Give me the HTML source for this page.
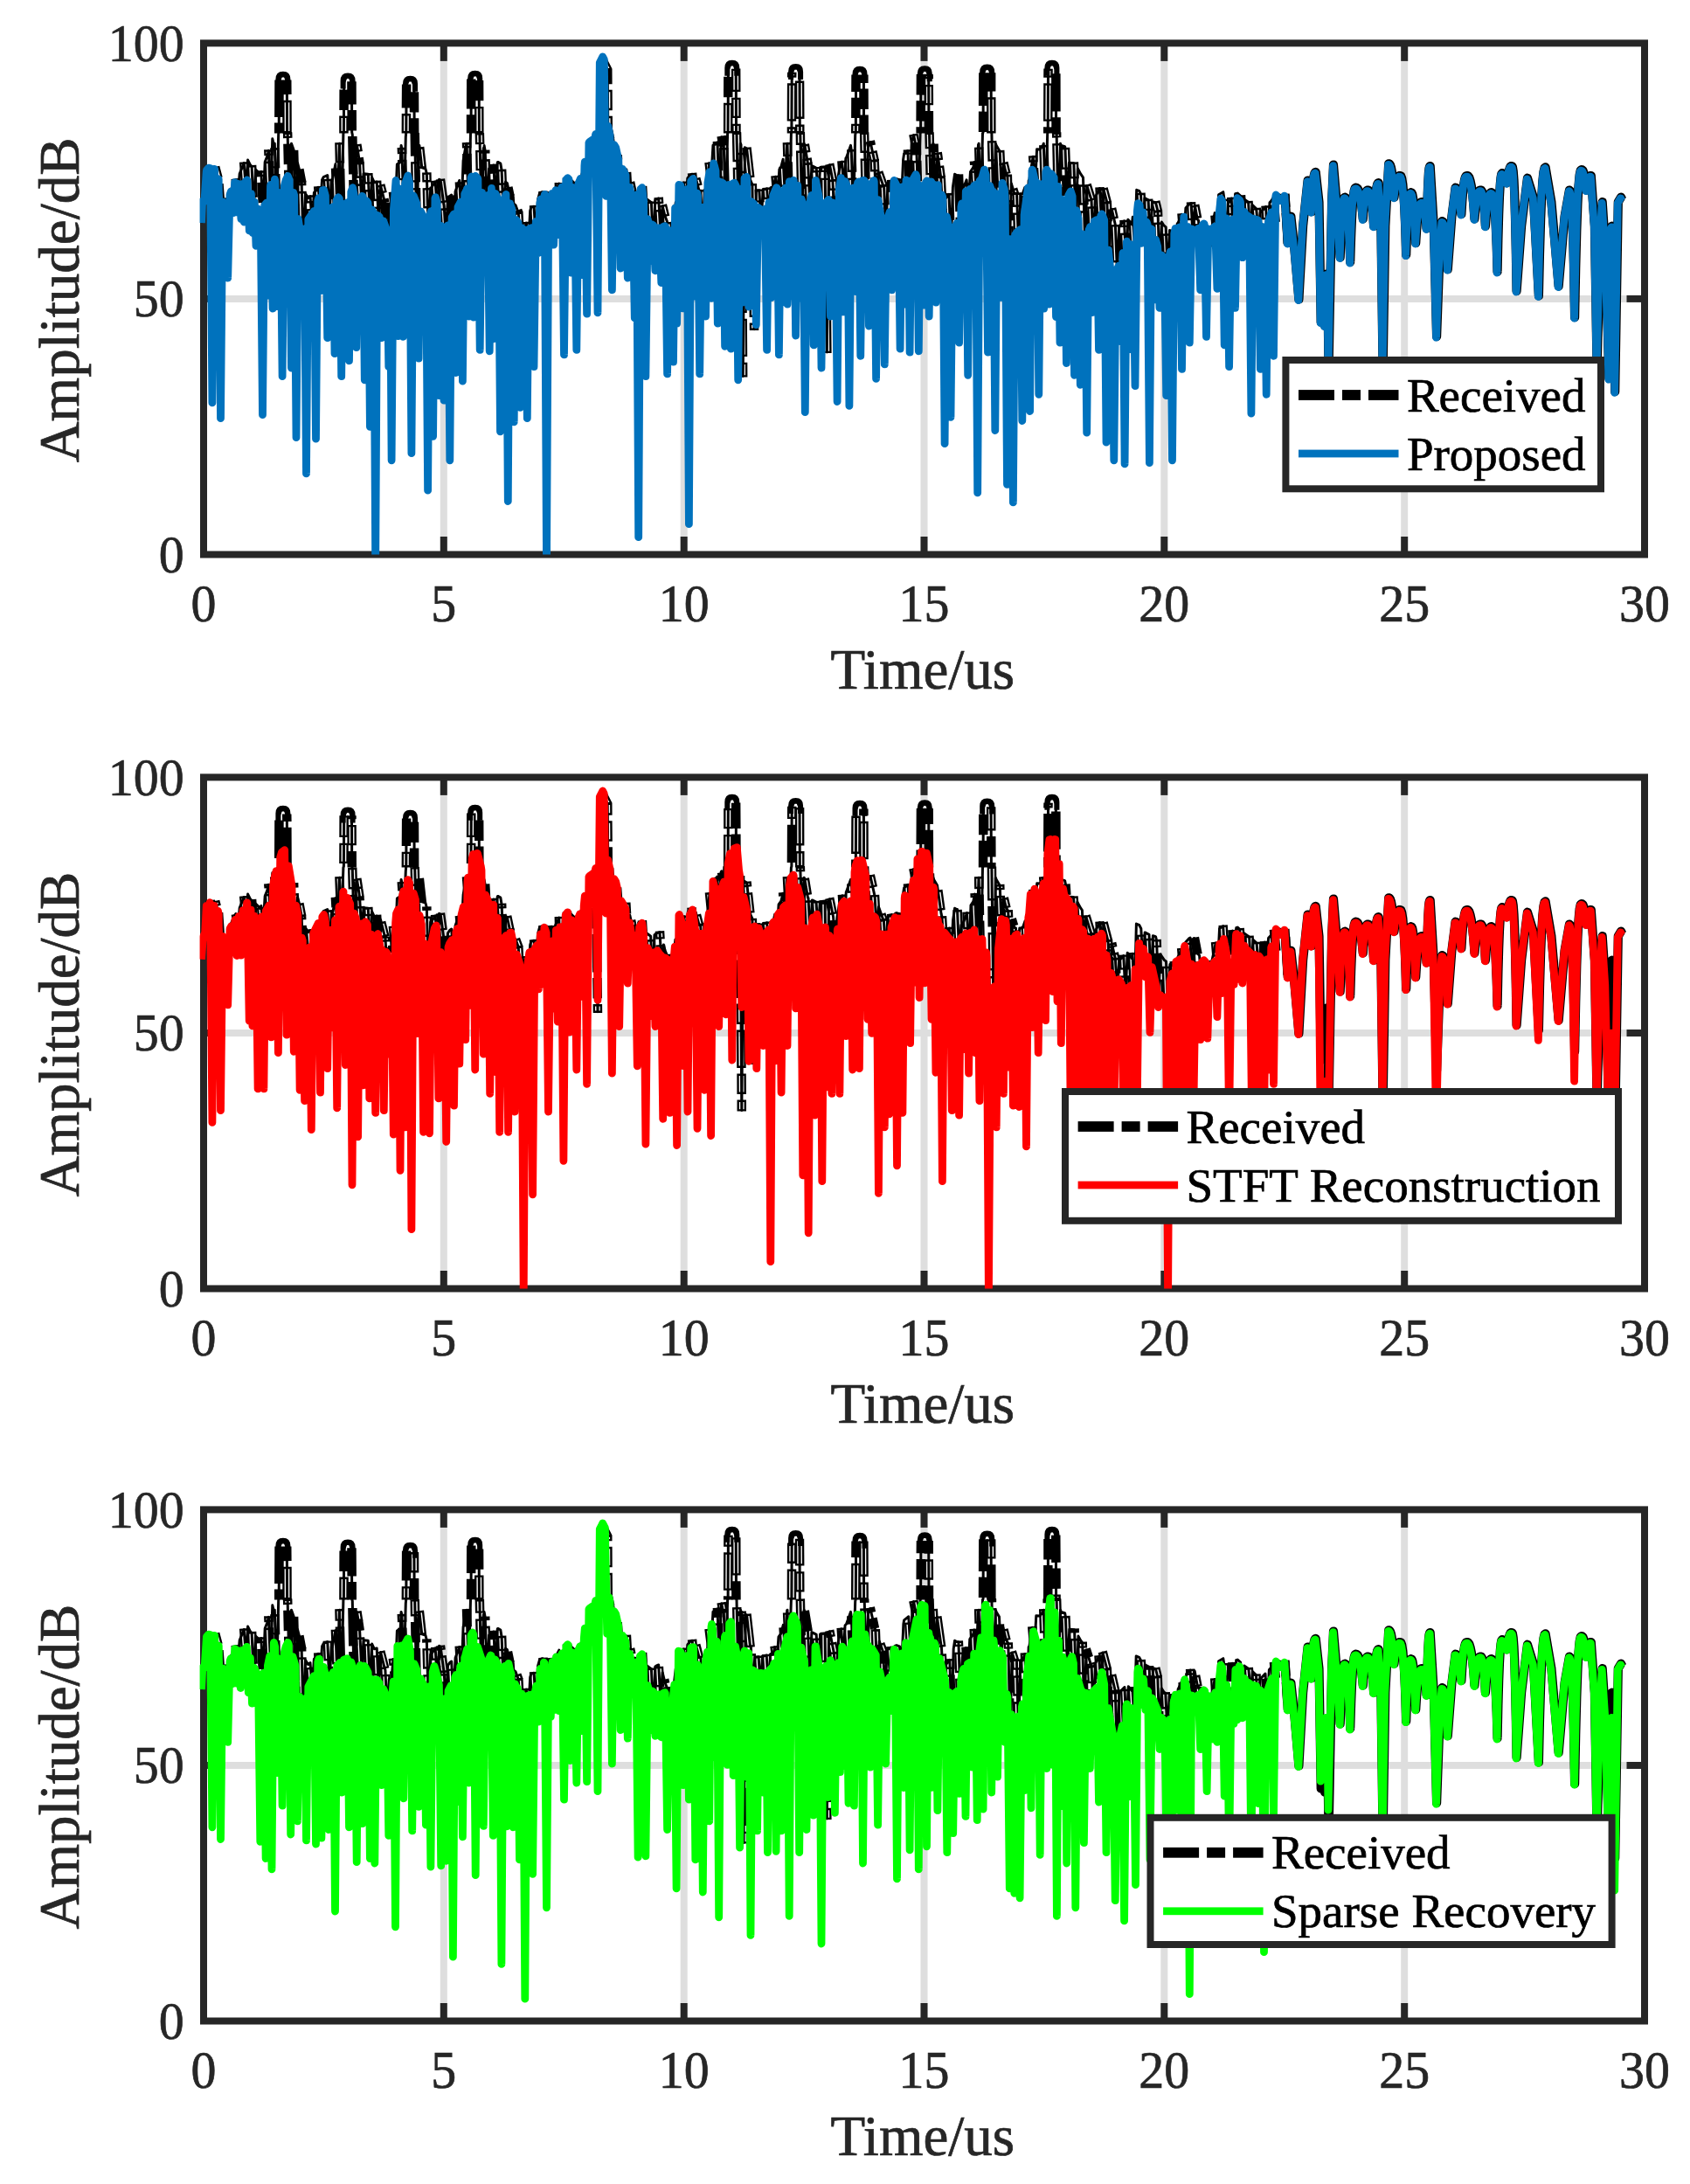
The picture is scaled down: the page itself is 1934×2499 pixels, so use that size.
<!DOCTYPE html>
<html lang="en"><head><meta charset="utf-8"><title>Amplitude vs Time</title>
<style>
html,body{margin:0;padding:0;background:#fff}
svg{display:block}
text{font-family:"Liberation Serif","Times New Roman",serif;stroke-width:0.7px;paint-order:stroke fill}
.tk,.lb{stroke:#262626}
.lg{stroke:#000}
.tk{font-size:60px;fill:#262626}
.lb{font-size:65px;fill:#262626}
.lg{font-size:55px;fill:#000}
.c{fill:none;stroke-linejoin:round;stroke-linecap:butt}
</style></head><body>
<svg width="1934" height="2499" viewBox="0 0 1934 2499">
<rect width="1934" height="2499" fill="#fff"/>
<defs><clipPath id="cp0"><rect x="228.6" y="49.4" width="1657.8" height="585.1"/></clipPath><clipPath id="cp1"><rect x="228.6" y="889.4" width="1657.8" height="585.1"/></clipPath><clipPath id="cp2"><rect x="228.6" y="1727.4" width="1657.8" height="585.1"/></clipPath></defs>
<g id="plot1">
<line x1="507.8" y1="49.4" x2="507.8" y2="634.5" stroke="#dedede" stroke-width="8"/>
<line x1="782.7" y1="49.4" x2="782.7" y2="634.5" stroke="#dedede" stroke-width="8"/>
<line x1="1057.5" y1="49.4" x2="1057.5" y2="634.5" stroke="#dedede" stroke-width="8"/>
<line x1="1332.3" y1="49.4" x2="1332.3" y2="634.5" stroke="#dedede" stroke-width="8"/>
<line x1="1607.2" y1="49.4" x2="1607.2" y2="634.5" stroke="#dedede" stroke-width="8"/>
<line x1="233.0" y1="341.9" x2="1882.0" y2="341.9" stroke="#dedede" stroke-width="8"/>
<line x1="507.8" y1="634.5" x2="507.8" y2="614.0" stroke="#262626" stroke-width="8"/>
<line x1="507.8" y1="49.4" x2="507.8" y2="69.9" stroke="#262626" stroke-width="8"/>
<line x1="782.7" y1="634.5" x2="782.7" y2="614.0" stroke="#262626" stroke-width="8"/>
<line x1="782.7" y1="49.4" x2="782.7" y2="69.9" stroke="#262626" stroke-width="8"/>
<line x1="1057.5" y1="634.5" x2="1057.5" y2="614.0" stroke="#262626" stroke-width="8"/>
<line x1="1057.5" y1="49.4" x2="1057.5" y2="69.9" stroke="#262626" stroke-width="8"/>
<line x1="1332.3" y1="634.5" x2="1332.3" y2="614.0" stroke="#262626" stroke-width="8"/>
<line x1="1332.3" y1="49.4" x2="1332.3" y2="69.9" stroke="#262626" stroke-width="8"/>
<line x1="1607.2" y1="634.5" x2="1607.2" y2="614.0" stroke="#262626" stroke-width="8"/>
<line x1="1607.2" y1="49.4" x2="1607.2" y2="69.9" stroke="#262626" stroke-width="8"/>
<line x1="233.0" y1="341.9" x2="253.5" y2="341.9" stroke="#262626" stroke-width="8"/>
<line x1="1882.0" y1="341.9" x2="1861.5" y2="341.9" stroke="#262626" stroke-width="8"/>
<rect x="233.0" y="49.4" width="1649.0" height="585.1" fill="none" stroke="#262626" stroke-width="8"/>
<g clip-path="url(#cp0)"><g transform="translate(0 0)">
<path class="c" stroke="#000" stroke-width="3" d="M230.5 255.1 L232.3 230.1 L233.7 217.9 L236.5 193.4 L238.7 190.9 L240.7 191.2 L242.9 216.9 L245.1 191.9 L246.5 192.2 L250.1 205.6 L252.3 236.3 L254.5 228.0 L257.4 251.3 L260.1 236.7 L262.3 243.6 L264.5 216.7 L268.7 207.2 L269.8 205.5 L272.0 224.3 L274.2 198.9 L279.2 186.5 L281.4 215.7 L283.6 183.1 L286.5 188.9 L288.1 190.3 L290.3 242.1 L292.5 194.1 L297.8 199.1 L298.8 196.5 L301.0 239.1 L303.2 185.3 L305.8 178.8 L307.4 172.4 L309.6 229.1 L311.8 158.8 L313.5 166.4 L314.3 164.2 L316.5 246.5 L318.7 152.7 L319.2 151.3 L319.5 92.7 L321.7 87.0 L326.1 87.0 L328.3 92.7 L328.6 151.3 L329.1 152.7 L331.3 240.4 L333.5 164.2 L334.3 166.4 L336.1 171.5 L338.3 257.6 L340.5 186.4 L342.7 194.9 L345.1 208.1 L347.3 288.4 L349.5 221.5 L352.7 226.6 L355.0 224.5 L357.2 255.5 L359.4 220.4 L362.7 217.2 L364.2 214.3 L366.4 238.7 L368.6 205.7 L370.2 202.6 L374.7 200.5 L374.8 200.6 L377.0 247.2 L379.2 206.1 L380.2 207.3 L383.9 187.8 L386.1 243.9 L388.3 164.6 L388.5 164.2 L390.7 264.5 L392.9 152.7 L393.4 151.3 L393.7 94.4 L395.9 88.6 L400.3 88.6 L402.5 94.4 L402.7 151.3 L403.3 154.0 L405.5 259.0 L407.7 169.9 L408.5 166.4 L410.0 176.1 L411.6 186.9 L413.8 232.9 L416.0 198.7 L421.3 199.3 L423.5 256.2 L425.7 203.1 L428.4 208.8 L431.2 208.0 L433.4 256.8 L435.6 212.6 L440.2 230.8 L440.9 232.7 L443.1 281.2 L445.3 243.3 L447.5 248.5 L450.0 220.6 L452.2 241.3 L454.4 188.0 L458.2 185.4 L459.1 166.4 L459.9 170.1 L462.1 248.1 L464.3 156.4 L464.8 151.3 L465.1 97.7 L467.3 91.9 L471.7 91.9 L473.9 97.7 L474.2 151.3 L474.7 153.3 L476.9 266.9 L479.1 169.6 L479.9 172.4 L479.9 166.4 L482.8 191.8 L486.9 193.0 L488.3 198.5 L490.5 274.7 L492.7 215.1 L492.9 215.6 L498.1 208.0 L498.2 207.9 L500.4 244.7 L502.6 205.3 L504.1 206.0 L508.0 234.8 L508.1 234.7 L510.3 269.5 L512.5 227.8 L514.6 224.5 L516.7 223.0 L518.9 268.7 L521.1 219.0 L525.7 206.5 L527.9 245.1 L530.1 184.1 L532.4 170.5 L533.2 166.4 L534.1 164.2 L536.3 245.2 L538.5 152.7 L539.0 151.3 L539.3 91.6 L541.5 85.9 L545.9 85.9 L548.1 91.6 L548.4 151.3 L548.9 153.3 L551.1 253.2 L553.3 169.6 L554.1 172.4 L554.1 166.4 L555.2 172.8 L557.4 241.2 L559.6 193.0 L564.9 189.0 L567.1 232.7 L569.3 185.7 L569.8 185.4 L572.8 187.0 L574.1 195.0 L576.3 249.7 L578.5 208.3 L580.4 209.5 L583.4 223.8 L585.6 259.2 L587.8 233.2 L590.0 234.7 L593.3 243.8 L595.5 285.4 L597.7 256.0 L600.0 262.3 L602.3 255.1 L604.5 284.7 L606.7 241.1 L607.8 237.4 L611.1 236.2 L613.3 276.0 L615.5 228.3 L617.6 220.8 L620.6 219.7 L621.5 220.0 L623.7 250.6 L625.9 221.0 L631.3 220.3 L633.5 239.8 L635.7 218.3 L639.8 210.1 L640.0 221.1 L640.1 220.8 L642.3 240.0 L644.5 211.9 L648.0 204.8 L649.0 204.3 L651.2 226.9 L653.4 205.7 L657.9 210.1 L658.8 209.2 L661.0 228.7 L663.2 204.8 L664.5 203.5 L668.1 192.6 L670.3 199.9 L672.5 170.0 L674.6 166.3 L677.7 164.1 L679.9 179.4 L682.1 155.3 L683.7 147.8 L684.2 79.7 L689.7 69.0 L689.8 69.2 L695.2 79.7 L695.8 147.8 L697.9 157.9 L700.1 179.9 L702.3 168.9 L704.8 173.1 L706.7 178.5 L708.9 209.9 L711.1 191.0 L711.7 192.7 L716.9 194.0 L719.1 231.9 L721.3 209.7 L723.8 221.1 L726.4 219.1 L728.6 241.0 L730.8 215.7 L731.8 214.9 L735.2 214.4 L737.4 251.9 L739.6 227.4 L745.4 231.8 L747.6 284.9 L749.8 229.0 L751.3 227.9 L753.7 227.0 L755.9 268.1 L758.1 235.7 L761.0 247.3 L763.4 253.3 L765.6 281.4 L767.8 264.4 L769.1 267.8 L773.3 231.4 L775.5 236.4 L777.7 210.6 L782.4 209.0 L784.6 231.3 L786.8 204.0 L789.5 200.5 L792.2 199.2 L794.4 225.8 L796.6 205.1 L800.1 218.5 L801.9 218.2 L804.1 270.8 L806.3 217.3 L808.8 216.8 L811.6 186.8 L813.8 203.8 L816.0 166.2 L819.7 164.6 L821.0 162.9 L823.2 225.9 L825.4 157.3 L825.8 156.8 L827.4 166.4 L828.2 164.2 L830.4 245.1 L832.6 152.7 L833.1 151.3 L833.4 79.8 L835.6 74.1 L840.0 74.1 L842.2 79.8 L842.5 151.3 L843.0 152.7 L845.2 252.6 L847.4 164.2 L848.0 165.6 L850.2 430.4 L852.4 168.7 L854.6 170.0 L858.5 205.6 L860.9 211.2 L863.1 376.8 L865.3 218.1 L868.8 217.7 L871.0 255.9 L873.2 217.0 L874.2 216.9 L877.6 215.9 L879.8 243.8 L882.0 214.6 L885.1 213.7 L887.5 202.2 L889.7 225.9 L891.9 193.7 L893.8 191.2 L896.1 182.3 L898.3 221.6 L900.5 165.5 L901.0 164.2 L903.2 242.0 L905.4 152.7 L905.9 151.3 L906.2 84.0 L908.4 78.2 L912.8 78.2 L915.0 84.0 L915.3 151.3 L915.8 152.7 L918.0 264.6 L920.2 164.2 L921.0 166.4 L924.5 187.3 L924.6 187.4 L926.8 231.4 L929.0 189.7 L934.0 192.2 L934.2 192.2 L936.4 228.7 L938.6 191.6 L944.1 191.0 L946.3 402.9 L948.5 189.2 L949.5 188.8 L953.0 206.6 L955.2 265.4 L957.4 212.2 L961.8 186.8 L963.5 185.2 L965.7 215.4 L967.9 181.0 L968.6 180.2 L973.5 166.4 L974.3 172.2 L976.5 249.2 L978.7 154.6 L979.3 151.3 L979.6 86.7 L981.8 80.9 L986.2 80.9 L988.4 86.7 L988.6 151.3 L989.2 152.7 L991.4 244.2 L993.6 164.2 L994.4 166.4 L996.0 162.6 L1000.7 183.8 L1002.9 241.3 L1005.1 196.6 L1005.7 198.3 L1010.9 212.8 L1011.6 212.4 L1013.8 268.0 L1016.0 209.5 L1020.3 206.7 L1022.5 228.2 L1024.7 205.1 L1026.0 204.6 L1029.2 205.6 L1031.4 232.4 L1033.6 182.7 L1034.6 175.9 L1038.9 172.5 L1041.1 231.8 L1043.3 161.6 L1045.6 154.6 L1047.9 166.4 L1048.7 164.2 L1050.9 241.2 L1053.1 152.7 L1053.6 151.3 L1053.9 86.2 L1056.1 80.4 L1060.5 80.4 L1062.7 86.2 L1063.0 151.3 L1063.5 152.7 L1065.7 242.1 L1067.9 164.2 L1068.5 165.8 L1070.7 226.1 L1072.9 175.8 L1076.7 202.9 L1078.9 246.8 L1081.1 221.3 L1082.5 226.6 L1086.0 222.3 L1088.2 282.5 L1090.4 214.2 L1092.6 199.3 L1094.8 200.5 L1097.1 200.7 L1099.3 264.9 L1101.5 218.1 L1106.1 205.8 L1108.3 232.0 L1110.5 196.6 L1113.8 191.5 L1115.1 185.5 L1117.3 217.5 L1119.5 165.8 L1120.1 164.2 L1122.3 239.7 L1124.5 152.7 L1125.1 151.3 L1125.3 84.5 L1127.5 78.7 L1131.9 78.7 L1134.1 84.5 L1134.4 151.3 L1134.9 152.7 L1137.1 253.6 L1139.3 164.2 L1140.2 166.4 L1144.2 173.3 L1146.4 222.8 L1148.6 187.1 L1151.3 198.2 L1152.9 200.9 L1155.1 296.2 L1157.3 210.0 L1160.9 221.6 L1163.6 221.7 L1165.8 287.9 L1168.0 221.9 L1170.2 222.0 L1172.8 214.5 L1175.0 249.7 L1177.2 206.6 L1177.9 205.8 L1182.2 179.3 L1184.4 214.9 L1186.6 170.8 L1190.2 170.9 L1193.5 166.4 L1194.3 164.2 L1196.5 232.2 L1198.7 152.7 L1199.2 151.3 L1199.5 79.8 L1201.7 74.1 L1206.1 74.1 L1208.3 79.8 L1208.6 151.3 L1209.1 152.7 L1211.3 249.4 L1213.5 164.2 L1214.3 166.4 L1218.6 167.6 L1219.0 170.0 L1221.2 233.4 L1223.4 186.3 L1228.9 186.7 L1231.1 256.8 L1233.3 192.8 L1236.6 198.9 L1239.5 203.1 L1241.7 279.6 L1243.9 212.5 L1249.0 228.7 L1251.2 281.2 L1253.4 225.5 L1258.5 215.5 L1260.7 258.2 L1262.9 216.7 L1266.9 231.9 L1269.1 294.8 L1271.3 238.9 L1272.3 239.6 L1276.3 257.0 L1278.5 311.9 L1280.7 258.9 L1286.5 252.9 L1288.7 303.8 L1290.9 251.2 L1295.4 256.8 L1296.3 248.2 L1298.5 282.5 L1300.7 217.3 L1303.6 218.3 L1305.5 221.9 L1307.7 266.3 L1309.9 226.7 L1314.1 228.9 L1316.3 280.3 L1318.5 230.6 L1322.5 231.6 L1325.0 241.7 L1327.2 311.7 L1329.4 254.1 L1332.1 258.2 L1334.2 259.9 L1336.4 313.9 L1338.6 263.4 L1340.7 265.0 L1342.8 262.1 L1345.0 287.4 L1347.2 256.0 L1348.7 253.9 L1352.5 245.4 L1354.7 273.3 L1356.9 238.0 L1361.0 233.5 L1363.1 232.5 L1365.3 276.7 L1367.5 235.8 L1370.3 250.9 L1371.6 252.3 L1373.8 286.6 L1376.0 256.7 L1381.7 260.6 L1383.9 281.6 L1386.1 263.6 L1390.2 243.6 L1392.4 267.4 L1394.6 222.8 L1399.8 219.7 L1400.9 227.3 L1403.1 273.4 L1405.3 233.1 L1409.2 227.0 L1411.4 273.5 L1413.6 221.7 L1416.3 221.1 L1420.1 224.6 L1422.3 260.5 L1424.5 228.5 L1428.6 231.2 L1430.8 268.6 L1433.0 234.4 L1437.7 238.8 L1439.9 264.9 L1442.1 242.8 L1442.4 243.1 L1448.6 236.6 L1450.8 276.8 L1453.0 231.9 L1454.7 230.1 L1457.3 225.8 L1459.5 253.0 L1461.7 221.8 L1465.1 223.4 L1470.5 223.0 L1473.8 277.9"/>
<path fill="#000" stroke="#000" stroke-width="2.4" stroke-linejoin="miter" d="M267.2 217.6 L268.0 224.7 L276.0 223.8 L275.2 216.7ZM295.5 210.2 L296.6 231.1 L304.6 230.7 L303.6 209.7ZM323.3 151.3 L323.3 141.8 L315.2 141.8 L315.2 151.2ZM323.4 132.8 L323.6 92.8 L315.5 92.7 L315.3 132.8ZM324.2 92.8 L324.3 107.0 L332.4 106.9 L332.3 92.7ZM325.4 165.9 L325.9 186.9 L334.0 186.7 L333.5 165.7ZM332.1 173.1 L332.7 194.1 L340.8 193.9 L340.2 172.9ZM334.2 253.1 L334.3 257.7 L342.4 257.5 L342.3 252.9ZM338.7 195.7 L341.1 208.8 L349.1 207.4 L346.6 194.2ZM397.6 124.9 L397.7 103.9 L389.6 103.8 L389.5 124.8ZM398.4 94.4 L398.5 118.2 L406.6 118.2 L406.5 94.4ZM398.6 127.2 L398.7 148.2 L406.8 148.2 L406.7 127.2ZM399.3 157.2 L400.2 198.2 L408.3 198.1 L407.4 157.1ZM400.4 207.2 L400.8 228.2 L408.9 228.0 L408.5 207.0ZM406.8 182.2 L407.6 187.5 L415.6 186.3 L414.8 181.0ZM436.9 232.8 L437.7 249.8 L445.8 249.4 L445.0 232.5ZM446.0 221.0 L448.2 241.8 L456.2 240.9 L454.0 220.2ZM457.1 214.1 L458.0 248.2 L466.1 248.0 L465.2 213.9ZM469.0 122.3 L469.2 97.7 L461.1 97.7 L460.9 122.2ZM469.9 106.4 L470.0 127.4 L478.1 127.4 L478.0 106.4ZM470.0 136.4 L470.1 151.3 L478.2 151.2 L478.1 136.4ZM470.7 153.4 L471.1 177.4 L479.2 177.2 L478.8 153.2ZM512.7 224.9 L513.7 245.9 L521.8 245.5 L520.8 224.5ZM530.4 177.2 L530.9 198.2 L539.0 198.0 L538.5 177.0ZM543.1 151.3 L543.1 132.5 L535.0 132.4 L535.0 151.2ZM543.2 123.5 L543.3 91.7 L535.2 91.6 L535.1 123.4ZM544.0 93.1 L544.1 114.1 L552.2 114.1 L552.1 93.1ZM553.1 233.6 L553.4 241.3 L561.5 241.0 L561.2 233.3ZM560.9 189.2 L561.3 197.7 L569.4 197.2 L568.9 188.8ZM561.7 206.6 L562.8 227.6 L570.9 227.2 L569.8 206.2ZM577.7 216.2 L579.5 224.7 L587.4 223.0 L585.6 214.6ZM579.4 224.1 L581.4 256.4 L589.5 255.9 L587.5 223.6ZM636.6 225.9 L638.3 240.4 L646.3 239.5 L644.7 225.0ZM654.7 209.6 L656.7 227.0 L664.8 226.1 L662.8 208.7ZM691.2 79.7 L691.3 95.0 L699.4 95.0 L699.3 79.7ZM702.7 178.8 L702.9 181.6 L711.0 181.1 L710.8 178.2ZM713.1 198.6 L714.3 219.5 L722.4 219.1 L721.2 198.1ZM789.2 212.7 L790.3 226.1 L798.4 225.5 L797.3 212.0ZM821.8 157.5 L823.3 166.4 L831.3 165.1 L829.8 156.2ZM837.3 110.1 L837.4 89.1 L829.3 89.0 L829.2 110.0ZM857.2 240.7 L857.8 281.7 L865.9 281.6 L865.3 240.6ZM913.2 223.7 L913.6 244.7 L921.7 244.5 L921.3 223.5ZM931.0 205.5 L932.4 228.9 L940.5 228.4 L939.1 205.0ZM949.7 225.8 L950.5 246.8 L958.6 246.5 L957.8 225.5ZM950.8 255.8 L951.2 265.6 L959.3 265.3 L958.9 255.5ZM983.4 133.9 L983.5 112.9 L975.4 112.9 L975.3 133.9ZM983.5 103.9 L983.6 86.7 L975.5 86.7 L975.4 103.9ZM984.3 86.7 L984.3 93.8 L992.4 93.7 L992.4 86.7ZM984.4 102.8 L984.5 123.8 L992.6 123.7 L992.5 102.7ZM984.5 132.8 L984.6 151.3 L992.7 151.2 L992.6 132.7ZM992.1 163.5 L992.7 166.4 L1000.6 164.7 L1000.0 161.7ZM1016.2 207.1 L1017.4 218.6 L1025.5 217.8 L1024.3 206.3ZM1035.3 184.7 L1036.1 205.7 L1044.2 205.4 L1043.4 184.4ZM1044.6 164.3 L1045.0 176.2 L1053.1 176.0 L1052.7 164.1ZM1046.1 215.2 L1046.8 241.3 L1054.9 241.1 L1054.2 215.0ZM1057.7 151.3 L1057.7 146.5 L1049.6 146.4 L1049.6 151.2ZM1057.7 137.5 L1057.8 116.5 L1049.7 116.4 L1049.6 137.4ZM1057.9 107.5 L1058.0 86.2 L1049.9 86.1 L1049.8 107.4ZM1058.8 128.1 L1058.9 151.3 L1067.0 151.2 L1066.9 128.1ZM1064.5 166.0 L1064.7 173.3 L1072.8 173.0 L1072.6 165.7ZM1083.4 259.9 L1084.1 280.9 L1092.2 280.6 L1091.5 259.6ZM1093.0 200.8 L1094.4 240.9 L1102.5 240.6 L1101.1 200.6ZM1111.0 185.8 L1111.2 187.8 L1119.3 187.3 L1119.1 185.3ZM1129.1 149.9 L1129.2 128.9 L1121.1 128.8 L1121.0 149.8ZM1129.2 119.9 L1129.4 84.5 L1121.3 84.5 L1121.1 119.8ZM1130.1 84.5 L1130.1 103.5 L1138.2 103.4 L1138.2 84.5ZM1179.0 193.7 L1180.3 215.1 L1188.4 214.6 L1187.1 193.2ZM1203.3 151.3 L1203.3 146.6 L1195.2 146.5 L1195.2 151.2ZM1204.3 85.4 L1204.4 126.4 L1212.5 126.4 L1212.4 85.4ZM1204.5 135.4 L1204.5 151.3 L1212.6 151.2 L1212.6 135.4ZM1216.1 201.7 L1216.8 222.7 L1224.9 222.4 L1224.2 201.4ZM1246.6 267.6 L1247.2 281.3 L1255.2 281.0 L1254.7 267.2ZM1284.4 297.9 L1284.7 303.9 L1292.7 303.6 L1292.5 297.6ZM1312.2 278.9 L1312.3 280.5 L1320.4 280.2 L1320.3 278.5ZM1377.6 261.0 L1378.1 265.6 L1386.2 264.8 L1385.7 260.2ZM1416.0 224.8 L1418.0 257.4 L1426.1 256.9 L1424.1 224.3ZM1454.1 235.9 L1455.5 253.3 L1463.6 252.7 L1462.2 235.2Z"/>
<path fill="none" stroke="#000" stroke-width="2.4" stroke-linejoin="miter" d="M236.7 191.5 L238.9 217.2 L247.0 216.5 L244.8 190.9ZM242.5 193.2 L245.4 203.7 L253.2 201.6 L250.4 191.1ZM246.5 211.8 L248.3 236.5 L256.4 236.0 L254.6 211.2ZM250.5 228.5 L251.5 236.2 L259.5 235.2 L258.5 227.5ZM252.6 245.1 L253.4 251.8 L261.4 250.8 L260.6 244.1ZM265.8 206.0 L266.1 208.7 L274.2 207.8 L273.8 205.0ZM275.2 186.8 L277.0 211.8 L285.1 211.2 L283.2 186.2ZM284.1 190.5 L285.6 224.8 L293.7 224.5 L292.2 190.1ZM285.9 233.8 L286.3 242.3 L294.4 241.9 L294.0 233.5ZM294.8 196.7 L295.0 201.2 L303.1 200.7 L302.9 196.3ZM303.3 172.5 L303.5 177.0 L311.6 176.6 L311.4 172.2ZM303.8 186.0 L305.4 226.9 L313.5 226.6 L311.9 185.6ZM310.4 170.5 L311.0 191.5 L319.1 191.2 L318.5 170.3ZM311.2 200.5 L312.3 241.4 L320.4 241.2 L319.3 200.2ZM324.4 116.0 L324.5 151.3 L332.6 151.2 L332.5 115.9ZM325.1 152.8 L325.2 156.9 L333.3 156.7 L333.2 152.6ZM326.2 195.9 L327.2 236.9 L335.3 236.7 L334.2 195.7ZM332.9 203.1 L333.9 244.1 L342.0 243.9 L341.0 202.9ZM341.0 208.2 L341.1 211.2 L349.2 211.0 L349.1 208.0ZM341.4 220.2 L342.5 261.2 L350.6 261.0 L349.5 220.0ZM342.7 270.2 L343.2 288.5 L351.3 288.3 L350.8 270.0ZM350.9 224.8 L351.4 231.4 L359.5 230.9 L359.0 224.2ZM352.0 240.4 L353.1 255.8 L361.2 255.2 L360.1 239.8ZM360.2 214.7 L361.3 227.2 L369.3 226.4 L368.2 214.0ZM362.1 236.1 L362.4 239.1 L370.4 238.3 L370.2 235.4ZM371.0 206.1 L372.0 227.1 L380.1 226.7 L379.1 205.7ZM372.4 236.0 L373.0 247.3 L381.1 247.0 L380.5 235.7ZM380.1 193.9 L381.7 234.9 L389.8 234.6 L388.2 193.6ZM384.4 164.4 L384.9 185.3 L393.0 185.2 L392.5 164.2ZM385.1 194.3 L386.0 235.3 L394.1 235.2 L393.2 194.2ZM386.2 244.3 L386.6 264.6 L394.7 264.4 L394.3 244.2ZM397.5 151.3 L397.5 133.9 L389.4 133.8 L389.4 151.2ZM401.0 237.2 L401.4 259.1 L409.5 258.9 L409.1 237.0ZM404.5 167.0 L405.4 173.3 L413.5 172.1 L412.5 165.8ZM407.6 187.1 L408.3 202.7 L416.4 202.3 L415.6 186.7ZM408.7 211.7 L409.8 233.1 L417.8 232.7 L416.8 211.3ZM417.3 199.5 L417.7 209.4 L425.8 209.1 L425.4 199.2ZM418.0 218.4 L419.5 256.3 L427.6 256.0 L426.1 218.0ZM427.1 208.2 L428.1 228.9 L436.2 228.5 L435.2 207.8ZM428.5 237.9 L429.3 257.0 L437.4 256.6 L436.6 237.5ZM431.7 213.6 L433.5 221.1 L441.4 219.1 L439.5 211.7ZM435.7 229.8 L436.3 231.8 L444.1 229.8 L443.6 227.9ZM438.1 258.8 L439.1 281.4 L447.2 281.0 L446.2 258.4ZM455.8 170.2 L456.0 175.1 L464.1 174.9 L463.9 170.0ZM456.2 184.1 L456.8 205.1 L464.9 204.9 L464.3 183.9ZM468.9 151.3 L469.0 131.3 L460.9 131.2 L460.8 151.2ZM471.3 186.4 L471.7 207.4 L479.8 207.2 L479.4 186.2ZM471.9 216.4 L472.7 257.4 L480.8 257.2 L480.0 216.2ZM476.3 170.1 L478.7 192.2 L486.8 191.3 L484.3 169.2ZM484.3 198.7 L484.5 207.3 L492.6 207.1 L492.4 198.4ZM484.8 216.3 L485.4 237.3 L493.5 237.1 L492.9 216.1ZM485.7 246.3 L486.5 274.8 L494.6 274.6 L493.8 246.1ZM494.1 208.1 L495.5 231.2 L503.6 230.7 L502.2 207.6ZM496.0 240.2 L496.3 244.9 L504.4 244.4 L504.1 239.7ZM500.1 206.5 L503.4 231.4 L511.5 230.3 L508.1 205.5ZM504.3 239.7 L505.7 260.7 L513.7 260.2 L512.4 239.2ZM514.1 254.9 L514.8 268.9 L522.9 268.5 L522.2 254.5ZM521.9 209.7 L523.9 245.4 L532.0 244.9 L530.0 209.2ZM530.0 164.3 L530.1 168.2 L538.2 168.0 L538.1 164.1ZM531.2 207.2 L532.2 245.3 L540.3 245.1 L539.3 207.0ZM544.2 123.1 L544.3 151.3 L552.4 151.2 L552.3 123.1ZM544.8 153.4 L545.1 164.1 L553.2 163.9 L552.9 153.2ZM545.3 173.1 L545.7 194.1 L553.8 193.9 L553.4 172.9ZM545.9 203.1 L546.8 244.1 L554.9 243.9 L554.0 202.9ZM551.2 172.9 L551.2 174.6 L559.3 174.3 L559.3 172.7ZM551.5 183.6 L552.8 224.6 L560.9 224.3 L559.6 183.3ZM570.1 195.2 L570.7 210.7 L578.8 210.3 L578.2 194.8ZM571.1 219.6 L572.3 249.8 L580.4 249.5 L579.1 219.3ZM588.7 243.0 L589.5 245.2 L597.2 242.4 L596.4 240.2ZM589.3 244.0 L591.3 282.6 L599.4 282.2 L597.4 243.6ZM598.2 255.4 L600.4 285.0 L608.5 284.4 L606.3 254.8ZM607.1 236.4 L608.9 269.2 L617.0 268.7 L615.1 235.9ZM617.5 220.2 L618.4 233.4 L626.5 232.9 L625.6 219.7ZM619.1 242.4 L619.7 250.9 L627.8 250.4 L627.2 241.8ZM627.3 220.8 L629.5 240.2 L637.5 239.3 L635.3 219.9ZM635.8 210.1 L635.9 217.1 L644.0 217.0 L643.9 210.0ZM645.0 204.7 L646.9 223.7 L654.9 222.9 L653.1 203.9ZM674.2 168.5 L675.9 180.0 L683.9 178.8 L682.3 167.3ZM686.2 71.0 L691.6 81.6 L698.8 77.9 L693.4 67.3ZM691.4 104.0 L691.5 125.0 L699.6 125.0 L699.5 104.0ZM691.6 134.0 L691.7 147.9 L699.8 147.8 L699.7 134.0ZM691.8 148.7 L693.9 158.7 L701.9 157.1 L699.7 147.0ZM693.9 158.3 L695.5 175.1 L703.6 174.3 L701.9 157.5ZM703.5 190.6 L704.9 210.2 L713.0 209.6 L711.6 190.1ZM714.9 228.5 L715.1 232.2 L723.2 231.7 L722.9 228.1ZM717.4 210.6 L719.8 221.9 L727.7 220.2 L725.3 208.8ZM723.3 228.5 L724.6 241.4 L732.6 240.6 L731.3 227.7ZM731.1 214.6 L732.8 242.5 L740.8 242.0 L739.2 214.1ZM741.4 232.0 L743.0 270.4 L751.1 270.0 L749.5 231.6ZM743.3 279.4 L743.6 285.0 L751.7 284.7 L751.4 279.0ZM749.7 227.3 L750.0 232.3 L758.1 231.8 L757.8 226.8ZM750.4 241.2 L751.6 262.2 L759.7 261.8 L758.5 240.8ZM754.2 236.7 L757.0 247.9 L764.8 245.9 L762.1 234.8ZM759.5 255.7 L761.1 276.7 L769.2 276.0 L767.6 255.1ZM778.4 209.4 L780.6 231.7 L788.7 230.9 L786.5 208.6ZM788.1 199.6 L788.5 203.7 L796.6 203.1 L796.2 198.9ZM792.7 206.2 L794.4 212.7 L802.2 210.6 L800.5 204.1ZM797.9 218.4 L798.7 239.4 L806.8 239.0 L806.0 218.1ZM799.1 248.4 L800.1 271.0 L808.2 270.7 L807.2 248.0ZM807.6 187.3 L809.1 199.4 L817.2 198.3 L815.6 186.3ZM816.9 163.1 L818.0 194.3 L826.1 194.0 L825.0 162.8ZM818.3 203.3 L819.1 224.3 L827.2 224.0 L826.4 203.0ZM824.3 170.4 L825.4 211.4 L833.5 211.1 L832.4 170.2ZM825.7 220.4 L826.2 241.3 L834.3 241.1 L833.8 220.1ZM837.2 151.3 L837.3 119.1 L829.2 119.0 L829.1 151.2ZM838.1 79.9 L838.2 103.9 L846.3 103.9 L846.2 79.8ZM838.3 112.9 L838.4 133.9 L846.5 133.9 L846.4 112.9ZM838.4 142.9 L838.4 151.3 L846.5 151.2 L846.5 142.9ZM839.0 152.8 L839.7 183.9 L847.8 183.7 L847.1 152.6ZM839.9 192.9 L840.3 213.9 L848.4 213.7 L848.0 192.7ZM840.5 222.9 L841.2 252.7 L849.3 252.5 L848.6 222.7ZM844.0 176.0 L844.2 197.0 L852.3 196.9 L852.1 175.9ZM844.2 206.0 L844.6 247.0 L852.7 246.9 L852.3 205.9ZM844.7 256.0 L844.8 277.0 L852.9 276.9 L852.8 255.9ZM844.9 286.0 L845.3 327.0 L853.4 326.9 L853.0 285.9ZM845.3 336.0 L845.5 356.9 L853.6 356.9 L853.4 335.9ZM845.6 365.9 L845.9 406.9 L854.0 406.9 L853.7 365.9ZM846.0 415.9 L846.1 430.4 L854.2 430.3 L854.1 415.9ZM850.5 170.4 L854.1 202.6 L862.2 201.7 L858.6 169.5ZM856.8 211.2 L857.1 231.7 L865.2 231.6 L864.9 211.1ZM857.9 290.7 L858.2 311.7 L866.3 311.6 L866.0 290.6ZM858.3 320.7 L858.8 361.7 L866.9 361.6 L866.4 320.6ZM858.9 370.7 L859.0 376.8 L867.1 376.7 L867.0 370.6ZM864.7 217.9 L865.5 230.6 L873.5 230.1 L872.8 217.4ZM866.0 239.5 L866.9 256.1 L875.0 255.6 L874.1 239.1ZM873.6 216.2 L874.5 227.1 L882.5 226.5 L881.7 215.6ZM875.2 236.1 L875.8 244.1 L883.9 243.5 L883.2 235.5ZM883.5 202.6 L885.2 221.4 L893.3 220.6 L891.5 201.9ZM892.6 191.9 L893.8 212.8 L901.8 212.4 L900.7 191.4ZM896.9 164.3 L897.3 177.9 L905.4 177.6 L905.0 164.1ZM897.6 186.9 L898.7 227.9 L906.8 227.6 L905.7 186.6ZM899.0 236.8 L899.1 242.1 L907.2 241.9 L907.1 236.6ZM910.0 151.3 L910.0 146.5 L901.9 146.4 L901.9 151.2ZM910.0 137.5 L910.2 96.5 L902.1 96.4 L901.9 137.4ZM910.2 87.5 L910.3 84.0 L902.2 83.9 L902.1 87.4ZM911.0 93.7 L911.2 134.7 L919.3 134.7 L919.1 93.7ZM911.2 143.7 L911.2 151.3 L919.3 151.2 L919.3 143.7ZM911.8 152.8 L912.0 164.7 L920.1 164.5 L919.9 152.6ZM912.2 173.7 L913.0 214.7 L921.1 214.5 L920.3 173.5ZM913.8 253.7 L914.0 264.7 L922.1 264.6 L921.9 253.5ZM917.0 167.0 L918.2 174.2 L926.2 172.9 L925.0 165.7ZM919.7 183.0 L920.5 188.0 L928.5 186.7 L927.7 181.7ZM920.5 187.6 L921.3 203.4 L929.4 203.0 L928.6 187.2ZM921.8 212.4 L922.7 231.6 L930.8 231.2 L929.9 212.0ZM930.2 192.4 L930.4 196.5 L938.5 196.0 L938.3 191.9ZM940.1 191.0 L940.1 195.9 L948.2 195.8 L948.2 190.9ZM940.2 204.9 L940.6 245.9 L948.7 245.8 L948.3 204.8ZM940.7 254.9 L941.0 275.9 L949.0 275.8 L948.8 254.8ZM941.0 284.9 L941.5 325.9 L949.6 325.8 L949.1 284.8ZM941.6 334.9 L941.8 355.9 L949.9 355.8 L949.7 334.8ZM941.9 364.9 L942.3 402.9 L950.4 402.8 L950.0 364.8ZM945.5 189.6 L949.1 207.4 L957.0 205.8 L953.4 188.0ZM949.0 206.7 L949.4 216.8 L957.5 216.5 L957.1 206.4ZM959.4 185.5 L961.6 215.3 L969.7 214.7 L967.5 184.9ZM970.3 172.3 L971.0 195.8 L979.1 195.5 L978.4 172.1ZM971.2 204.8 L971.8 225.8 L979.9 225.5 L979.3 204.5ZM972.1 234.8 L972.5 249.4 L980.6 249.1 L980.2 234.5ZM983.3 151.3 L983.4 142.9 L975.3 142.9 L975.2 151.2ZM985.1 152.8 L985.6 173.7 L993.7 173.5 L993.2 152.6ZM985.8 182.7 L986.3 203.7 L994.4 203.5 L993.9 182.5ZM986.6 212.7 L987.3 244.3 L995.4 244.1 L994.7 212.5ZM994.7 175.2 L996.7 184.7 L1004.7 183.0 L1002.6 173.5ZM996.6 184.0 L997.1 195.3 L1005.2 195.0 L1004.7 183.7ZM997.4 204.3 L998.8 241.5 L1006.9 241.2 L1005.5 204.0ZM1001.8 199.6 L1007.1 214.2 L1014.7 211.5 L1009.5 196.9ZM1007.5 212.5 L1008.4 233.5 L1016.5 233.2 L1015.6 212.2ZM1008.7 242.5 L1009.6 263.5 L1017.6 263.1 L1016.8 242.2ZM1025.1 206.0 L1026.1 217.9 L1034.2 217.3 L1033.2 205.3ZM1026.9 226.9 L1027.3 232.7 L1035.4 232.0 L1034.9 226.2ZM1034.9 172.6 L1035.0 175.7 L1043.1 175.4 L1043.0 172.3ZM1036.4 214.7 L1037.1 231.9 L1045.2 231.6 L1044.5 214.4ZM1041.6 155.4 L1043.9 167.1 L1051.8 165.6 L1049.5 153.8ZM1045.2 185.2 L1045.8 206.2 L1053.9 206.0 L1053.3 185.0ZM1058.6 86.2 L1058.7 89.1 L1066.8 89.1 L1066.7 86.1ZM1058.7 98.1 L1058.8 119.1 L1066.9 119.1 L1066.8 98.1ZM1059.5 152.8 L1059.9 169.1 L1068.0 168.9 L1067.6 152.6ZM1060.1 178.1 L1060.6 199.1 L1068.7 198.9 L1068.2 177.9ZM1060.8 208.1 L1061.7 242.2 L1069.8 242.0 L1068.9 207.9ZM1065.1 182.3 L1065.8 203.3 L1073.9 203.0 L1073.2 182.0ZM1066.2 212.3 L1066.7 226.3 L1074.8 226.0 L1074.3 212.0ZM1068.9 176.3 L1069.8 182.8 L1077.8 181.7 L1076.9 175.2ZM1071.1 191.7 L1072.7 203.4 L1080.7 202.3 L1079.1 190.6ZM1072.7 203.1 L1074.1 232.2 L1082.2 231.8 L1080.8 202.7ZM1074.6 241.2 L1074.9 247.0 L1083.0 246.6 L1082.7 240.8ZM1082.0 222.4 L1083.0 250.9 L1091.1 250.6 L1090.1 222.1ZM1094.7 249.9 L1095.2 265.0 L1103.3 264.7 L1102.8 249.6ZM1102.5 211.0 L1104.2 231.9 L1112.3 231.2 L1110.6 210.3ZM1111.8 196.8 L1113.2 217.7 L1121.3 217.2 L1119.9 196.2ZM1116.2 169.8 L1116.8 190.8 L1124.9 190.5 L1124.3 169.5ZM1117.1 199.8 L1118.3 239.8 L1126.4 239.5 L1125.2 199.5ZM1130.2 112.5 L1130.3 151.3 L1138.4 151.2 L1138.3 112.4ZM1131.1 162.4 L1131.6 183.4 L1139.7 183.2 L1139.2 162.2ZM1131.8 192.4 L1132.7 233.4 L1140.8 233.2 L1139.9 192.2ZM1132.8 242.4 L1133.1 253.7 L1141.2 253.5 L1140.9 242.2ZM1140.2 173.4 L1142.0 213.5 L1150.1 213.1 L1148.3 173.1ZM1144.7 188.1 L1147.4 199.1 L1155.2 197.2 L1152.6 186.2ZM1148.8 201.0 L1149.3 221.3 L1157.4 221.1 L1156.9 200.8ZM1149.5 230.3 L1150.0 251.3 L1158.1 251.1 L1157.6 230.1ZM1150.2 260.3 L1151.0 296.3 L1159.1 296.1 L1158.3 260.1ZM1155.7 218.5 L1157.0 222.8 L1164.8 220.4 L1163.4 216.1ZM1159.5 221.8 L1160.0 235.7 L1168.1 235.4 L1167.6 221.6ZM1160.3 244.7 L1161.6 285.6 L1169.7 285.4 L1168.4 244.4ZM1169.4 225.2 L1170.7 246.1 L1178.8 245.6 L1177.5 224.7ZM1178.1 179.5 L1178.5 184.7 L1186.5 184.2 L1186.2 179.0ZM1190.3 167.3 L1191.7 208.2 L1199.8 208.0 L1198.4 167.0ZM1191.9 217.2 L1192.4 232.4 L1200.5 232.1 L1200.0 217.0ZM1203.3 137.6 L1203.5 96.6 L1195.4 96.5 L1195.2 137.5ZM1203.5 87.6 L1203.6 79.9 L1195.5 79.8 L1195.4 87.5ZM1205.1 152.8 L1205.2 156.4 L1213.2 156.2 L1213.2 152.6ZM1205.4 165.4 L1206.3 206.4 L1214.4 206.2 L1213.5 165.2ZM1206.5 215.4 L1207.0 236.4 L1215.1 236.2 L1214.6 215.2ZM1207.2 245.4 L1207.3 249.4 L1215.4 249.3 L1215.3 245.2ZM1215.0 170.2 L1215.8 192.7 L1223.9 192.4 L1223.1 169.9ZM1217.1 231.7 L1217.2 233.5 L1225.3 233.3 L1225.2 231.4ZM1224.9 186.8 L1225.4 203.3 L1233.5 203.1 L1233.0 186.5ZM1225.7 212.3 L1227.0 253.3 L1235.0 253.1 L1233.8 212.1ZM1235.8 212.5 L1236.4 233.5 L1244.5 233.2 L1243.8 212.3ZM1236.6 242.5 L1237.7 279.7 L1245.8 279.4 L1244.7 242.2ZM1240.1 213.7 L1245.1 229.7 L1252.8 227.3 L1247.8 211.3ZM1245.3 237.6 L1246.2 258.6 L1254.3 258.3 L1253.4 237.3ZM1254.5 215.7 L1256.6 255.9 L1264.6 255.5 L1262.6 215.3ZM1259.0 217.7 L1262.9 232.9 L1270.8 230.9 L1266.8 215.7ZM1262.8 232.1 L1263.5 252.3 L1271.6 252.0 L1270.9 231.8ZM1263.8 261.3 L1264.6 282.3 L1272.7 282.0 L1271.9 261.0ZM1264.9 291.3 L1265.0 295.0 L1273.1 294.7 L1273.0 291.0ZM1268.4 240.6 L1270.6 250.3 L1278.5 248.5 L1276.3 238.7ZM1272.3 258.4 L1274.0 299.3 L1282.1 299.0 L1280.4 258.0ZM1274.3 308.3 L1274.5 312.1 L1282.6 311.7 L1282.4 308.0ZM1282.5 253.1 L1282.7 259.0 L1290.8 258.6 L1290.5 252.7ZM1283.1 268.0 L1284.0 288.9 L1292.1 288.6 L1291.2 267.6ZM1292.7 254.0 L1294.5 282.8 L1302.6 282.3 L1300.7 253.5ZM1301.5 222.1 L1302.5 241.8 L1310.6 241.4 L1309.6 221.7ZM1302.9 250.8 L1303.7 266.5 L1311.8 266.1 L1311.0 250.4ZM1310.1 229.1 L1310.6 239.9 L1318.6 239.6 L1318.2 228.8ZM1310.9 248.9 L1311.8 269.9 L1319.9 269.6 L1319.0 248.6ZM1318.6 232.5 L1321.0 242.7 L1328.9 240.8 L1326.5 230.6ZM1320.9 241.8 L1321.1 246.9 L1329.2 246.6 L1329.0 241.6ZM1321.3 255.9 L1322.6 296.9 L1330.7 296.6 L1329.4 255.6ZM1322.9 305.9 L1323.1 311.8 L1331.2 311.6 L1331.0 305.6ZM1330.5 268.7 L1331.4 289.7 L1339.5 289.4 L1338.6 268.4ZM1331.7 298.7 L1332.4 314.1 L1340.4 313.7 L1339.8 298.3ZM1339.4 270.2 L1341.0 287.7 L1349.0 287.0 L1347.5 269.5ZM1348.5 245.7 L1349.3 255.7 L1357.4 255.0 L1356.6 245.1ZM1350.0 264.6 L1350.7 273.6 L1358.8 273.0 L1358.1 264.0ZM1359.0 232.7 L1359.9 251.0 L1368.0 250.6 L1367.1 232.3ZM1360.4 260.0 L1361.2 276.9 L1369.3 276.5 L1368.5 259.6ZM1363.5 236.6 L1365.9 249.5 L1373.9 248.0 L1371.4 235.0ZM1367.9 257.4 L1369.8 286.9 L1377.9 286.4 L1376.0 256.9ZM1379.1 274.6 L1379.8 282.0 L1387.9 281.1 L1387.1 273.7ZM1386.5 247.9 L1388.4 267.8 L1396.4 267.1 L1394.6 247.2ZM1397.0 229.2 L1398.0 250.1 L1406.1 249.8 L1405.1 228.8ZM1398.4 259.1 L1399.1 273.6 L1407.2 273.2 L1406.5 258.7ZM1405.2 227.2 L1405.6 236.1 L1413.7 235.7 L1413.3 226.8ZM1406.0 245.1 L1407.4 273.7 L1415.5 273.3 L1414.1 244.7ZM1424.5 231.4 L1426.7 268.9 L1434.8 268.4 L1432.6 231.0ZM1433.7 239.5 L1435.9 265.3 L1443.9 264.6 L1441.8 238.8ZM1444.5 236.8 L1445.3 250.3 L1453.3 249.9 L1452.6 236.3ZM1445.7 259.3 L1446.7 277.0 L1454.8 276.6 L1453.8 258.9ZM1466.5 223.2 L1467.2 236.2 L1475.3 235.7 L1474.5 222.7ZM1467.8 245.2 L1469.8 278.2 L1477.8 277.7 L1475.9 244.7Z"/>
<path fill="none" stroke="#000" stroke-width="6" stroke-linejoin="round" d="M318.4 99.8 L318.4 90.8 C318.4 86.3 320.9 84.8 323.9 84.8 C326.9 84.8 329.4 86.3 329.4 90.8 L329.4 99.8M392.6 101.4 L392.6 92.4 C392.6 87.9 395.1 86.4 398.1 86.4 C401.1 86.4 403.6 87.9 403.6 92.4 L403.6 101.4M464.0 104.7 L464.0 95.7 C464.0 91.2 466.5 89.7 469.5 89.7 C472.5 89.7 475.0 91.2 475.0 95.7 L475.0 104.7M538.2 98.7 L538.2 89.7 C538.2 85.2 540.7 83.7 543.7 83.7 C546.7 83.7 549.2 85.2 549.2 89.7 L549.2 98.7M832.3 86.8 L832.3 77.8 C832.3 73.3 834.8 71.8 837.8 71.8 C840.8 71.8 843.3 73.3 843.3 77.8 L843.3 86.8M905.1 91.0 L905.1 82.0 C905.1 77.5 907.6 76.0 910.6 76.0 C913.6 76.0 916.1 77.5 916.1 82.0 L916.1 91.0M978.5 93.7 L978.5 84.7 C978.5 80.2 981.0 78.7 984.0 78.7 C987.0 78.7 989.5 80.2 989.5 84.7 L989.5 93.7M1052.8 93.2 L1052.8 84.2 C1052.8 79.7 1055.3 78.2 1058.3 78.2 C1061.3 78.2 1063.8 79.7 1063.8 84.2 L1063.8 93.2M1124.2 91.5 L1124.2 82.5 C1124.2 78.0 1126.7 76.5 1129.7 76.5 C1132.7 76.5 1135.2 78.0 1135.2 82.5 L1135.2 91.5M1198.4 86.8 L1198.4 77.8 C1198.4 73.3 1200.9 71.8 1203.9 71.8 C1206.9 71.8 1209.4 73.3 1209.4 77.8 L1209.4 86.8"/>
<path class="c" stroke="#000" stroke-width="10.2" d="M1470.5 223.0 L1473.8 277.9 L1474.3 267.9 L1474.8 260.3 L1475.3 254.7 L1475.8 251.0 L1476.3 248.9 L1476.9 247.9 L1477.4 247.7 L1481.5 286.2 L1486.4 342.5 L1491.1 258.7 L1496.6 206.5 L1497.2 206.7 L1497.8 207.9 L1498.4 210.4 L1499.0 214.8 L1499.5 221.4 L1500.1 230.4 L1500.7 242.2 L1501.4 227.2 L1502.1 215.8 L1502.8 207.4 L1503.5 201.9 L1504.3 198.6 L1505.0 197.2 L1505.7 196.9 L1509.5 231.2 L1511.7 368.6 L1512.0 364.0 L1512.3 360.6 L1512.7 358.0 L1513.0 356.4 L1513.3 355.4 L1513.6 354.9 L1513.9 354.8 L1514.2 354.9 L1514.5 355.5 L1514.8 356.8 L1515.2 359.0 L1515.5 362.3 L1515.8 366.8 L1516.1 372.7 L1516.3 353.2 L1516.6 338.3 L1516.8 327.4 L1517.0 320.2 L1517.3 315.9 L1517.5 314.0 L1517.8 313.6 L1518.1 314.3 L1518.5 317.9 L1518.9 325.8 L1519.3 339.3 L1519.7 359.4 L1520.1 387.2 L1520.5 423.5 L1524.1 231.2 L1526.0 188.6 L1529.6 231.2 L1533.7 294.4 L1534.5 271.7 L1535.3 254.3 L1536.0 241.7 L1536.8 233.3 L1537.6 228.4 L1538.4 226.1 L1539.2 225.7 L1540.0 226.2 L1540.9 228.6 L1541.8 233.9 L1542.6 243.0 L1543.5 256.6 L1544.4 275.4 L1545.2 299.9 L1546.1 271.8 L1547.0 250.2 L1547.9 234.6 L1548.8 224.1 L1549.7 218.0 L1550.6 215.3 L1551.5 214.7 L1552.7 215.0 L1553.9 216.1 L1555.1 218.7 L1556.3 223.1 L1557.4 229.6 L1558.6 238.6 L1559.8 250.4 L1560.6 239.6 L1561.4 231.2 L1562.1 225.2 L1562.9 221.1 L1563.7 218.7 L1564.5 217.7 L1565.3 217.5 L1566.3 217.7 L1567.2 219.1 L1568.2 222.0 L1569.2 227.1 L1570.2 234.7 L1571.2 245.1 L1572.1 258.7 L1572.9 242.4 L1573.7 229.8 L1574.5 220.8 L1575.3 214.7 L1576.1 211.1 L1576.9 209.5 L1577.6 209.2 L1580.4 258.7 L1582.6 423.5 L1585.3 258.7 L1589.2 187.3 L1590.1 187.5 L1591.0 188.7 L1591.9 191.5 L1592.8 196.2 L1593.7 203.3 L1594.6 213.0 L1595.5 225.7 L1596.5 217.5 L1597.5 211.3 L1598.4 206.8 L1599.4 203.7 L1600.4 201.9 L1601.4 201.1 L1602.4 201.0 L1603.3 201.6 L1604.3 204.5 L1605.3 211.0 L1606.3 222.1 L1607.3 238.8 L1608.3 261.7 L1609.2 291.6 L1610.0 268.1 L1610.8 250.0 L1611.6 236.9 L1612.4 228.1 L1613.2 223.0 L1613.9 220.7 L1614.7 220.2 L1615.5 220.6 L1616.3 222.4 L1617.1 226.6 L1617.9 233.7 L1618.7 244.3 L1619.4 258.9 L1620.2 277.9 L1621.2 262.5 L1622.2 250.7 L1623.2 242.1 L1624.1 236.4 L1625.1 233.0 L1626.1 231.5 L1627.1 231.2 L1627.9 231.4 L1628.7 232.4 L1629.4 234.5 L1630.2 238.3 L1631.0 243.8 L1631.8 251.4 L1632.6 261.4 L1633.2 237.8 L1633.8 219.8 L1634.4 206.7 L1634.9 197.9 L1635.5 192.7 L1636.1 190.5 L1636.7 190.0 L1640.8 258.7 L1644.1 385.1 L1647.7 286.2 L1650.4 253.2 L1651.3 253.5 L1652.3 255.3 L1653.2 259.3 L1654.1 266.0 L1655.0 276.1 L1655.9 290.0 L1656.8 308.1 L1661.4 247.7 L1665.6 214.7 L1666.5 214.9 L1667.5 215.9 L1668.5 218.1 L1669.5 221.8 L1670.5 227.3 L1671.4 235.0 L1672.4 244.9 L1673.3 230.4 L1674.2 219.3 L1675.1 211.2 L1676.0 205.8 L1676.9 202.7 L1677.8 201.3 L1678.7 201.0 L1680.0 201.3 L1681.3 202.9 L1682.5 206.5 L1683.8 212.5 L1685.0 221.6 L1686.3 234.1 L1687.5 250.4 L1688.5 239.6 L1689.5 231.2 L1690.5 225.2 L1691.5 221.1 L1692.4 218.7 L1693.4 217.7 L1694.4 217.5 L1695.2 217.7 L1696.0 219.1 L1696.8 222.0 L1697.5 227.1 L1698.3 234.7 L1699.1 245.1 L1699.9 258.7 L1700.9 246.0 L1701.9 236.3 L1702.8 229.2 L1703.8 224.5 L1704.8 221.7 L1705.8 220.5 L1706.8 220.2 L1707.7 220.8 L1708.7 223.7 L1709.7 230.2 L1710.7 241.4 L1711.7 258.0 L1712.7 280.9 L1713.6 310.9 L1714.4 273.7 L1715.2 245.2 L1716.0 224.5 L1716.8 210.7 L1717.6 202.6 L1718.3 199.0 L1719.1 198.2 L1724.6 209.2 L1725.4 202.9 L1726.2 198.0 L1727.0 194.5 L1727.8 192.1 L1728.5 190.7 L1729.3 190.1 L1730.1 190.0 L1730.9 190.9 L1731.7 195.5 L1732.5 205.8 L1733.3 223.3 L1734.0 249.6 L1734.8 285.7 L1735.6 332.9 L1741.1 258.7 L1748.0 203.7 L1754.8 225.7 L1760.9 338.4 L1762.0 289.8 L1763.1 252.7 L1764.2 225.7 L1765.3 207.6 L1766.4 197.0 L1767.5 192.3 L1768.6 191.4 L1775.4 231.2 L1783.7 327.4 L1790.6 247.7 L1796.0 217.5 L1796.9 218.4 L1797.8 223.1 L1798.6 233.6 L1799.5 251.5 L1800.4 278.2 L1801.2 315.0 L1802.1 363.1 L1803.2 307.3 L1804.3 264.6 L1805.4 233.6 L1806.5 212.8 L1807.6 200.6 L1808.7 195.2 L1809.8 194.1 L1810.6 194.3 L1811.4 195.0 L1812.1 196.7 L1812.9 199.6 L1813.7 203.9 L1814.5 209.8 L1815.3 217.5 L1816.1 212.0 L1816.9 207.9 L1817.6 204.8 L1818.4 202.8 L1819.2 201.6 L1820.0 201.1 L1820.8 201.0 L1824.9 258.7 L1827.6 423.5 L1830.9 286.2 L1833.7 231.2 L1837.3 286.2 L1841.4 433.1 L1841.9 375.5 L1842.3 331.4 L1842.8 299.4 L1843.3 278.0 L1843.7 265.4 L1844.2 259.8 L1844.7 258.7 L1845.2 259.9 L1845.7 266.0 L1846.2 279.6 L1846.7 302.9 L1847.2 337.7 L1847.7 385.6 L1848.2 448.2 L1851.8 231.2 L1855.1 225.7 L1856.5 228.5"/>
<path class="c" stroke="#0072bd" stroke-width="8.8" d="M230.5 255.1 L231.6 230.1 L233.9 230.4 L236.2 196.8 L236.5 194.7 L238.7 192.2 L240.6 192.5 L242.9 460.9 L245.2 193.4 L245.5 193.5 L247.8 342.6 L250.1 204.8 L250.2 205.1 L252.5 478.7 L254.8 230.8 L257.4 253.2 L258.4 247.8 L260.7 318.0 L263.0 223.1 L263.2 222.2 L264.4 218.9 L266.7 243.7 L268.6 208.6 L268.6 208.6 L270.5 242.8 L272.8 210.5 L273.6 210.9 L275.9 250.6 L277.6 210.4 L277.6 210.4 L279.3 254.1 L281.6 206.9 L282.7 205.9 L283.0 207.3 L285.3 264.0 L287.4 221.6 L287.4 221.6 L289.4 266.8 L291.2 231.2 L291.2 231.2 L293.0 281.3 L295.3 239.0 L297.0 242.2 L298.2 240.6 L300.5 474.6 L302.8 234.8 L304.9 232.2 L307.2 338.2 L309.5 213.0 L309.8 211.3 L312.1 353.0 L314.4 205.2 L315.0 207.5 L317.3 350.7 L319.6 220.5 L320.8 223.4 L323.1 430.7 L325.4 212.5 L327.1 206.2 L329.4 201.5 L331.2 206.1 L333.5 421.0 L335.8 220.5 L336.7 223.5 L339.0 500.7 L341.3 250.7 L342.9 261.5 L345.2 355.5 L347.5 264.0 L348.2 261.9 L350.5 541.9 L352.8 251.0 L359.2 241.7 L361.5 502.1 L363.8 229.6 L364.8 226.7 L367.1 332.6 L369.4 217.7 L370.6 217.5 L372.4 224.0 L374.7 386.7 L377.0 240.6 L377.5 242.2 L380.7 236.7 L383.0 404.6 L385.3 228.8 L387.1 225.7 L388.4 227.4 L390.7 430.7 L393.0 233.5 L395.3 236.7 L397.2 231.9 L399.5 412.8 L401.8 219.6 L403.6 214.7 L405.4 224.4 L407.7 397.7 L410.0 232.6 L414.6 224.3 L415.0 224.8 L417.3 434.8 L419.6 230.0 L421.1 232.4 L423.4 488.3 L425.7 240.0 L427.4 242.8 L429.7 644.4 L432.0 246.4 L434.2 248.0 L436.5 386.7 L438.8 252.9 L442.5 263.4 L444.8 419.7 L446.4 274.8 L446.4 274.8 L448.1 526.8 L450.4 240.9 L453.0 206.5 L453.2 206.9 L455.5 384.6 L457.8 216.1 L459.0 218.4 L461.3 385.3 L463.6 209.9 L466.8 201.0 L468.6 208.9 L470.9 518.6 L473.2 223.8 L476.8 232.6 L479.1 410.1 L481.4 241.8 L487.3 253.1 L489.6 561.2 L491.9 246.1 L493.3 241.6 L495.6 499.3 L497.9 227.1 L498.4 225.7 L500.2 231.7 L502.5 452.6 L504.8 258.5 L505.7 264.0 L508.0 458.1 L510.3 262.3 L512.5 257.8 L514.8 526.8 L517.1 248.8 L519.4 244.9 L521.7 426.5 L524.0 236.9 L525.4 234.4 L527.1 231.1 L529.4 436.2 L531.7 222.1 L533.9 217.8 L534.5 216.0 L536.8 362.0 L539.1 203.3 L539.6 202.0 L541.9 363.1 L544.2 201.5 L546.5 203.8 L546.9 205.1 L549.2 400.4 L551.5 220.5 L554.7 231.2 L557.9 223.5 L560.2 401.8 L562.4 215.4 L562.4 215.4 L564.6 387.8 L566.9 221.4 L570.2 228.7 L572.5 493.8 L574.8 234.1 L579.0 222.4 L581.3 573.5 L583.6 232.8 L583.8 233.7 L585.9 239.5 L588.2 482.9 L590.5 251.4 L593.0 254.8 L595.3 466.4 L597.6 261.0 L600.0 264.2 L601.0 263.8 L603.3 478.7 L605.6 261.9 L608.7 260.6 L611.0 419.7 L613.3 253.5 L613.3 253.5 L615.6 289.7 L617.9 232.1 L618.8 228.0 L621.1 287.0 L623.3 222.4 L623.3 222.4 L625.5 644.4 L627.8 225.3 L627.9 225.3 L630.2 274.8 L631.9 221.3 L631.9 221.3 L633.6 280.2 L635.9 217.6 L637.0 218.3 L639.3 268.7 L641.6 217.0 L643.2 213.8 L645.5 405.9 L647.8 205.7 L649.6 203.7 L651.0 205.1 L653.3 312.1 L655.6 214.4 L657.5 219.3 L659.8 400.4 L662.1 209.7 L664.3 204.3 L666.6 314.6 L668.9 189.7 L669.3 185.1 L671.6 359.2 L673.9 163.5 L674.6 162.3 L680.7 158.1 L681.7 153.4 L684.0 357.9 L686.3 71.8 L689.7 65.0 L689.7 65.0 L691.3 68.1 L693.6 224.4 L695.9 144.5 L698.1 155.1 L700.4 331.8 L702.7 165.6 L704.8 169.1 L707.8 182.7 L710.1 307.0 L712.4 193.3 L713.6 195.5 L716.0 200.2 L718.3 318.0 L720.6 214.3 L723.8 231.2 L724.0 230.8 L726.3 363.8 L728.5 222.8 L728.5 222.8 L730.7 614.7 L733.0 216.4 L734.8 214.7 L736.6 229.7 L738.9 430.7 L741.2 250.7 L741.8 253.3 L744.1 298.7 L746.4 256.9 L747.6 257.8 L749.9 309.8 L752.2 261.1 L752.6 261.4 L754.5 260.8 L756.8 323.5 L759.1 259.3 L760.9 258.7 L761.3 259.1 L763.6 427.9 L765.9 263.7 L768.2 266.0 L770.5 414.2 L772.6 237.8 L772.6 237.8 L774.6 370.2 L776.9 211.4 L778.7 212.0 L778.9 212.4 L781.2 352.8 L783.5 221.7 L786.1 216.6 L788.4 599.6 L790.7 207.4 L790.8 207.0 L793.2 204.4 L795.5 339.1 L797.8 221.2 L798.4 224.0 L800.7 427.9 L803.0 245.6 L803.5 247.7 L805.3 236.8 L807.6 362.0 L809.9 209.3 L811.4 200.0 L812.0 196.6 L814.3 341.3 L816.6 186.9 L817.5 189.7 L819.0 195.4 L821.3 370.2 L823.6 207.9 L827.3 209.6 L829.6 396.3 L831.9 211.8 L832.3 212.0 L834.1 211.4 L836.4 399.1 L838.7 209.8 L840.5 209.2 L842.4 212.9 L844.7 434.8 L847.0 217.7 L847.4 216.5 L849.7 346.2 L852.0 203.9 L854.3 202.4 L854.7 206.2 L857.0 351.0 L859.3 230.3 L863.0 233.6 L865.3 371.6 L867.6 237.5 L873.5 242.2 L875.3 239.2 L877.6 400.4 L879.9 231.6 L880.1 231.4 L882.4 340.6 L884.7 223.7 L884.8 223.4 L888.6 214.7 L889.1 215.1 L891.4 405.9 L893.7 218.8 L894.0 219.0 L896.3 345.5 L898.6 215.3 L898.7 215.2 L901.0 348.2 L903.3 207.9 L903.4 207.7 L905.7 339.2 L908.0 206.5 L908.3 206.5 L910.6 384.0 L912.8 212.5 L912.8 212.5 L914.9 341.1 L917.2 227.9 L919.0 234.1 L921.3 471.6 L923.6 245.0 L928.9 223.3 L931.2 394.9 L933.5 206.3 L937.7 227.7 L940.0 421.0 L942.3 234.2 L947.4 229.7 L948.1 228.4 L950.4 362.0 L952.7 231.8 L955.8 241.9 L958.1 459.5 L960.4 215.6 L962.4 203.7 L964.7 356.9 L967.0 207.3 L969.6 213.4 L971.9 464.4 L974.2 218.1 L976.9 214.8 L979.2 333.5 L981.5 209.3 L982.5 208.0 L984.8 407.3 L987.1 206.6 L988.9 206.5 L992.1 211.3 L994.4 373.0 L996.7 211.3 L999.9 206.5 L1000.3 208.0 L1002.6 433.4 L1004.9 228.7 L1010.0 258.7 L1012.3 416.9 L1014.6 253.3 L1018.2 242.5 L1020.5 331.8 L1022.8 210.3 L1023.2 206.5 L1027.8 215.6 L1030.1 399.1 L1032.4 214.0 L1032.4 214.0 L1034.7 348.3 L1037.0 205.9 L1038.8 207.0 L1041.1 403.2 L1043.4 207.6 L1048.0 199.6 L1049.0 202.2 L1051.3 401.8 L1053.6 212.4 L1055.0 214.7 L1057.3 349.2 L1059.6 208.6 L1060.9 206.8 L1063.2 362.0 L1065.5 207.8 L1067.4 211.1 L1068.7 211.1 L1071.0 346.1 L1073.3 211.7 L1073.3 211.7 L1075.5 330.2 L1077.8 223.0 L1078.6 225.0 L1078.8 225.8 L1081.1 507.6 L1083.4 247.8 L1085.7 258.7 L1088.0 477.4 L1090.3 265.1 L1095.3 255.2 L1097.6 392.2 L1099.9 236.9 L1100.7 232.8 L1103.0 343.2 L1105.3 219.0 L1105.4 219.0 L1107.7 429.3 L1110.0 216.5 L1110.0 216.5 L1112.2 346.3 L1114.5 212.8 L1116.4 211.3 L1118.7 563.9 L1121.0 206.9 L1123.4 204.6 L1126.4 194.1 L1128.2 200.0 L1130.5 403.2 L1132.8 212.7 L1134.9 218.3 L1136.5 219.2 L1138.8 492.5 L1141.1 221.9 L1142.4 222.7 L1144.7 340.3 L1147.0 209.3 L1149.3 216.3 L1150.2 225.9 L1152.5 554.3 L1154.8 273.3 L1155.3 277.9 L1157.1 275.3 L1159.4 574.9 L1161.7 268.6 L1163.9 265.5 L1167.5 262.7 L1169.8 481.5 L1172.1 245.9 L1176.3 215.0 L1178.6 470.5 L1180.9 195.8 L1181.4 194.1 L1184.4 206.7 L1186.5 209.2 L1188.8 451.3 L1191.1 214.4 L1192.3 210.7 L1194.6 353.2 L1196.9 196.9 L1197.9 194.1 L1198.3 194.4 L1200.6 348.2 L1202.9 198.6 L1206.2 203.1 L1208.5 362.5 L1210.7 213.4 L1210.7 213.4 L1213.0 392.2 L1215.3 228.1 L1217.1 234.0 L1218.1 232.1 L1220.4 415.5 L1222.7 223.7 L1225.3 218.9 L1227.2 224.7 L1229.5 429.3 L1231.8 240.9 L1234.0 249.8 L1236.3 440.3 L1238.6 268.0 L1240.4 275.2 L1241.4 273.0 L1243.7 495.2 L1246.0 263.1 L1247.8 259.4 L1250.1 357.5 L1252.4 252.9 L1255.2 251.6 L1257.5 400.4 L1259.8 246.8 L1261.0 244.9 L1263.7 251.9 L1266.0 506.2 L1268.3 285.8 L1272.0 319.1 L1272.5 318.3 L1274.8 526.8 L1277.1 310.1 L1280.5 303.9 L1282.8 390.8 L1285.0 289.5 L1285.0 289.5 L1287.1 530.9 L1289.4 276.3 L1289.5 276.2 L1291.8 400.0 L1294.1 279.6 L1296.7 285.9 L1299.0 441.6 L1301.3 242.3 L1302.3 232.6 L1304.2 234.9 L1306.5 278.4 L1308.2 243.0 L1308.2 243.0 L1309.8 276.5 L1312.1 254.0 L1312.9 256.3 L1313.1 256.5 L1315.4 529.6 L1317.7 261.9 L1318.0 262.1 L1320.3 343.2 L1322.6 274.3 L1324.7 281.9 L1327.0 352.4 L1329.3 291.9 L1332.4 295.3 L1334.7 452.6 L1337.0 298.2 L1339.2 288.0 L1341.5 526.8 L1343.8 267.2 L1345.1 261.3 L1347.4 326.2 L1349.7 260.0 L1350.2 259.9 L1352.5 422.4 L1354.7 248.2 L1354.7 248.2 L1356.9 308.2 L1359.1 259.4 L1359.1 259.4 L1361.3 392.2 L1363.6 261.8 L1368.2 264.2 L1371.4 261.4 L1373.7 331.8 L1376.0 257.5 L1377.8 255.9 L1378.2 256.5 L1380.5 385.3 L1382.8 262.0 L1384.7 264.2 L1390.6 258.8 L1392.9 330.4 L1395.2 244.3 L1397.0 227.1 L1398.9 230.9 L1401.2 394.9 L1403.5 250.0 L1404.3 254.4 L1406.6 419.7 L1408.9 266.1 L1411.2 250.7 L1413.5 352.4 L1415.8 226.6 L1418.7 229.1 L1419.5 231.1 L1421.8 294.7 L1424.1 242.3 L1425.5 245.9 L1429.6 248.0 L1431.9 473.2 L1434.2 250.2 L1439.3 251.7 L1440.1 252.9 L1442.4 422.4 L1444.7 259.5 L1446.9 262.8 L1449.2 451.3 L1451.5 253.4 L1455.2 242.8 L1457.5 407.3 L1459.8 224.9 L1460.2 223.0 L1462.7 227.3 L1464.0 229.6 L1466.2 229.6 L1470.0 224.1 L1473.3 279.0 L1473.8 269.0 L1474.3 261.4 L1474.8 255.8 L1475.3 252.1 L1475.8 250.0 L1476.4 249.0 L1476.9 248.8 L1481.0 287.3 L1485.9 343.6 L1490.6 259.8 L1496.1 207.6 L1496.7 207.8 L1497.3 209.0 L1497.9 211.5 L1498.5 215.9 L1499.0 222.5 L1499.6 231.5 L1500.2 243.3 L1500.9 228.3 L1501.6 216.9 L1502.3 208.5 L1503.0 203.0 L1503.8 199.7 L1504.5 198.3 L1505.2 198.0 L1509.0 232.3 L1511.2 369.7 L1511.5 365.1 L1511.8 361.7 L1512.2 359.1 L1512.5 357.5 L1512.8 356.5 L1513.1 356.0 L1513.4 355.9 L1513.7 356.0 L1514.0 356.6 L1514.3 357.9 L1514.7 360.1 L1515.0 363.4 L1515.3 367.9 L1515.6 373.8 L1515.8 354.3 L1516.1 339.4 L1516.3 328.5 L1516.5 321.3 L1516.8 317.0 L1517.0 315.1 L1517.3 314.7 L1517.6 315.4 L1518.0 319.0 L1518.4 326.9 L1518.8 340.4 L1519.2 360.5 L1519.6 388.3 L1520.0 424.6 L1523.6 232.3 L1525.5 189.7 L1529.1 232.3 L1533.2 295.5 L1534.0 272.8 L1534.8 255.4 L1535.5 242.8 L1536.3 234.4 L1537.1 229.5 L1537.9 227.2 L1538.7 226.8 L1539.5 227.3 L1540.4 229.7 L1541.3 235.0 L1542.1 244.1 L1543.0 257.7 L1543.9 276.5 L1544.7 301.0 L1545.6 272.9 L1546.5 251.3 L1547.4 235.7 L1548.3 225.2 L1549.2 219.1 L1550.1 216.4 L1551.0 215.8 L1552.2 216.1 L1553.4 217.2 L1554.6 219.8 L1555.8 224.2 L1556.9 230.7 L1558.1 239.7 L1559.3 251.5 L1560.1 240.7 L1560.9 232.3 L1561.6 226.3 L1562.4 222.2 L1563.2 219.8 L1564.0 218.8 L1564.8 218.6 L1565.8 218.8 L1566.7 220.2 L1567.7 223.1 L1568.7 228.2 L1569.7 235.8 L1570.7 246.2 L1571.6 259.8 L1572.4 243.5 L1573.2 230.9 L1574.0 221.9 L1574.8 215.8 L1575.6 212.2 L1576.4 210.6 L1577.1 210.3 L1579.9 259.8 L1582.1 424.6 L1584.8 259.8 L1588.7 188.4 L1589.6 188.6 L1590.5 189.8 L1591.4 192.6 L1592.3 197.3 L1593.2 204.4 L1594.1 214.1 L1595.0 226.8 L1596.0 218.6 L1597.0 212.4 L1597.9 207.9 L1598.9 204.8 L1599.9 203.0 L1600.9 202.2 L1601.9 202.1 L1602.8 202.7 L1603.8 205.6 L1604.8 212.1 L1605.8 223.2 L1606.8 239.9 L1607.8 262.8 L1608.7 292.7 L1609.5 269.2 L1610.3 251.1 L1611.1 238.0 L1611.9 229.2 L1612.7 224.1 L1613.4 221.8 L1614.2 221.3 L1615.0 221.7 L1615.8 223.5 L1616.6 227.7 L1617.4 234.8 L1618.2 245.4 L1618.9 260.0 L1619.7 279.0 L1620.7 263.6 L1621.7 251.8 L1622.7 243.2 L1623.6 237.5 L1624.6 234.1 L1625.6 232.6 L1626.6 232.3 L1627.4 232.5 L1628.2 233.5 L1628.9 235.6 L1629.7 239.4 L1630.5 244.9 L1631.3 252.5 L1632.1 262.5 L1632.7 238.9 L1633.3 220.9 L1633.9 207.8 L1634.4 199.0 L1635.0 193.8 L1635.6 191.6 L1636.2 191.1 L1640.3 259.8 L1643.6 386.2 L1647.2 287.3 L1649.9 254.3 L1650.8 254.6 L1651.8 256.4 L1652.7 260.4 L1653.6 267.1 L1654.5 277.2 L1655.4 291.1 L1656.3 309.2 L1660.9 248.8 L1665.1 215.8 L1666.0 216.0 L1667.0 217.0 L1668.0 219.2 L1669.0 222.9 L1670.0 228.4 L1670.9 236.1 L1671.9 246.0 L1672.8 231.5 L1673.7 220.4 L1674.6 212.3 L1675.5 206.9 L1676.4 203.8 L1677.3 202.4 L1678.2 202.1 L1679.5 202.4 L1680.8 204.0 L1682.0 207.6 L1683.3 213.6 L1684.5 222.7 L1685.8 235.2 L1687.0 251.5 L1688.0 240.7 L1689.0 232.3 L1690.0 226.3 L1691.0 222.2 L1691.9 219.8 L1692.9 218.8 L1693.9 218.6 L1694.7 218.8 L1695.5 220.2 L1696.3 223.1 L1697.0 228.2 L1697.8 235.8 L1698.6 246.2 L1699.4 259.8 L1700.4 247.1 L1701.4 237.4 L1702.3 230.3 L1703.3 225.6 L1704.3 222.8 L1705.3 221.6 L1706.3 221.3 L1707.2 221.9 L1708.2 224.8 L1709.2 231.3 L1710.2 242.5 L1711.2 259.1 L1712.2 282.0 L1713.1 312.0 L1713.9 274.8 L1714.7 246.3 L1715.5 225.6 L1716.3 211.8 L1717.1 203.7 L1717.8 200.1 L1718.6 199.3 L1724.1 210.3 L1724.9 204.0 L1725.7 199.1 L1726.5 195.6 L1727.3 193.2 L1728.0 191.8 L1728.8 191.2 L1729.6 191.1 L1730.4 192.0 L1731.2 196.6 L1732.0 206.9 L1732.8 224.4 L1733.5 250.7 L1734.3 286.8 L1735.1 334.0 L1740.6 259.8 L1747.5 204.8 L1754.3 226.8 L1760.4 339.5 L1761.5 290.9 L1762.6 253.8 L1763.7 226.8 L1764.8 208.7 L1765.9 198.1 L1767.0 193.4 L1768.1 192.5 L1774.9 232.3 L1783.2 328.5 L1790.1 248.8 L1795.5 218.6 L1796.4 219.5 L1797.3 224.2 L1798.1 234.7 L1799.0 252.6 L1799.9 279.3 L1800.7 316.1 L1801.6 364.2 L1802.7 308.4 L1803.8 265.7 L1804.9 234.7 L1806.0 213.9 L1807.1 201.7 L1808.2 196.3 L1809.3 195.2 L1810.1 195.4 L1810.9 196.1 L1811.6 197.8 L1812.4 200.7 L1813.2 205.0 L1814.0 210.9 L1814.8 218.6 L1815.6 213.1 L1816.4 209.0 L1817.1 205.9 L1817.9 203.9 L1818.7 202.7 L1819.5 202.2 L1820.3 202.1 L1824.4 259.8 L1827.1 424.6 L1830.4 287.3 L1833.2 232.3 L1836.8 287.3 L1840.9 434.2 L1841.4 376.6 L1841.8 332.5 L1842.3 300.5 L1842.8 279.1 L1843.2 266.5 L1843.7 260.9 L1844.2 259.8 L1844.7 261.0 L1845.2 267.1 L1845.7 280.7 L1846.2 304.0 L1846.7 338.8 L1847.2 386.7 L1847.7 449.3 L1851.3 232.3 L1854.6 226.8 L1856.0 229.6"/>
</g></g>
<text transform="translate(233.0 710.6) scale(0.965 1.025)" text-anchor="middle" class="tk">0</text>
<text transform="translate(507.8 710.6) scale(0.965 1.025)" text-anchor="middle" class="tk">5</text>
<text transform="translate(782.7 710.6) scale(0.965 1.025)" text-anchor="middle" class="tk">10</text>
<text transform="translate(1057.5 710.6) scale(0.965 1.025)" text-anchor="middle" class="tk">15</text>
<text transform="translate(1332.3 710.6) scale(0.965 1.025)" text-anchor="middle" class="tk">20</text>
<text transform="translate(1607.2 710.6) scale(0.965 1.025)" text-anchor="middle" class="tk">25</text>
<text transform="translate(1882.0 710.6) scale(0.965 1.025)" text-anchor="middle" class="tk">30</text>
<text transform="translate(210.6 654.8) scale(0.965 1.025)" text-anchor="end" class="tk">0</text>
<text transform="translate(210.6 362.2) scale(0.965 1.025)" text-anchor="end" class="tk">50</text>
<text transform="translate(210.6 69.7) scale(0.965 1.025)" text-anchor="end" class="tk">100</text>
<text x="1055.8" y="788.0" text-anchor="middle" class="lb">Time/us</text>
<text transform="translate(89.5 343.4) rotate(-90)" text-anchor="middle" class="lb">Amplitude/dB</text>
<rect x="1471.4" y="412.0" width="360.6" height="147.3" fill="#fff" stroke="#262626" stroke-width="8"/>
<rect x="1486.0" y="446.1" width="41.0" height="11.8" fill="#000"/>
<rect x="1536.0" y="446.1" width="21.0" height="11.8" fill="#000"/>
<rect x="1566.0" y="446.1" width="34.5" height="11.8" fill="#000"/>
<rect x="1486.0" y="514.6" width="114.5" height="8.8" fill="#0072bd"/>
<text x="1609.9" y="470.5" class="lg">Received</text>
<text x="1609.9" y="537.5" class="lg">Proposed</text>
</g>
<g id="plot2">
<line x1="507.8" y1="889.4" x2="507.8" y2="1474.5" stroke="#dedede" stroke-width="8"/>
<line x1="782.7" y1="889.4" x2="782.7" y2="1474.5" stroke="#dedede" stroke-width="8"/>
<line x1="1057.5" y1="889.4" x2="1057.5" y2="1474.5" stroke="#dedede" stroke-width="8"/>
<line x1="1332.3" y1="889.4" x2="1332.3" y2="1474.5" stroke="#dedede" stroke-width="8"/>
<line x1="1607.2" y1="889.4" x2="1607.2" y2="1474.5" stroke="#dedede" stroke-width="8"/>
<line x1="233.0" y1="1182.0" x2="1882.0" y2="1182.0" stroke="#dedede" stroke-width="8"/>
<line x1="507.8" y1="1474.5" x2="507.8" y2="1454.0" stroke="#262626" stroke-width="8"/>
<line x1="507.8" y1="889.4" x2="507.8" y2="909.9" stroke="#262626" stroke-width="8"/>
<line x1="782.7" y1="1474.5" x2="782.7" y2="1454.0" stroke="#262626" stroke-width="8"/>
<line x1="782.7" y1="889.4" x2="782.7" y2="909.9" stroke="#262626" stroke-width="8"/>
<line x1="1057.5" y1="1474.5" x2="1057.5" y2="1454.0" stroke="#262626" stroke-width="8"/>
<line x1="1057.5" y1="889.4" x2="1057.5" y2="909.9" stroke="#262626" stroke-width="8"/>
<line x1="1332.3" y1="1474.5" x2="1332.3" y2="1454.0" stroke="#262626" stroke-width="8"/>
<line x1="1332.3" y1="889.4" x2="1332.3" y2="909.9" stroke="#262626" stroke-width="8"/>
<line x1="1607.2" y1="1474.5" x2="1607.2" y2="1454.0" stroke="#262626" stroke-width="8"/>
<line x1="1607.2" y1="889.4" x2="1607.2" y2="909.9" stroke="#262626" stroke-width="8"/>
<line x1="233.0" y1="1182.0" x2="253.5" y2="1182.0" stroke="#262626" stroke-width="8"/>
<line x1="1882.0" y1="1182.0" x2="1861.5" y2="1182.0" stroke="#262626" stroke-width="8"/>
<rect x="233.0" y="889.4" width="1649.0" height="585.1" fill="none" stroke="#262626" stroke-width="8"/>
<g clip-path="url(#cp1)"><g transform="translate(0 840)">
<path class="c" stroke="#000" stroke-width="3" d="M230.5 255.1 L232.3 230.1 L233.7 217.9 L236.5 193.4 L238.7 190.9 L240.7 191.2 L242.9 220.3 L245.1 191.9 L246.5 192.2 L250.1 205.6 L252.3 238.1 L254.5 228.0 L257.4 251.3 L260.1 236.7 L262.3 243.4 L264.5 216.7 L268.7 207.2 L269.8 205.5 L272.0 224.0 L274.2 198.9 L279.2 186.5 L281.4 208.4 L283.6 183.1 L286.5 188.9 L288.1 190.3 L290.3 224.9 L292.5 194.1 L297.8 199.1 L298.8 196.5 L301.0 219.6 L303.2 185.3 L305.8 178.8 L307.4 172.4 L309.6 209.3 L311.8 158.8 L313.5 166.4 L314.3 164.2 L316.5 189.4 L318.7 152.7 L319.2 151.3 L319.5 92.7 L321.7 87.0 L326.1 87.0 L328.3 92.7 L328.6 151.3 L329.1 152.7 L331.3 191.1 L333.5 164.2 L334.3 166.4 L336.1 171.5 L338.3 222.8 L340.5 186.4 L342.7 194.9 L345.1 208.1 L347.3 264.6 L349.5 221.5 L352.7 226.6 L355.0 224.5 L357.2 247.8 L359.4 220.4 L362.7 217.2 L364.2 214.3 L366.4 231.9 L368.6 205.7 L370.2 202.6 L374.7 200.5 L374.8 200.6 L377.0 239.4 L379.2 206.1 L380.2 207.3 L383.9 187.8 L386.1 225.4 L388.3 164.6 L388.5 164.2 L390.7 220.1 L392.9 152.7 L393.4 151.3 L393.7 94.4 L395.9 88.6 L400.3 88.6 L402.5 94.4 L402.7 151.3 L403.3 154.0 L405.5 239.6 L407.7 169.9 L408.5 166.4 L410.0 176.1 L411.6 186.9 L413.8 227.4 L416.0 198.7 L421.3 199.3 L423.5 246.5 L425.7 203.1 L428.4 208.8 L431.2 208.0 L433.4 247.0 L435.6 212.6 L440.2 230.8 L440.9 232.7 L443.1 270.1 L445.3 243.3 L447.5 248.5 L450.0 220.6 L452.2 244.3 L454.4 188.0 L458.2 185.4 L459.1 166.4 L459.9 170.1 L462.1 211.9 L464.3 156.4 L464.8 151.3 L465.1 97.7 L467.3 91.9 L471.7 91.9 L473.9 97.7 L474.2 151.3 L474.7 153.3 L476.9 227.8 L479.1 169.6 L479.9 172.4 L479.9 166.4 L482.8 191.8 L486.9 193.0 L488.3 198.5 L490.5 278.2 L492.7 215.1 L492.9 215.6 L498.1 208.0 L498.2 207.9 L500.4 241.7 L502.6 205.3 L504.1 206.0 L508.0 234.8 L508.1 234.7 L510.3 262.3 L512.5 227.8 L514.6 224.5 L516.7 223.0 L518.9 257.4 L521.1 219.0 L525.7 206.5 L527.9 227.6 L530.1 184.1 L532.4 170.5 L533.2 166.4 L534.1 164.2 L536.3 194.1 L538.5 152.7 L539.0 151.3 L539.3 91.6 L541.5 85.9 L545.9 85.9 L548.1 91.6 L548.4 151.3 L548.9 153.3 L551.1 190.3 L553.3 169.6 L554.1 172.4 L554.1 166.4 L555.2 172.8 L557.4 211.1 L559.6 193.0 L564.9 189.0 L567.1 215.0 L569.3 185.7 L569.8 185.4 L572.8 187.0 L574.1 195.0 L576.3 253.0 L578.5 208.3 L580.4 209.5 L583.4 223.8 L585.6 252.9 L587.8 233.2 L590.0 234.7 L593.3 243.8 L595.5 294.4 L597.7 256.0 L600.0 262.3 L602.3 255.1 L604.5 281.8 L606.7 241.1 L607.8 237.4 L611.1 236.2 L613.3 267.0 L615.5 228.3 L617.6 220.8 L620.6 219.7 L621.5 220.0 L623.7 251.1 L625.9 221.0 L631.3 220.3 L633.5 249.0 L635.7 218.3 L639.8 210.1 L640.0 221.1 L640.1 220.8 L642.3 244.8 L644.5 211.9 L648.0 204.8 L649.0 204.3 L651.2 228.1 L653.4 205.7 L657.9 210.1 L658.8 209.2 L661.0 228.7 L663.2 204.8 L664.5 203.5 L668.1 192.6 L670.3 199.9 L672.5 170.0 L674.6 166.3 L680.7 162.1 L681.8 156.9 L684.0 317.7 L686.2 76.0 L689.6 69.3 L689.7 69.0 L695.2 79.7 L695.8 147.8 L697.1 154.3 L699.3 186.0 L701.5 167.6 L704.8 173.1 L706.1 176.8 L708.3 206.7 L710.5 189.4 L711.7 192.7 L716.4 193.9 L718.6 231.7 L720.8 207.3 L723.8 221.1 L726.3 219.1 L728.5 253.1 L730.7 215.8 L731.8 214.9 L734.9 214.4 L737.1 251.8 L739.3 227.2 L744.6 231.2 L746.8 276.6 L749.0 229.7 L751.3 227.9 L755.0 226.6 L757.2 264.7 L759.4 240.9 L761.0 247.3 L763.3 253.0 L765.5 278.6 L767.7 264.1 L769.1 267.8 L772.9 235.0 L775.1 234.3 L777.3 210.7 L782.9 208.8 L785.1 233.8 L787.3 203.3 L789.5 200.5 L791.5 199.6 L793.7 229.3 L795.9 203.5 L796.2 203.9 L800.1 218.5 L801.6 218.2 L803.8 249.7 L806.0 217.4 L808.8 216.8 L812.0 182.3 L814.2 204.7 L816.4 166.0 L819.7 164.6 L820.8 163.1 L823.0 203.2 L825.2 157.6 L825.8 156.8 L827.4 166.4 L828.2 164.2 L830.4 195.9 L832.6 152.7 L833.1 151.3 L833.4 79.8 L835.6 74.1 L840.0 74.1 L842.2 79.8 L842.5 151.3 L843.0 152.7 L845.2 186.1 L847.0 163.1 L847.0 163.1 L848.8 430.4 L851.0 167.9 L854.6 170.0 L858.5 205.6 L860.9 211.2 L863.1 376.8 L865.3 218.1 L868.9 217.6 L871.1 255.5 L873.3 217.0 L874.2 216.9 L877.6 215.9 L879.8 242.6 L882.0 214.6 L885.1 213.7 L886.7 206.3 L888.9 231.5 L891.1 194.8 L893.8 191.2 L896.1 182.3 L898.3 205.5 L900.5 165.5 L901.0 164.2 L903.2 208.0 L905.4 152.7 L905.9 151.3 L906.2 84.0 L908.4 78.2 L912.8 78.2 L915.0 84.0 L915.3 151.3 L915.8 152.7 L918.0 230.6 L920.2 164.2 L921.0 166.4 L924.5 187.3 L925.0 187.6 L927.2 231.3 L929.4 189.9 L934.0 192.2 L936.2 224.6 L938.4 191.7 L944.1 191.0 L946.3 402.9 L948.5 189.2 L949.5 188.8 L953.6 209.3 L955.8 243.8 L958.0 209.1 L961.8 186.8 L963.9 184.8 L966.1 213.5 L968.3 180.6 L968.6 180.2 L973.5 166.4 L974.3 172.2 L976.5 202.5 L978.7 154.6 L979.3 151.3 L979.6 86.7 L981.8 80.9 L986.2 80.9 L988.4 86.7 L988.6 151.3 L989.2 152.7 L991.4 198.8 L993.6 164.2 L994.4 166.4 L996.0 162.6 L1000.8 184.2 L1001.1 185.1 L1003.3 225.4 L1005.5 197.7 L1005.7 198.3 L1010.9 212.8 L1011.4 212.5 L1013.6 257.0 L1015.8 209.6 L1020.2 206.7 L1022.4 234.3 L1024.6 205.1 L1026.0 204.6 L1029.1 205.6 L1031.3 226.4 L1033.5 182.9 L1034.6 175.9 L1039.0 172.4 L1041.2 204.7 L1043.4 161.3 L1045.6 154.6 L1047.9 166.4 L1048.7 164.2 L1050.9 174.1 L1053.1 152.7 L1053.6 151.3 L1053.9 86.2 L1056.1 80.4 L1060.5 80.4 L1062.7 86.2 L1063.0 151.3 L1063.5 152.7 L1065.7 194.1 L1067.9 164.2 L1068.7 166.4 L1072.5 172.9 L1077.1 205.6 L1078.0 209.1 L1080.2 247.5 L1082.4 226.4 L1082.5 226.6 L1086.2 222.0 L1088.4 255.3 L1090.6 212.8 L1092.6 199.3 L1094.8 200.5 L1095.5 200.5 L1097.7 252.1 L1099.9 218.6 L1100.3 221.1 L1106.6 204.6 L1108.8 255.6 L1111.0 195.8 L1113.8 191.5 L1115.6 183.1 L1117.8 234.2 L1120.0 164.5 L1120.1 164.2 L1122.3 269.3 L1124.5 152.7 L1125.1 151.3 L1125.3 84.5 L1127.5 78.7 L1131.9 78.7 L1134.1 84.5 L1134.4 151.3 L1134.9 152.7 L1137.1 329.6 L1139.3 164.2 L1140.2 166.4 L1144.2 173.2 L1146.4 225.7 L1148.6 187.1 L1151.3 198.2 L1153.7 202.5 L1155.9 247.9 L1158.1 212.8 L1160.9 221.6 L1162.4 221.7 L1164.6 254.0 L1166.8 221.9 L1170.2 222.0 L1173.1 213.7 L1175.3 243.6 L1177.5 206.2 L1177.9 205.8 L1182.3 178.6 L1184.5 204.8 L1186.7 170.8 L1190.2 170.9 L1193.5 166.4 L1194.3 164.2 L1196.5 188.6 L1198.7 152.7 L1199.2 151.3 L1199.5 79.8 L1201.7 74.1 L1206.1 74.1 L1208.3 79.8 L1208.6 151.3 L1209.1 152.7 L1211.3 176.1 L1213.5 164.2 L1214.3 166.4 L1218.6 167.6 L1219.6 172.8 L1221.8 204.3 L1224.0 186.3 L1228.5 186.6 L1230.7 217.8 L1232.9 192.1 L1236.6 198.9 L1238.4 201.5 L1240.6 249.0 L1242.8 208.9 L1249.0 228.8 L1251.2 255.4 L1253.4 225.5 L1258.5 215.5 L1260.7 256.1 L1262.9 216.6 L1268.0 236.5 L1270.2 282.3 L1272.4 240.2 L1276.4 257.2 L1278.6 294.6 L1280.8 258.9 L1285.8 253.6 L1288.0 297.6 L1290.2 250.3 L1295.4 256.8 L1296.0 251.3 L1298.2 305.3 L1300.4 217.1 L1303.6 218.3 L1305.8 222.5 L1308.0 263.2 L1310.2 226.9 L1315.0 229.4 L1317.2 286.0 L1319.4 230.8 L1322.5 231.6 L1323.6 236.2 L1325.8 298.4 L1328.0 252.1 L1332.1 258.2 L1334.5 260.1 L1336.7 314.7 L1338.9 263.6 L1340.7 265.0 L1343.7 260.9 L1345.9 281.9 L1348.1 254.7 L1348.7 253.9 L1352.3 245.9 L1354.5 272.5 L1356.7 238.3 L1361.0 233.5 L1362.0 233.0 L1364.2 286.8 L1366.4 233.5 L1367.1 233.9 L1370.3 250.9 L1372.6 253.3 L1374.8 281.2 L1377.0 257.3 L1381.1 260.2 L1383.3 292.7 L1385.5 263.3 L1386.0 263.7 L1391.2 239.0 L1393.4 265.8 L1395.6 222.2 L1399.7 219.7 L1401.9 257.9 L1404.1 235.1 L1410.4 225.1 L1412.6 266.2 L1414.8 221.4 L1416.3 221.1 L1418.7 223.3 L1420.9 260.1 L1423.1 227.4 L1424.2 228.3 L1429.6 231.9 L1431.8 272.8 L1434.0 235.3 L1438.1 239.1 L1440.3 274.0 L1442.5 242.9 L1447.2 238.0 L1449.4 267.1 L1451.6 233.3 L1454.7 230.1 L1458.1 224.6 L1460.3 246.8 L1462.5 222.2 L1465.1 223.4 L1470.5 223.0 L1473.8 277.9"/>
<path fill="#000" stroke="#000" stroke-width="2.4" stroke-linejoin="miter" d="M284.1 190.6 L286.3 225.2 L294.4 224.7 L292.2 190.1ZM323.3 140.9 L323.5 99.9 L315.4 99.8 L315.2 140.8ZM324.2 92.8 L324.3 98.9 L332.4 98.9 L332.3 92.7ZM324.3 107.9 L324.5 148.9 L332.6 148.9 L332.4 107.9ZM332.1 171.7 L332.2 174.7 L340.3 174.3 L340.2 171.3ZM341.5 220.3 L343.1 261.3 L351.2 261.0 L349.6 220.0ZM360.7 219.3 L362.4 232.4 L370.4 231.3 L368.8 218.3ZM372.6 232.7 L373.0 239.6 L381.0 239.1 L380.7 232.3ZM379.9 188.0 L380.4 197.2 L388.5 196.7 L388.0 187.5ZM398.4 94.4 L398.4 96.1 L406.5 96.1 L406.5 94.4ZM398.6 135.1 L398.7 151.3 L406.8 151.2 L406.7 135.1ZM418.1 216.2 L419.0 237.1 L427.1 236.8 L426.2 215.8ZM427.1 208.3 L428.1 226.1 L436.2 225.6 L435.2 207.8ZM428.7 235.1 L429.3 247.2 L437.4 246.7 L436.7 234.6ZM437.6 245.7 L439.1 270.3 L447.2 269.8 L445.7 245.2ZM469.0 126.9 L469.2 97.7 L461.1 97.7 L460.9 126.9ZM469.9 101.8 L470.0 122.8 L478.1 122.7 L478.0 101.7ZM470.0 131.8 L470.1 151.3 L478.2 151.2 L478.1 131.7ZM471.5 181.8 L472.1 202.8 L480.2 202.5 L479.6 181.5ZM475.9 166.8 L478.7 192.2 L486.8 191.3 L484.0 165.9ZM485.4 239.8 L486.5 278.3 L494.6 278.0 L493.5 239.6ZM503.6 232.8 L504.0 235.3 L512.0 234.3 L511.6 231.8ZM504.0 235.0 L505.5 253.2 L513.6 252.5 L512.1 234.3ZM544.1 99.7 L544.2 120.7 L552.3 120.7 L552.2 99.7ZM544.2 129.7 L544.3 151.3 L552.4 151.2 L552.3 129.7ZM551.2 173.0 L552.6 197.0 L560.6 196.5 L559.3 172.6ZM570.5 207.3 L572.1 248.3 L580.2 248.0 L578.6 207.0ZM579.4 224.1 L580.4 237.6 L588.5 237.0 L587.5 223.5ZM617.5 220.2 L618.4 232.8 L626.5 232.2 L625.6 219.7ZM619.0 241.8 L619.7 251.4 L627.8 250.8 L627.1 241.2ZM627.3 220.7 L629.2 246.3 L637.3 245.7 L635.4 220.0ZM645.0 204.6 L647.2 228.5 L655.3 227.7 L653.1 203.9ZM654.7 209.6 L656.5 225.3 L664.6 224.4 L662.8 208.7ZM691.6 130.5 L691.7 147.9 L699.8 147.8 L699.7 130.5ZM694.9 180.6 L695.3 186.2 L703.4 185.7 L703.0 180.0ZM713.5 213.8 L714.5 231.9 L722.6 231.5 L721.6 213.3ZM732.3 238.5 L733.1 252.1 L741.2 251.6 L740.4 238.0ZM742.2 266.5 L742.7 276.8 L750.8 276.4 L750.3 266.1ZM822.2 160.1 L823.4 167.0 L831.4 165.7 L830.2 158.8ZM838.1 79.9 L838.3 106.8 L846.4 106.8 L846.2 79.8ZM838.3 115.8 L838.4 136.8 L846.5 136.8 L846.4 115.8ZM838.4 145.8 L838.4 151.3 L846.5 151.2 L846.5 145.8ZM892.1 182.7 L892.2 184.4 L900.3 183.7 L900.1 181.9ZM910.0 145.9 L910.2 104.9 L902.1 104.9 L901.9 145.9ZM949.8 214.4 L951.2 235.4 L959.3 234.8 L957.9 213.9ZM984.3 86.7 L984.3 92.0 L992.4 92.0 L992.4 86.7ZM1018.3 232.8 L1018.4 234.7 L1026.5 234.0 L1026.3 232.2ZM1025.1 206.1 L1027.3 226.8 L1035.4 226.0 L1033.2 205.2ZM1057.8 124.7 L1058.0 86.2 L1049.9 86.1 L1049.7 124.7ZM1058.6 86.2 L1058.7 101.9 L1066.8 101.9 L1066.7 86.1ZM1058.7 110.9 L1058.9 151.3 L1067.0 151.2 L1066.8 110.9ZM1059.9 161.0 L1061.0 182.0 L1069.1 181.5 L1068.0 160.6ZM1061.5 191.0 L1061.7 194.3 L1069.8 193.8 L1069.6 190.5ZM1083.2 236.9 L1084.4 255.6 L1092.5 255.1 L1091.2 236.3ZM1116.5 184.9 L1116.9 205.8 L1125.0 205.7 L1124.6 184.7ZM1129.1 151.3 L1129.2 123.1 L1121.1 123.0 L1121.0 151.2ZM1129.3 114.1 L1129.3 93.1 L1121.2 93.0 L1121.2 114.0ZM1130.2 118.2 L1130.3 139.2 L1138.4 139.2 L1138.3 118.2ZM1130.3 148.2 L1130.3 151.3 L1138.4 151.2 L1138.4 148.2ZM1131.5 198.2 L1131.7 219.2 L1139.8 219.1 L1139.6 198.1ZM1154.3 214.0 L1156.0 219.5 L1163.7 217.1 L1162.0 211.6ZM1203.3 151.3 L1203.3 142.3 L1195.2 142.3 L1195.2 151.2ZM1203.3 133.3 L1203.5 92.3 L1195.4 92.3 L1195.2 133.3ZM1204.3 89.7 L1204.4 130.6 L1212.5 130.6 L1212.4 89.6ZM1204.5 139.6 L1204.5 151.3 L1212.6 151.2 L1212.6 139.6ZM1215.5 173.1 L1216.2 183.3 L1224.3 182.7 L1223.6 172.5ZM1320.1 252.1 L1320.9 273.0 L1329.0 272.8 L1328.2 251.8ZM1363.1 234.6 L1366.3 251.6 L1374.3 250.1 L1371.1 233.1ZM1406.4 225.3 L1407.8 251.4 L1415.9 251.0 L1414.5 224.9ZM1443.2 238.3 L1444.7 259.0 L1452.8 258.4 L1451.2 237.7Z"/>
<path fill="none" stroke="#000" stroke-width="2.4" stroke-linejoin="miter" d="M236.7 191.5 L238.9 220.6 L247.0 220.0 L244.8 190.9ZM242.5 193.2 L243.6 197.1 L251.4 195.0 L250.4 191.1ZM246.1 205.9 L248.3 238.3 L256.4 237.8 L254.2 205.3ZM251.3 234.8 L253.4 251.8 L261.4 250.8 L259.3 233.8ZM266.0 207.7 L268.0 224.5 L276.0 223.5 L274.0 206.7ZM275.2 186.9 L276.7 202.4 L284.8 201.6 L283.2 186.1ZM295.1 199.7 L297.0 220.0 L305.1 219.2 L303.1 198.9ZM303.3 172.6 L303.5 175.3 L311.6 174.8 L311.4 172.1ZM304.0 184.3 L305.5 209.5 L313.6 209.1 L312.1 183.8ZM310.2 164.6 L312.4 189.8 L320.5 189.1 L318.3 163.9ZM325.4 158.0 L326.6 179.0 L334.7 178.5 L333.5 157.6ZM327.1 188.0 L327.3 191.3 L335.4 190.8 L335.2 187.5ZM332.6 183.7 L333.5 204.6 L341.6 204.3 L340.7 183.3ZM333.9 213.6 L334.3 222.9 L342.4 222.6 L342.0 213.3ZM338.7 195.7 L341.1 208.8 L349.1 207.4 L346.6 194.2ZM341.0 208.3 L341.1 211.3 L349.2 211.0 L349.1 208.0ZM350.9 224.9 L353.1 248.2 L361.2 247.4 L359.0 224.1ZM370.9 202.8 L372.1 223.8 L380.2 223.3 L379.0 202.3ZM381.0 206.2 L382.1 225.7 L390.2 225.2 L389.0 205.7ZM384.4 164.4 L386.0 204.6 L394.1 204.2 L392.5 164.1ZM386.3 213.6 L386.6 220.2 L394.7 219.9 L394.4 213.2ZM397.5 146.9 L397.6 125.9 L389.5 125.9 L389.4 146.9ZM397.6 116.9 L397.7 94.4 L389.6 94.4 L389.5 116.9ZM398.5 105.1 L398.6 126.1 L406.7 126.1 L406.6 105.1ZM399.2 154.1 L399.8 176.2 L407.9 176.0 L407.3 153.8ZM400.0 185.2 L400.6 206.2 L408.7 205.9 L408.1 185.0ZM400.8 215.2 L401.4 239.7 L409.5 239.5 L408.9 214.9ZM404.5 167.0 L406.0 176.7 L414.0 175.5 L412.5 165.8ZM406.0 176.7 L407.6 187.5 L415.6 186.3 L414.0 175.5ZM407.6 187.2 L407.7 189.5 L415.8 189.1 L415.6 186.7ZM408.2 198.5 L409.3 219.5 L417.4 219.0 L416.3 198.1ZM417.3 199.5 L417.6 207.2 L425.7 206.8 L425.4 199.1ZM432.5 217.0 L436.3 231.8 L444.1 229.8 L440.4 215.1ZM436.9 232.9 L437.1 236.7 L445.2 236.2 L445.0 232.4ZM445.9 221.0 L448.1 244.7 L456.2 243.9 L454.0 220.2ZM455.8 170.3 L456.3 178.2 L464.3 177.8 L463.9 169.9ZM456.7 187.2 L457.8 208.2 L465.9 207.8 L464.8 186.8ZM468.9 151.3 L469.0 135.9 L460.9 135.9 L460.8 151.2ZM470.7 153.4 L471.2 172.8 L479.3 172.5 L478.8 153.2ZM472.4 211.8 L472.9 227.9 L481.0 227.7 L480.5 211.5ZM484.3 198.7 L484.4 200.8 L492.4 200.6 L492.4 198.4ZM484.6 209.8 L485.2 230.8 L493.3 230.6 L492.7 209.6ZM494.1 208.1 L494.8 217.8 L502.8 217.3 L502.2 207.6ZM495.3 226.8 L496.3 242.0 L504.4 241.5 L503.4 226.3ZM500.1 206.5 L502.4 223.9 L510.5 222.8 L508.1 205.5ZM513.2 231.6 L514.5 252.6 L522.6 252.1 L521.2 231.1ZM521.9 209.2 L523.9 228.0 L532.0 227.2 L530.0 208.3ZM530.0 164.5 L531.4 182.7 L539.4 182.1 L538.1 163.9ZM532.0 191.7 L532.2 194.3 L540.3 193.8 L540.1 191.1ZM543.1 146.9 L543.2 125.9 L535.1 125.9 L535.0 146.9ZM543.2 116.9 L543.3 91.7 L535.2 91.6 L535.1 116.9ZM544.9 153.5 L545.9 170.8 L554.0 170.3 L552.9 153.0ZM546.4 179.8 L547.1 190.6 L555.1 190.1 L554.5 179.3ZM553.1 205.9 L553.4 211.4 L561.5 210.9 L561.2 205.5ZM560.9 189.4 L563.1 215.3 L571.1 214.6 L568.9 188.7ZM570.1 195.1 L570.2 198.4 L578.3 198.0 L578.2 194.8ZM576.5 210.3 L579.5 224.7 L587.4 223.0 L584.4 208.7ZM581.1 246.6 L581.6 253.2 L589.7 252.6 L589.2 246.0ZM586.6 237.0 L589.5 245.2 L597.2 242.4 L594.2 234.3ZM589.3 244.0 L590.7 276.3 L598.8 275.9 L597.4 243.6ZM591.1 285.3 L591.5 294.6 L599.6 294.2 L599.2 284.9ZM598.2 255.4 L599.0 264.5 L607.0 263.8 L606.3 254.8ZM599.7 273.5 L600.4 282.1 L608.5 281.5 L607.8 272.8ZM607.1 236.5 L608.1 250.6 L616.1 250.0 L615.1 235.9ZM608.7 259.6 L609.3 267.3 L617.3 266.7 L616.8 259.0ZM635.8 210.1 L636.0 221.1 L644.0 221.0 L643.9 210.0ZM636.1 221.2 L638.3 245.1 L646.4 244.4 L644.2 220.5ZM677.7 157.0 L678.2 191.2 L686.3 191.1 L685.8 156.9ZM678.3 200.2 L678.6 221.2 L686.7 221.1 L686.4 200.1ZM678.7 230.2 L679.3 271.2 L687.4 271.1 L686.8 230.1ZM679.4 280.2 L679.7 301.2 L687.8 301.1 L687.5 280.1ZM679.8 310.2 L679.9 317.8 L688.0 317.7 L687.9 310.1ZM686.1 70.8 L691.6 81.6 L698.8 77.9 L693.3 67.2ZM691.2 79.7 L691.3 91.5 L699.4 91.5 L699.3 79.7ZM691.3 100.5 L691.5 121.5 L699.6 121.5 L699.4 100.5ZM693.1 154.5 L694.3 171.6 L702.3 171.0 L701.2 154.0ZM702.1 177.1 L704.3 207.0 L712.4 206.4 L710.2 176.5ZM712.3 194.1 L713.0 204.8 L721.0 204.3 L720.4 193.7ZM718.4 215.2 L719.8 221.9 L727.7 220.2 L726.3 213.5ZM722.3 219.4 L723.0 230.3 L731.1 229.8 L730.4 218.9ZM723.6 239.3 L724.5 253.4 L732.6 252.9 L731.6 238.8ZM730.9 214.6 L731.8 229.5 L739.9 229.0 L739.0 214.2ZM740.8 236.5 L741.8 257.5 L749.9 257.1 L748.9 236.1ZM751.0 226.8 L751.4 233.6 L759.5 233.1 L759.1 226.3ZM751.9 242.6 L753.2 264.9 L761.3 264.4 L760.0 242.1ZM759.2 253.4 L760.3 265.4 L768.4 264.7 L767.3 252.7ZM761.1 274.4 L761.4 279.0 L769.5 278.3 L769.1 273.7ZM778.9 209.2 L781.1 234.1 L789.2 233.4 L787.0 208.5ZM787.5 199.8 L787.6 201.4 L795.7 200.8 L795.5 199.3ZM788.2 210.3 L789.7 229.6 L797.7 229.0 L796.3 209.7ZM793.4 209.0 L796.2 219.6 L804.0 217.5 L801.2 206.9ZM797.6 218.5 L798.1 227.0 L806.2 226.5 L805.6 218.0ZM798.8 236.0 L799.8 250.0 L807.8 249.4 L806.9 235.4ZM808.0 182.7 L810.2 205.1 L818.3 204.3 L816.1 181.9ZM817.3 172.7 L819.0 203.5 L827.1 203.0 L825.4 172.3ZM824.1 164.5 L826.3 196.1 L834.4 195.5 L832.2 163.9ZM836.4 157.2 L836.6 152.9 L828.5 152.5 L828.3 156.8ZM837.2 151.3 L837.3 116.1 L829.2 116.1 L829.1 151.2ZM837.4 107.1 L837.4 86.1 L829.3 86.1 L829.3 107.1ZM839.0 153.0 L841.2 186.4 L849.3 185.8 L847.1 152.4ZM843.0 163.2 L843.0 170.7 L851.1 170.7 L851.1 163.1ZM843.1 179.7 L843.3 220.7 L851.4 220.7 L851.2 179.7ZM843.4 229.7 L843.5 250.7 L851.6 250.7 L851.5 229.7ZM843.6 259.7 L843.9 300.7 L852.0 300.7 L851.7 259.7ZM843.9 309.7 L844.1 330.7 L852.2 330.7 L852.0 309.7ZM844.1 339.7 L844.4 380.7 L852.5 380.7 L852.2 339.7ZM844.5 389.7 L844.6 410.7 L852.7 410.7 L852.6 389.7ZM844.7 419.7 L844.7 430.4 L852.8 430.3 L852.8 419.7ZM850.5 170.4 L851.0 174.2 L859.0 173.3 L858.6 169.5ZM852.0 183.2 L854.3 204.0 L862.3 203.1 L860.0 182.3ZM856.8 212.1 L857.4 253.1 L865.5 253.0 L864.9 212.0ZM857.5 262.1 L857.8 283.1 L865.9 283.0 L865.6 262.0ZM857.9 292.1 L858.4 333.1 L866.5 333.0 L866.0 292.0ZM858.6 342.1 L858.8 363.1 L866.9 363.0 L866.7 342.0ZM859.0 372.1 L859.0 376.8 L867.1 376.7 L867.1 372.0ZM864.9 217.9 L866.8 251.8 L874.9 251.3 L872.9 217.4ZM873.6 216.2 L875.8 242.9 L883.9 242.3 L881.7 215.6ZM883.2 213.1 L884.8 231.8 L892.9 231.1 L891.3 212.3ZM893.1 193.4 L894.3 205.9 L902.3 205.1 L901.1 192.6ZM896.9 164.4 L897.8 181.5 L905.9 181.1 L905.0 164.0ZM898.3 190.5 L899.1 208.2 L907.2 207.8 L906.3 190.1ZM910.2 95.9 L910.3 84.0 L902.2 83.9 L902.1 95.9ZM911.0 85.3 L911.1 126.3 L919.2 126.2 L919.1 85.2ZM911.2 135.3 L911.2 151.3 L919.3 151.2 L919.3 135.2ZM911.8 152.8 L911.9 156.3 L920.0 156.0 L919.9 152.6ZM912.1 165.3 L913.3 206.2 L921.4 206.0 L920.2 165.0ZM913.5 215.2 L914.0 230.7 L922.1 230.5 L921.6 215.0ZM917.0 167.0 L919.8 183.5 L927.7 182.2 L925.0 165.7ZM921.2 191.7 L923.2 231.5 L931.3 231.1 L929.3 191.3ZM930.0 192.5 L932.2 224.8 L940.2 224.3 L938.0 191.9ZM940.1 193.5 L940.5 234.5 L948.6 234.4 L948.2 193.4ZM940.6 243.5 L940.8 264.5 L948.9 264.4 L948.7 243.4ZM940.9 273.5 L941.4 314.5 L949.5 314.4 L949.0 273.4ZM941.4 323.5 L941.7 344.5 L949.8 344.4 L949.5 323.4ZM941.8 353.4 L942.2 394.4 L950.3 394.4 L949.9 353.4ZM945.5 189.6 L948.8 206.0 L956.7 204.4 L953.4 188.0ZM959.9 185.1 L960.7 196.1 L968.8 195.5 L967.9 184.5ZM961.4 205.1 L962.1 213.8 L970.1 213.2 L969.5 204.5ZM970.3 172.5 L970.9 180.7 L979.0 180.1 L978.4 171.9ZM971.5 189.7 L972.5 202.8 L980.6 202.2 L979.6 189.1ZM983.3 151.3 L983.4 144.7 L975.3 144.7 L975.2 151.2ZM983.4 135.7 L983.6 94.7 L975.5 94.7 L975.3 135.7ZM984.4 101.0 L984.5 142.0 L992.6 142.0 L992.5 101.0ZM985.1 152.9 L986.0 172.0 L994.1 171.7 L993.2 152.5ZM986.5 181.0 L987.3 199.0 L995.4 198.6 L994.6 180.6ZM992.1 163.5 L994.6 175.2 L1002.6 173.4 L1000.0 161.7ZM997.0 185.3 L999.2 224.2 L1007.2 223.7 L1005.1 184.9ZM1005.0 208.4 L1007.1 214.2 L1014.7 211.5 L1012.6 205.7ZM1007.3 212.7 L1009.0 246.9 L1017.1 246.5 L1015.4 212.3ZM1016.2 207.0 L1017.5 223.9 L1025.6 223.2 L1024.3 206.4ZM1035.0 172.7 L1037.2 204.9 L1045.3 204.4 L1043.1 172.1ZM1041.6 155.4 L1043.9 167.1 L1051.8 165.6 L1049.5 153.8ZM1044.7 165.1 L1046.9 175.0 L1054.8 173.2 L1052.6 163.3ZM1056.9 155.0 L1057.1 153.1 L1049.1 152.3 L1048.9 154.1ZM1057.7 151.3 L1057.8 133.7 L1049.7 133.7 L1049.6 151.2ZM1069.5 180.3 L1072.4 201.1 L1080.4 200.0 L1077.5 179.2ZM1074.0 209.6 L1076.2 247.7 L1084.3 247.2 L1082.1 209.2ZM1082.2 222.3 L1082.6 227.9 L1090.6 227.4 L1090.3 221.8ZM1091.6 202.4 L1093.3 243.4 L1101.4 243.1 L1099.7 202.1ZM1102.5 204.8 L1103.3 222.2 L1111.4 221.8 L1110.6 204.4ZM1103.7 231.2 L1104.6 252.1 L1112.7 251.8 L1111.7 230.8ZM1111.6 183.3 L1111.7 186.1 L1119.8 185.7 L1119.7 183.0ZM1112.1 195.1 L1113.8 234.4 L1121.9 234.1 L1120.2 194.7ZM1116.1 164.3 L1116.3 175.9 L1124.4 175.7 L1124.2 164.1ZM1117.1 214.8 L1118.0 255.8 L1126.1 255.7 L1125.2 214.7ZM1118.2 264.8 L1118.3 269.4 L1126.4 269.2 L1126.3 264.7ZM1130.1 84.5 L1130.2 109.2 L1138.3 109.2 L1138.2 84.5ZM1130.9 152.7 L1131.3 189.2 L1139.4 189.1 L1139.0 152.6ZM1131.8 228.2 L1132.3 269.2 L1140.4 269.1 L1139.9 228.1ZM1132.5 278.2 L1132.7 299.2 L1140.8 299.1 L1140.6 278.1ZM1132.8 308.2 L1133.1 329.6 L1141.2 329.5 L1140.9 308.1ZM1140.2 173.4 L1140.3 177.3 L1148.4 176.9 L1148.3 173.1ZM1140.7 186.2 L1141.6 207.2 L1149.7 206.9 L1148.8 185.9ZM1142.0 216.2 L1142.4 225.9 L1150.5 225.5 L1150.1 215.9ZM1145.1 189.6 L1147.4 199.1 L1155.2 197.2 L1153.0 187.8ZM1149.7 202.7 L1150.0 209.0 L1158.1 208.6 L1157.8 202.3ZM1150.4 218.0 L1151.9 248.0 L1160.0 247.7 L1158.5 217.6ZM1158.6 226.0 L1160.5 254.3 L1168.6 253.8 L1166.7 225.5ZM1169.6 221.0 L1171.2 243.9 L1179.3 243.3 L1177.6 220.4ZM1178.3 179.0 L1180.5 205.2 L1188.5 204.5 L1186.3 178.3ZM1190.2 164.6 L1192.4 188.9 L1200.5 188.2 L1198.3 163.9ZM1203.5 83.3 L1203.6 79.9 L1195.5 79.8 L1195.4 83.3ZM1205.1 153.1 L1205.8 160.9 L1213.9 160.1 L1213.2 152.3ZM1206.7 169.8 L1207.3 176.5 L1215.4 175.7 L1214.7 169.1ZM1216.9 192.2 L1217.7 204.6 L1225.8 204.1 L1224.9 191.7ZM1224.5 186.9 L1226.7 218.1 L1234.8 217.5 L1232.6 186.4ZM1234.7 208.7 L1236.6 249.2 L1244.7 248.8 L1242.8 208.4ZM1238.9 210.2 L1245.2 230.0 L1252.9 227.6 L1246.7 207.7ZM1245.0 229.1 L1246.6 248.6 L1254.7 247.9 L1253.1 228.5ZM1254.5 215.8 L1256.2 247.4 L1264.3 247.0 L1262.5 215.3ZM1259.0 217.6 L1264.1 237.5 L1271.9 235.5 L1266.8 215.6ZM1264.0 236.7 L1264.5 247.5 L1272.6 247.2 L1272.1 236.3ZM1264.9 256.5 L1265.9 277.5 L1274.0 277.1 L1273.0 256.1ZM1268.5 241.1 L1269.1 243.9 L1277.0 242.0 L1276.4 239.3ZM1271.1 252.6 L1272.4 258.1 L1280.3 256.3 L1279.0 250.8ZM1272.3 257.4 L1273.2 272.8 L1281.3 272.3 L1280.4 257.0ZM1273.7 281.8 L1274.5 294.8 L1282.6 294.3 L1281.8 281.3ZM1281.8 253.8 L1282.5 268.6 L1290.6 268.2 L1289.9 253.4ZM1283.0 277.6 L1284.0 297.8 L1292.1 297.4 L1291.1 277.2ZM1292.0 251.5 L1293.6 291.1 L1301.7 290.7 L1300.0 251.1ZM1293.9 300.0 L1294.2 305.5 L1302.2 305.2 L1302.0 299.7ZM1302.2 230.8 L1304.0 263.4 L1312.1 263.0 L1310.3 230.4ZM1311.2 235.2 L1312.8 276.1 L1320.9 275.8 L1319.3 234.8ZM1319.6 236.4 L1319.8 243.1 L1327.9 242.8 L1327.7 236.1ZM1321.2 282.0 L1321.8 298.5 L1329.9 298.3 L1329.3 281.8ZM1330.7 267.0 L1332.3 307.9 L1340.4 307.6 L1338.8 266.7ZM1339.7 261.3 L1341.2 275.7 L1349.2 274.8 L1347.7 260.4ZM1348.2 246.3 L1350.4 272.8 L1358.5 272.1 L1356.3 245.6ZM1358.3 239.9 L1359.9 280.9 L1368.0 280.5 L1366.4 239.6ZM1369.2 261.7 L1370.7 281.5 L1378.8 280.9 L1377.2 261.0ZM1377.1 260.5 L1378.6 282.5 L1386.7 282.0 L1385.2 260.0ZM1387.1 239.3 L1388.3 253.6 L1396.4 252.9 L1395.2 238.6ZM1389.0 262.5 L1389.3 266.1 L1397.4 265.4 L1397.1 261.9ZM1395.7 220.0 L1396.8 238.9 L1404.8 238.5 L1403.7 219.5ZM1397.3 247.9 L1397.9 258.1 L1405.9 257.6 L1405.4 247.5ZM1408.3 260.4 L1408.6 266.4 L1416.7 266.0 L1416.4 260.0ZM1414.7 223.6 L1415.6 238.9 L1423.7 238.4 L1422.8 223.1ZM1416.1 247.9 L1416.9 260.3 L1425.0 259.8 L1424.2 247.4ZM1425.5 232.1 L1426.5 250.0 L1434.6 249.5 L1433.6 231.7ZM1427.0 258.9 L1427.7 273.0 L1435.8 272.6 L1435.1 258.5ZM1434.0 239.3 L1434.9 253.1 L1443.0 252.6 L1442.1 238.8ZM1435.5 262.1 L1436.2 274.3 L1444.3 273.8 L1443.5 261.6ZM1454.0 225.0 L1456.2 247.2 L1464.3 246.4 L1462.1 224.2ZM1467.1 233.4 L1469.5 274.4 L1477.6 273.9 L1475.2 233.0Z"/>
<path fill="none" stroke="#000" stroke-width="6" stroke-linejoin="round" d="M318.4 99.8 L318.4 90.8 C318.4 86.3 320.9 84.8 323.9 84.8 C326.9 84.8 329.4 86.3 329.4 90.8 L329.4 99.8M392.6 101.4 L392.6 92.4 C392.6 87.9 395.1 86.4 398.1 86.4 C401.1 86.4 403.6 87.9 403.6 92.4 L403.6 101.4M464.0 104.7 L464.0 95.7 C464.0 91.2 466.5 89.7 469.5 89.7 C472.5 89.7 475.0 91.2 475.0 95.7 L475.0 104.7M538.2 98.7 L538.2 89.7 C538.2 85.2 540.7 83.7 543.7 83.7 C546.7 83.7 549.2 85.2 549.2 89.7 L549.2 98.7M832.3 86.8 L832.3 77.8 C832.3 73.3 834.8 71.8 837.8 71.8 C840.8 71.8 843.3 73.3 843.3 77.8 L843.3 86.8M905.1 91.0 L905.1 82.0 C905.1 77.5 907.6 76.0 910.6 76.0 C913.6 76.0 916.1 77.5 916.1 82.0 L916.1 91.0M978.5 93.7 L978.5 84.7 C978.5 80.2 981.0 78.7 984.0 78.7 C987.0 78.7 989.5 80.2 989.5 84.7 L989.5 93.7M1052.8 93.2 L1052.8 84.2 C1052.8 79.7 1055.3 78.2 1058.3 78.2 C1061.3 78.2 1063.8 79.7 1063.8 84.2 L1063.8 93.2M1124.2 91.5 L1124.2 82.5 C1124.2 78.0 1126.7 76.5 1129.7 76.5 C1132.7 76.5 1135.2 78.0 1135.2 82.5 L1135.2 91.5M1198.4 86.8 L1198.4 77.8 C1198.4 73.3 1200.9 71.8 1203.9 71.8 C1206.9 71.8 1209.4 73.3 1209.4 77.8 L1209.4 86.8"/>
<path class="c" stroke="#000" stroke-width="10.2" d="M1470.5 223.0 L1473.8 277.9 L1474.3 267.9 L1474.8 260.3 L1475.3 254.7 L1475.8 251.0 L1476.3 248.9 L1476.9 247.9 L1477.4 247.7 L1481.5 286.2 L1486.4 342.5 L1491.1 258.7 L1496.6 206.5 L1497.2 206.7 L1497.8 207.9 L1498.4 210.4 L1499.0 214.8 L1499.5 221.4 L1500.1 230.4 L1500.7 242.2 L1501.4 227.2 L1502.1 215.8 L1502.8 207.4 L1503.5 201.9 L1504.3 198.6 L1505.0 197.2 L1505.7 196.9 L1509.5 231.2 L1511.7 368.6 L1512.0 364.0 L1512.3 360.6 L1512.7 358.0 L1513.0 356.4 L1513.3 355.4 L1513.6 354.9 L1513.9 354.8 L1514.2 354.9 L1514.5 355.5 L1514.8 356.8 L1515.2 359.0 L1515.5 362.3 L1515.8 366.8 L1516.1 372.7 L1516.3 353.2 L1516.6 338.3 L1516.8 327.4 L1517.0 320.2 L1517.3 315.9 L1517.5 314.0 L1517.8 313.6 L1518.1 314.3 L1518.5 317.9 L1518.9 325.8 L1519.3 339.3 L1519.7 359.4 L1520.1 387.2 L1520.5 423.5 L1524.1 231.2 L1526.0 188.6 L1529.6 231.2 L1533.7 294.4 L1534.5 271.7 L1535.3 254.3 L1536.0 241.7 L1536.8 233.3 L1537.6 228.4 L1538.4 226.1 L1539.2 225.7 L1540.0 226.2 L1540.9 228.6 L1541.8 233.9 L1542.6 243.0 L1543.5 256.6 L1544.4 275.4 L1545.2 299.9 L1546.1 271.8 L1547.0 250.2 L1547.9 234.6 L1548.8 224.1 L1549.7 218.0 L1550.6 215.3 L1551.5 214.7 L1552.7 215.0 L1553.9 216.1 L1555.1 218.7 L1556.3 223.1 L1557.4 229.6 L1558.6 238.6 L1559.8 250.4 L1560.6 239.6 L1561.4 231.2 L1562.1 225.2 L1562.9 221.1 L1563.7 218.7 L1564.5 217.7 L1565.3 217.5 L1566.3 217.7 L1567.2 219.1 L1568.2 222.0 L1569.2 227.1 L1570.2 234.7 L1571.2 245.1 L1572.1 258.7 L1572.9 242.4 L1573.7 229.8 L1574.5 220.8 L1575.3 214.7 L1576.1 211.1 L1576.9 209.5 L1577.6 209.2 L1580.4 258.7 L1582.6 423.5 L1585.3 258.7 L1589.2 187.3 L1590.1 187.5 L1591.0 188.7 L1591.9 191.5 L1592.8 196.2 L1593.7 203.3 L1594.6 213.0 L1595.5 225.7 L1596.5 217.5 L1597.5 211.3 L1598.4 206.8 L1599.4 203.7 L1600.4 201.9 L1601.4 201.1 L1602.4 201.0 L1603.3 201.6 L1604.3 204.5 L1605.3 211.0 L1606.3 222.1 L1607.3 238.8 L1608.3 261.7 L1609.2 291.6 L1610.0 268.1 L1610.8 250.0 L1611.6 236.9 L1612.4 228.1 L1613.2 223.0 L1613.9 220.7 L1614.7 220.2 L1615.5 220.6 L1616.3 222.4 L1617.1 226.6 L1617.9 233.7 L1618.7 244.3 L1619.4 258.9 L1620.2 277.9 L1621.2 262.5 L1622.2 250.7 L1623.2 242.1 L1624.1 236.4 L1625.1 233.0 L1626.1 231.5 L1627.1 231.2 L1627.9 231.4 L1628.7 232.4 L1629.4 234.5 L1630.2 238.3 L1631.0 243.8 L1631.8 251.4 L1632.6 261.4 L1633.2 237.8 L1633.8 219.8 L1634.4 206.7 L1634.9 197.9 L1635.5 192.7 L1636.1 190.5 L1636.7 190.0 L1640.8 258.7 L1644.1 385.1 L1647.7 286.2 L1650.4 253.2 L1651.3 253.5 L1652.3 255.3 L1653.2 259.3 L1654.1 266.0 L1655.0 276.1 L1655.9 290.0 L1656.8 308.1 L1661.4 247.7 L1665.6 214.7 L1666.5 214.9 L1667.5 215.9 L1668.5 218.1 L1669.5 221.8 L1670.5 227.3 L1671.4 235.0 L1672.4 244.9 L1673.3 230.4 L1674.2 219.3 L1675.1 211.2 L1676.0 205.8 L1676.9 202.7 L1677.8 201.3 L1678.7 201.0 L1680.0 201.3 L1681.3 202.9 L1682.5 206.5 L1683.8 212.5 L1685.0 221.6 L1686.3 234.1 L1687.5 250.4 L1688.5 239.6 L1689.5 231.2 L1690.5 225.2 L1691.5 221.1 L1692.4 218.7 L1693.4 217.7 L1694.4 217.5 L1695.2 217.7 L1696.0 219.1 L1696.8 222.0 L1697.5 227.1 L1698.3 234.7 L1699.1 245.1 L1699.9 258.7 L1700.9 246.0 L1701.9 236.3 L1702.8 229.2 L1703.8 224.5 L1704.8 221.7 L1705.8 220.5 L1706.8 220.2 L1707.7 220.8 L1708.7 223.7 L1709.7 230.2 L1710.7 241.4 L1711.7 258.0 L1712.7 280.9 L1713.6 310.9 L1714.4 273.7 L1715.2 245.2 L1716.0 224.5 L1716.8 210.7 L1717.6 202.6 L1718.3 199.0 L1719.1 198.2 L1724.6 209.2 L1725.4 202.9 L1726.2 198.0 L1727.0 194.5 L1727.8 192.1 L1728.5 190.7 L1729.3 190.1 L1730.1 190.0 L1730.9 190.9 L1731.7 195.5 L1732.5 205.8 L1733.3 223.3 L1734.0 249.6 L1734.8 285.7 L1735.6 332.9 L1741.1 258.7 L1748.0 203.7 L1754.8 225.7 L1760.9 338.4 L1762.0 289.8 L1763.1 252.7 L1764.2 225.7 L1765.3 207.6 L1766.4 197.0 L1767.5 192.3 L1768.6 191.4 L1775.4 231.2 L1783.7 327.4 L1790.6 247.7 L1796.0 217.5 L1796.9 218.4 L1797.8 223.1 L1798.6 233.6 L1799.5 251.5 L1800.4 278.2 L1801.2 315.0 L1802.1 363.1 L1803.2 307.3 L1804.3 264.6 L1805.4 233.6 L1806.5 212.8 L1807.6 200.6 L1808.7 195.2 L1809.8 194.1 L1810.6 194.3 L1811.4 195.0 L1812.1 196.7 L1812.9 199.6 L1813.7 203.9 L1814.5 209.8 L1815.3 217.5 L1816.1 212.0 L1816.9 207.9 L1817.6 204.8 L1818.4 202.8 L1819.2 201.6 L1820.0 201.1 L1820.8 201.0 L1824.9 258.7 L1827.6 423.5 L1830.9 286.2 L1833.7 231.2 L1837.3 286.2 L1841.4 433.1 L1841.9 375.5 L1842.3 331.4 L1842.8 299.4 L1843.3 278.0 L1843.7 265.4 L1844.2 259.8 L1844.7 258.7 L1845.2 259.9 L1845.7 266.0 L1846.2 279.6 L1846.7 302.9 L1847.2 337.7 L1847.7 385.6 L1848.2 448.2 L1851.8 231.2 L1855.1 225.7 L1856.5 228.5"/>
<path class="c" stroke="#ff0000" stroke-width="8.8" d="M230.5 257.8 L232.3 232.8 L232.4 232.0 L234.7 227.1 L236.3 196.3 L236.3 196.3 L237.8 232.3 L240.1 192.7 L240.6 193.9 L242.9 444.4 L245.0 196.4 L245.0 196.4 L247.2 352.8 L249.5 202.5 L250.2 205.6 L252.5 430.7 L254.8 231.4 L257.4 250.4 L258.4 245.6 L260.7 309.8 L263.0 223.2 L263.2 222.4 L264.6 219.8 L266.9 247.0 L268.9 212.5 L268.9 212.5 L271.0 253.5 L273.3 208.4 L273.4 208.3 L275.7 253.2 L278.0 201.6 L278.0 201.6 L280.3 239.2 L282.6 192.9 L282.7 192.8 L282.9 193.2 L285.2 328.0 L287.1 201.1 L287.1 201.1 L288.9 333.9 L291.2 208.2 L292.8 210.8 L295.1 405.9 L297.4 211.8 L299.6 208.9 L301.9 405.9 L304.2 202.4 L307.9 196.1 L310.2 346.9 L312.5 173.5 L314.6 161.8 L316.1 156.7 L318.4 364.7 L320.7 141.0 L322.4 135.3 L325.7 132.7 L328.0 344.1 L330.3 150.9 L334.0 173.5 L336.3 363.3 L338.6 196.2 L340.7 205.6 L340.8 206.6 L343.1 407.3 L345.4 233.2 L346.3 236.2 L348.6 419.7 L350.9 251.7 L351.4 253.2 L354.0 244.0 L356.3 452.6 L358.6 228.0 L364.2 216.5 L366.5 410.1 L368.8 209.0 L370.6 206.5 L372.4 214.7 L374.7 382.6 L377.0 228.9 L379.0 224.0 L381.3 335.8 L383.5 212.6 L383.5 212.6 L385.7 427.9 L388.0 197.6 L388.1 197.2 L390.4 352.6 L392.7 180.4 L393.0 180.1 L395.3 378.5 L397.6 187.3 L397.7 187.6 L400.7 194.0 L403.0 515.8 L405.3 205.1 L407.3 211.0 L409.6 460.9 L411.9 218.7 L413.6 217.0 L415.9 401.8 L418.2 214.7 L420.3 217.7 L420.5 218.1 L422.8 416.9 L425.1 229.1 L427.4 234.5 L429.7 433.4 L432.0 229.4 L432.4 228.5 L435.4 245.5 L437.0 246.4 L439.3 430.7 L441.6 249.1 L441.7 249.2 L443.3 251.3 L445.6 366.0 L447.9 257.4 L448.0 257.5 L450.3 458.1 L452.6 216.1 L453.5 205.3 L455.7 200.6 L458.0 499.3 L460.3 186.0 L461.7 179.6 L464.0 449.9 L466.3 167.2 L466.8 166.7 L468.6 170.5 L470.9 566.6 L473.2 182.1 L475.4 189.2 L477.7 342.7 L480.0 207.3 L482.1 216.6 L482.3 217.5 L484.6 455.4 L486.9 240.2 L489.2 251.4 L491.5 456.8 L493.8 238.6 L497.2 222.4 L499.2 218.9 L499.6 222.4 L501.9 416.9 L504.2 249.4 L506.6 261.4 L508.4 256.4 L510.7 466.4 L513.0 243.7 L514.6 239.4 L517.2 235.6 L519.5 425.2 L521.8 226.9 L523.5 222.4 L525.8 377.1 L528.1 206.6 L530.4 197.4 L532.7 349.6 L535.0 167.9 L535.5 164.2 L537.8 310.4 L540.1 142.9 L541.4 137.4 L543.7 384.0 L546.0 136.3 L546.4 136.4 L550.2 150.8 L551.0 155.7 L553.3 366.1 L555.6 183.9 L558.4 190.8 L560.7 411.4 L563.0 195.5 L564.7 195.2 L567.0 386.7 L569.3 210.3 L569.4 210.7 L571.7 455.4 L574.0 236.6 L579.3 230.4 L581.6 455.4 L583.9 227.2 L584.9 227.1 L586.7 236.0 L589.0 432.0 L591.3 252.2 L594.2 260.7 L596.9 273.8 L599.2 644.4 L601.5 279.0 L605.8 249.8 L607.3 248.9 L609.6 526.8 L611.9 246.0 L612.1 245.9 L614.0 241.8 L616.3 291.9 L618.4 228.9 L618.4 228.9 L620.6 286.1 L622.9 221.2 L623.6 222.8 L625.2 227.4 L627.5 432.0 L629.8 240.9 L630.2 242.2 L632.1 236.7 L634.4 314.0 L636.3 224.3 L636.3 224.3 L638.3 329.1 L640.6 220.9 L642.5 221.1 L642.6 220.6 L644.9 488.3 L647.2 207.1 L647.3 206.8 L649.6 203.8 L651.9 341.0 L654.2 212.7 L657.5 219.5 L659.8 384.0 L662.1 209.7 L663.6 205.8 L665.9 300.3 L668.2 196.5 L669.3 185.1 L671.6 400.4 L673.9 163.5 L674.6 162.3 L680.7 158.1 L681.7 153.4 L684.0 304.3 L686.3 71.8 L689.4 65.7 L689.7 65.0 L691.2 67.9 L693.5 205.2 L695.8 144.1 L698.1 155.1 L700.4 388.1 L702.7 165.6 L704.8 169.1 L706.4 176.3 L708.7 334.5 L711.0 190.9 L713.6 195.5 L716.0 200.2 L718.3 285.1 L720.6 216.0 L723.8 236.7 L727.0 230.3 L729.3 379.8 L731.6 221.0 L731.8 220.6 L734.8 216.1 L736.6 230.0 L738.9 469.1 L741.2 244.6 L742.7 248.6 L745.0 322.5 L747.3 250.3 L747.6 250.0 L749.9 334.5 L752.2 247.7 L755.3 252.2 L756.4 252.9 L758.7 440.3 L761.0 255.9 L763.5 257.6 L764.1 258.2 L766.4 433.4 L768.7 262.5 L770.5 264.2 L772.3 243.1 L774.6 470.5 L776.9 207.3 L777.4 206.5 L779.7 213.6 L782.0 379.6 L784.3 219.3 L784.7 218.4 L787.0 432.0 L789.3 207.0 L789.5 206.6 L792.5 201.0 L795.7 224.4 L798.0 451.3 L800.3 228.5 L803.9 228.4 L806.2 407.3 L808.5 225.0 L811.3 205.0 L813.6 459.5 L815.9 168.4 L820.4 184.0 L822.7 334.5 L825.0 178.0 L828.6 168.9 L830.9 320.8 L833.2 147.8 L835.5 136.7 L837.8 373.0 L840.1 130.8 L843.3 129.6 L845.6 156.1 L846.5 161.4 L848.8 312.5 L851.1 186.4 L854.7 201.8 L857.0 374.3 L859.3 221.1 L859.8 223.0 L863.5 220.0 L865.8 382.6 L868.1 221.9 L871.2 231.2 L873.5 356.5 L875.8 228.8 L879.5 223.8 L881.8 603.7 L884.1 217.0 L885.5 214.7 L887.8 373.8 L890.1 207.1 L891.8 204.2 L894.1 410.1 L896.4 198.4 L898.7 196.0 L901.0 356.5 L903.3 173.4 L904.8 164.9 L907.9 161.2 L908.3 162.3 L910.6 313.9 L912.9 175.5 L916.5 189.7 L918.8 504.8 L921.1 221.9 L922.9 235.8 L925.2 570.8 L927.5 227.8 L930.3 209.9 L932.6 436.2 L934.9 206.1 L938.5 226.1 L940.8 511.7 L943.1 223.9 L944.5 221.0 L946.8 403.8 L949.1 230.3 L949.5 231.2 L951.8 411.4 L953.9 233.6 L953.9 233.6 L956.0 363.6 L958.3 224.5 L958.6 222.9 L960.9 411.4 L963.2 194.9 L966.0 191.2 L968.3 345.5 L970.6 195.5 L972.4 198.2 L973.4 191.0 L975.7 384.0 L978.0 157.8 L979.0 150.6 L981.1 144.6 L983.4 382.6 L985.7 144.1 L986.6 144.6 L990.7 162.1 L993.0 326.3 L995.3 194.1 L995.4 194.7 L997.7 342.3 L1000.0 208.4 L1001.5 209.6 L1003.1 215.0 L1005.4 525.4 L1007.7 229.0 L1010.0 229.1 L1012.3 449.9 L1014.6 229.2 L1015.4 229.2 L1017.7 434.8 L1020.0 221.2 L1023.0 212.1 L1024.2 209.7 L1026.5 493.8 L1028.8 210.8 L1030.6 213.3 L1032.9 433.4 L1035.2 187.8 L1035.6 184.5 L1039.3 190.1 L1041.6 353.7 L1043.9 175.8 L1045.4 167.2 L1047.7 284.1 L1049.9 142.9 L1049.9 142.9 L1052.1 301.5 L1054.4 134.3 L1055.0 135.1 L1055.8 134.6 L1058.1 284.9 L1060.4 136.1 L1063.7 150.8 L1066.0 326.3 L1068.3 175.5 L1068.6 177.5 L1070.9 387.3 L1073.2 212.7 L1073.8 216.9 L1076.1 220.4 L1078.4 511.7 L1080.7 226.9 L1084.9 232.5 L1087.0 234.3 L1089.3 430.7 L1091.6 238.0 L1093.5 239.5 L1095.3 237.6 L1097.6 436.2 L1099.9 233.0 L1100.8 232.1 L1103.1 360.6 L1105.4 228.0 L1106.3 228.9 L1108.6 388.1 L1110.9 227.2 L1111.0 227.0 L1113.3 362.9 L1114.9 223.8 L1114.9 223.8 L1116.4 364.8 L1118.7 234.3 L1118.7 234.3 L1120.9 419.7 L1123.2 234.9 L1124.0 234.5 L1126.3 345.1 L1128.6 249.9 L1129.1 255.2 L1131.4 644.4 L1133.7 307.7 L1134.7 319.1 L1137.9 288.7 L1140.2 449.9 L1142.5 245.1 L1146.1 211.7 L1148.4 411.4 L1150.7 213.3 L1151.4 218.3 L1153.7 381.1 L1156.0 235.0 L1157.1 234.2 L1159.4 425.2 L1161.7 230.5 L1161.9 230.3 L1164.0 229.0 L1166.3 426.5 L1168.6 237.6 L1170.4 242.2 L1172.2 233.1 L1174.5 471.9 L1176.8 210.1 L1177.7 205.4 L1179.3 183.1 L1181.6 335.5 L1183.9 177.1 L1185.9 185.6 L1188.2 364.7 L1190.5 194.8 L1194.2 170.7 L1196.5 327.6 L1198.8 137.1 L1200.9 120.7 L1202.4 120.4 L1204.7 294.7 L1207.0 120.4 L1207.7 120.5 L1210.0 305.8 L1212.2 148.6 L1212.2 148.6 L1214.3 353.7 L1216.6 177.0 L1218.0 184.5 L1223.0 190.5 L1225.3 449.9 L1227.6 196.9 L1229.2 199.2 L1231.5 406.3 L1233.8 211.4 L1234.0 212.1 L1236.3 449.9 L1238.6 223.7 L1239.8 225.7 L1242.1 426.1 L1244.4 233.9 L1245.0 235.1 L1247.3 449.9 L1249.6 235.3 L1251.9 234.4 L1254.2 449.9 L1256.2 231.8 L1256.2 231.8 L1258.3 393.6 L1260.6 228.1 L1261.5 230.3 L1263.8 449.9 L1266.1 252.9 L1267.0 258.0 L1269.3 418.9 L1271.6 273.5 L1272.5 276.3 L1274.8 449.9 L1277.1 282.3 L1280.3 280.7 L1283.5 285.8 L1285.8 449.9 L1288.1 291.1 L1289.6 290.3 L1291.9 442.0 L1294.2 287.7 L1294.5 287.5 L1296.8 449.9 L1299.0 268.8 L1299.0 268.8 L1301.2 430.4 L1303.5 239.5 L1303.7 239.5 L1306.0 270.8 L1308.3 245.5 L1308.8 246.2 L1311.1 278.1 L1313.4 254.6 L1313.7 255.3 L1316.0 341.4 L1318.3 266.7 L1323.1 288.5 L1323.3 288.9 L1325.6 312.5 L1327.9 298.5 L1332.5 308.1 L1334.3 301.0 L1336.6 644.4 L1338.9 282.9 L1341.2 274.0 L1343.5 449.9 L1345.8 260.4 L1350.8 257.5 L1353.1 449.9 L1355.4 243.9 L1355.8 242.2 L1358.8 259.0 L1359.0 259.1 L1361.3 449.9 L1363.6 263.1 L1363.8 263.2 L1366.1 413.5 L1368.4 266.7 L1371.4 264.2 L1373.7 349.6 L1376.0 260.2 L1377.8 258.7 L1379.6 260.9 L1381.9 348.2 L1384.2 266.4 L1384.7 266.9 L1390.6 259.7 L1392.9 323.5 L1395.2 244.3 L1395.7 240.0 L1398.0 296.5 L1400.3 234.4 L1404.3 254.4 L1406.6 449.9 L1408.9 266.3 L1409.8 260.8 L1412.1 286.5 L1414.4 230.5 L1414.7 228.6 L1417.0 280.3 L1419.3 230.7 L1419.5 231.1 L1421.8 285.1 L1424.1 242.1 L1425.5 245.6 L1430.4 249.9 L1432.7 449.9 L1435.0 252.7 L1436.2 252.5 L1438.5 430.0 L1440.8 254.0 L1444.2 258.9 L1446.5 449.9 L1448.8 261.5 L1450.1 257.6 L1452.4 384.1 L1454.7 244.2 L1455.2 242.8 L1457.5 400.4 L1459.8 224.9 L1460.2 223.0 L1461.8 225.7 L1464.0 229.6 L1466.2 229.6 L1470.0 224.1 L1473.3 279.0 L1473.8 269.0 L1474.3 261.4 L1474.8 255.8 L1475.3 252.1 L1475.8 250.0 L1476.4 249.0 L1476.9 248.8 L1481.0 287.3 L1485.9 343.6 L1490.6 259.8 L1496.1 207.6 L1496.7 207.8 L1497.3 209.0 L1497.9 211.5 L1498.5 215.9 L1499.0 222.5 L1499.6 231.5 L1500.2 243.3 L1500.9 228.3 L1501.6 216.9 L1502.3 208.5 L1503.0 203.0 L1503.8 199.7 L1504.5 198.3 L1505.2 198.0 L1509.0 232.3 L1511.2 452.1 L1511.5 433.9 L1511.8 420.1 L1512.2 410.0 L1512.5 403.2 L1512.8 399.3 L1513.1 397.5 L1513.4 397.1 L1513.7 397.5 L1514.0 399.3 L1514.3 403.2 L1514.7 410.0 L1515.0 420.1 L1515.3 433.9 L1515.6 452.1 L1515.8 433.9 L1516.1 420.1 L1516.3 410.0 L1516.5 403.2 L1516.8 399.3 L1517.0 397.5 L1517.3 397.1 L1517.6 397.5 L1518.0 399.3 L1518.4 403.2 L1518.8 410.0 L1519.2 420.1 L1519.6 433.9 L1520.0 452.1 L1523.6 232.3 L1525.5 189.7 L1529.1 232.3 L1533.2 295.5 L1534.0 272.8 L1534.8 255.4 L1535.5 242.8 L1536.3 234.4 L1537.1 229.5 L1537.9 227.2 L1538.7 226.8 L1539.5 227.3 L1540.4 229.7 L1541.3 235.0 L1542.1 244.1 L1543.0 257.7 L1543.9 276.5 L1544.7 301.0 L1545.6 272.9 L1546.5 251.3 L1547.4 235.7 L1548.3 225.2 L1549.2 219.1 L1550.1 216.4 L1551.0 215.8 L1552.2 216.1 L1553.4 217.2 L1554.6 219.8 L1555.8 224.2 L1556.9 230.7 L1558.1 239.7 L1559.3 251.5 L1560.1 240.7 L1560.9 232.3 L1561.6 226.3 L1562.4 222.2 L1563.2 219.8 L1564.0 218.8 L1564.8 218.6 L1565.8 218.8 L1566.7 220.2 L1567.7 223.1 L1568.7 228.2 L1569.7 235.8 L1570.7 246.2 L1571.6 259.8 L1572.4 243.5 L1573.2 230.9 L1574.0 221.9 L1574.8 215.8 L1575.6 212.2 L1576.4 210.6 L1577.1 210.3 L1579.9 259.8 L1582.1 424.6 L1584.8 259.8 L1588.7 188.4 L1589.6 188.6 L1590.5 189.8 L1591.4 192.6 L1592.3 197.3 L1593.2 204.4 L1594.1 214.1 L1595.0 226.8 L1596.0 218.6 L1597.0 212.4 L1597.9 207.9 L1598.9 204.8 L1599.9 203.0 L1600.9 202.2 L1601.9 202.1 L1602.8 202.7 L1603.8 205.6 L1604.8 212.1 L1605.8 223.2 L1606.8 239.9 L1607.8 262.8 L1608.7 292.7 L1609.5 269.2 L1610.3 251.1 L1611.1 238.0 L1611.9 229.2 L1612.7 224.1 L1613.4 221.8 L1614.2 221.3 L1615.0 221.7 L1615.8 223.5 L1616.6 227.7 L1617.4 234.8 L1618.2 245.4 L1618.9 260.0 L1619.7 279.0 L1620.7 263.6 L1621.7 251.8 L1622.7 243.2 L1623.6 237.5 L1624.6 234.1 L1625.6 232.6 L1626.6 232.3 L1627.4 232.5 L1628.2 233.5 L1628.9 235.6 L1629.7 239.4 L1630.5 244.9 L1631.3 252.5 L1632.1 262.5 L1632.7 238.9 L1633.3 220.9 L1633.9 207.8 L1634.4 199.0 L1635.0 193.8 L1635.6 191.6 L1636.2 191.1 L1640.3 259.8 L1643.6 452.1 L1647.2 287.3 L1649.9 254.3 L1650.8 254.6 L1651.8 256.4 L1652.7 260.4 L1653.6 267.1 L1654.5 277.2 L1655.4 291.1 L1656.3 309.2 L1660.9 248.8 L1665.1 215.8 L1666.0 216.0 L1667.0 217.0 L1668.0 219.2 L1669.0 222.9 L1670.0 228.4 L1670.9 236.1 L1671.9 246.0 L1672.8 231.5 L1673.7 220.4 L1674.6 212.3 L1675.5 206.9 L1676.4 203.8 L1677.3 202.4 L1678.2 202.1 L1679.5 202.4 L1680.8 204.0 L1682.0 207.6 L1683.3 213.6 L1684.5 222.7 L1685.8 235.2 L1687.0 251.5 L1688.0 240.7 L1689.0 232.3 L1690.0 226.3 L1691.0 222.2 L1691.9 219.8 L1692.9 218.8 L1693.9 218.6 L1694.7 218.8 L1695.5 220.2 L1696.3 223.1 L1697.0 228.2 L1697.8 235.8 L1698.6 246.2 L1699.4 259.8 L1700.4 247.1 L1701.4 237.4 L1702.3 230.3 L1703.3 225.6 L1704.3 222.8 L1705.3 221.6 L1706.3 221.3 L1707.2 221.9 L1708.2 224.8 L1709.2 231.3 L1710.2 242.5 L1711.2 259.1 L1712.2 282.0 L1713.1 312.0 L1713.9 274.8 L1714.7 246.3 L1715.5 225.6 L1716.3 211.8 L1717.1 203.7 L1717.8 200.1 L1718.6 199.3 L1724.1 210.3 L1724.9 204.0 L1725.7 199.1 L1726.5 195.6 L1727.3 193.2 L1728.0 191.8 L1728.8 191.2 L1729.6 191.1 L1730.4 192.0 L1731.2 196.6 L1732.0 206.9 L1732.8 224.4 L1733.5 250.7 L1734.3 286.8 L1735.1 334.0 L1740.6 259.8 L1747.5 204.8 L1754.3 226.8 L1760.4 350.4 L1761.5 298.3 L1762.6 258.3 L1763.7 229.3 L1764.8 209.9 L1765.9 198.6 L1767.0 193.5 L1768.1 192.5 L1774.9 232.3 L1783.2 328.5 L1790.1 248.8 L1795.5 218.6 L1796.4 219.7 L1797.3 225.4 L1798.1 238.3 L1799.0 260.3 L1799.9 293.0 L1800.7 338.2 L1801.6 397.1 L1802.7 330.5 L1803.8 279.4 L1804.9 242.3 L1806.0 217.5 L1807.1 203.0 L1808.2 196.5 L1809.3 195.2 L1810.1 195.4 L1810.9 196.1 L1811.6 197.8 L1812.4 200.7 L1813.2 205.0 L1814.0 210.9 L1814.8 218.6 L1815.6 213.1 L1816.4 209.0 L1817.1 205.9 L1817.9 203.9 L1818.7 202.7 L1819.5 202.2 L1820.3 202.1 L1824.4 259.8 L1827.1 424.6 L1830.4 287.3 L1833.2 232.3 L1836.8 287.3 L1840.9 452.1 L1841.4 415.8 L1841.8 388.0 L1842.3 367.8 L1842.8 354.3 L1843.2 346.4 L1843.7 342.9 L1844.2 342.2 L1844.7 342.9 L1845.2 346.4 L1845.7 354.3 L1846.2 367.8 L1846.7 388.0 L1847.2 415.8 L1847.7 452.1 L1851.3 232.3 L1854.6 226.8 L1856.0 229.6"/>
</g></g>
<text transform="translate(233.0 1550.6) scale(0.965 1.025)" text-anchor="middle" class="tk">0</text>
<text transform="translate(507.8 1550.6) scale(0.965 1.025)" text-anchor="middle" class="tk">5</text>
<text transform="translate(782.7 1550.6) scale(0.965 1.025)" text-anchor="middle" class="tk">10</text>
<text transform="translate(1057.5 1550.6) scale(0.965 1.025)" text-anchor="middle" class="tk">15</text>
<text transform="translate(1332.3 1550.6) scale(0.965 1.025)" text-anchor="middle" class="tk">20</text>
<text transform="translate(1607.2 1550.6) scale(0.965 1.025)" text-anchor="middle" class="tk">25</text>
<text transform="translate(1882.0 1550.6) scale(0.965 1.025)" text-anchor="middle" class="tk">30</text>
<text transform="translate(210.6 1494.8) scale(0.965 1.025)" text-anchor="end" class="tk">0</text>
<text transform="translate(210.6 1202.2) scale(0.965 1.025)" text-anchor="end" class="tk">50</text>
<text transform="translate(210.6 909.7) scale(0.965 1.025)" text-anchor="end" class="tk">100</text>
<text x="1055.8" y="1628.0" text-anchor="middle" class="lb">Time/us</text>
<text transform="translate(89.5 1183.5) rotate(-90)" text-anchor="middle" class="lb">Amplitude/dB</text>
<rect x="1219.0" y="1249.0" width="633.0" height="147.8" fill="#fff" stroke="#262626" stroke-width="8"/>
<rect x="1233.6" y="1283.1" width="41.0" height="11.8" fill="#000"/>
<rect x="1283.6" y="1283.1" width="21.0" height="11.8" fill="#000"/>
<rect x="1313.6" y="1283.1" width="34.5" height="11.8" fill="#000"/>
<rect x="1233.6" y="1351.6" width="114.5" height="8.8" fill="#ff0000"/>
<text x="1357.5" y="1307.5" class="lg">Received</text>
<text x="1357.5" y="1374.5" class="lg">STFT Reconstruction</text>
</g>
<g id="plot3">
<line x1="507.8" y1="1727.4" x2="507.8" y2="2312.5" stroke="#dedede" stroke-width="8"/>
<line x1="782.7" y1="1727.4" x2="782.7" y2="2312.5" stroke="#dedede" stroke-width="8"/>
<line x1="1057.5" y1="1727.4" x2="1057.5" y2="2312.5" stroke="#dedede" stroke-width="8"/>
<line x1="1332.3" y1="1727.4" x2="1332.3" y2="2312.5" stroke="#dedede" stroke-width="8"/>
<line x1="1607.2" y1="1727.4" x2="1607.2" y2="2312.5" stroke="#dedede" stroke-width="8"/>
<line x1="233.0" y1="2020.0" x2="1882.0" y2="2020.0" stroke="#dedede" stroke-width="8"/>
<line x1="507.8" y1="2312.5" x2="507.8" y2="2292.0" stroke="#262626" stroke-width="8"/>
<line x1="507.8" y1="1727.4" x2="507.8" y2="1747.9" stroke="#262626" stroke-width="8"/>
<line x1="782.7" y1="2312.5" x2="782.7" y2="2292.0" stroke="#262626" stroke-width="8"/>
<line x1="782.7" y1="1727.4" x2="782.7" y2="1747.9" stroke="#262626" stroke-width="8"/>
<line x1="1057.5" y1="2312.5" x2="1057.5" y2="2292.0" stroke="#262626" stroke-width="8"/>
<line x1="1057.5" y1="1727.4" x2="1057.5" y2="1747.9" stroke="#262626" stroke-width="8"/>
<line x1="1332.3" y1="2312.5" x2="1332.3" y2="2292.0" stroke="#262626" stroke-width="8"/>
<line x1="1332.3" y1="1727.4" x2="1332.3" y2="1747.9" stroke="#262626" stroke-width="8"/>
<line x1="1607.2" y1="2312.5" x2="1607.2" y2="2292.0" stroke="#262626" stroke-width="8"/>
<line x1="1607.2" y1="1727.4" x2="1607.2" y2="1747.9" stroke="#262626" stroke-width="8"/>
<line x1="233.0" y1="2020.0" x2="253.5" y2="2020.0" stroke="#262626" stroke-width="8"/>
<line x1="1882.0" y1="2020.0" x2="1861.5" y2="2020.0" stroke="#262626" stroke-width="8"/>
<rect x="233.0" y="1727.4" width="1649.0" height="585.1" fill="none" stroke="#262626" stroke-width="8"/>
<g clip-path="url(#cp2)"><g transform="translate(0 1678)">
<path class="c" stroke="#000" stroke-width="3" d="M230.5 255.1 L232.3 230.1 L233.7 217.9 L236.5 193.4 L238.7 190.9 L240.7 191.2 L242.9 216.9 L245.1 191.9 L246.5 192.2 L250.1 205.6 L252.3 236.3 L254.5 228.0 L257.4 251.3 L260.1 236.7 L262.3 243.6 L264.5 216.7 L268.7 207.2 L269.8 205.5 L272.0 224.3 L274.2 198.9 L279.2 186.5 L281.4 215.7 L283.6 183.1 L286.5 188.9 L288.1 190.3 L290.3 242.1 L292.5 194.1 L297.8 199.1 L298.8 196.5 L301.0 239.1 L303.2 185.3 L305.8 178.8 L307.4 172.4 L309.6 229.1 L311.8 158.8 L313.5 166.4 L314.3 164.2 L316.5 246.5 L318.7 152.7 L319.2 151.3 L319.5 92.7 L321.7 87.0 L326.1 87.0 L328.3 92.7 L328.6 151.3 L329.1 152.7 L331.3 240.4 L333.5 164.2 L334.3 166.4 L336.1 171.5 L338.3 257.9 L340.5 186.4 L342.7 194.9 L345.1 208.1 L347.3 292.6 L349.5 221.5 L352.7 226.6 L355.0 224.5 L357.2 254.8 L359.4 220.4 L362.7 217.2 L364.2 214.3 L366.4 237.8 L368.6 205.7 L370.2 202.6 L374.7 200.5 L374.8 200.6 L377.0 249.1 L379.2 206.1 L380.2 207.3 L383.9 187.8 L386.1 244.0 L388.3 164.6 L388.5 164.2 L390.7 256.6 L392.9 152.7 L393.4 151.3 L393.7 94.4 L395.9 88.6 L400.3 88.6 L402.5 94.4 L402.7 151.3 L403.3 154.0 L405.5 269.4 L407.7 169.9 L408.5 166.4 L410.0 176.1 L411.6 186.9 L413.8 232.5 L416.0 198.7 L421.3 199.3 L423.5 259.5 L425.7 203.1 L428.4 208.8 L431.2 208.0 L433.4 256.2 L435.6 212.6 L440.2 230.8 L440.9 232.7 L443.1 281.9 L445.3 243.3 L447.5 248.5 L450.0 220.6 L452.2 245.0 L454.4 188.0 L458.2 185.4 L459.1 166.4 L459.9 170.1 L462.1 237.6 L464.3 156.4 L464.8 151.3 L465.1 97.7 L467.3 91.9 L471.7 91.9 L473.9 97.7 L474.2 151.3 L474.7 153.3 L476.9 266.8 L479.1 169.6 L479.9 172.4 L479.9 166.4 L482.8 191.8 L486.9 193.0 L488.3 198.5 L490.5 276.4 L492.7 215.1 L492.9 215.6 L498.1 208.0 L498.2 207.9 L500.4 250.5 L502.6 205.3 L504.1 206.0 L508.0 234.8 L508.1 234.7 L510.3 269.5 L512.5 227.8 L514.6 224.5 L516.7 223.0 L518.9 267.9 L521.1 219.0 L525.7 206.5 L527.9 242.8 L530.1 184.1 L532.4 170.5 L533.2 166.4 L534.1 164.2 L536.3 236.0 L538.5 152.7 L539.0 151.3 L539.3 91.6 L541.5 85.9 L545.9 85.9 L548.1 91.6 L548.4 151.3 L548.9 153.3 L551.1 254.3 L553.3 169.6 L554.1 172.4 L554.1 166.4 L555.2 172.8 L557.4 241.6 L559.6 193.0 L564.9 189.0 L567.1 232.8 L569.3 185.7 L569.8 185.4 L572.8 187.0 L574.1 195.0 L576.3 250.5 L578.5 208.3 L580.4 209.5 L583.4 223.8 L585.6 259.2 L587.8 233.2 L590.0 234.7 L593.3 243.8 L595.5 285.4 L597.7 256.0 L600.0 262.3 L602.3 255.1 L604.5 284.7 L606.7 241.1 L607.8 237.4 L611.1 236.2 L613.3 276.0 L615.5 228.3 L617.6 220.8 L620.6 219.7 L621.5 220.0 L623.7 253.9 L625.9 221.0 L631.3 220.3 L633.5 240.8 L635.7 218.3 L639.8 210.1 L640.0 221.1 L640.1 220.8 L642.3 240.0 L644.5 211.9 L648.0 204.8 L649.0 204.3 L651.2 226.9 L653.4 205.7 L657.9 210.1 L658.8 209.2 L661.0 228.7 L663.2 204.8 L664.5 203.5 L668.1 192.6 L670.3 199.9 L672.5 170.0 L674.6 166.3 L677.7 164.1 L679.9 179.4 L682.1 155.3 L683.7 147.8 L684.2 79.7 L689.7 69.0 L689.8 69.2 L695.2 79.7 L695.8 147.8 L697.9 157.9 L700.1 179.9 L702.3 168.9 L704.8 173.1 L706.7 178.5 L708.9 209.9 L711.1 191.0 L711.7 192.7 L716.9 194.0 L719.1 231.9 L721.3 209.7 L723.8 221.1 L726.4 219.1 L728.6 241.0 L730.8 215.7 L731.8 214.9 L735.2 214.4 L737.4 251.9 L739.6 227.4 L745.4 231.8 L747.6 284.9 L749.8 229.0 L751.3 227.9 L753.7 227.0 L755.9 268.1 L758.1 235.7 L761.0 247.3 L763.4 253.3 L765.6 284.6 L767.8 264.4 L769.1 267.8 L773.3 231.4 L775.5 236.5 L777.7 210.6 L782.4 209.0 L784.6 231.3 L786.8 204.0 L789.5 200.5 L792.2 199.2 L794.4 228.2 L796.6 205.1 L800.1 218.5 L801.9 218.2 L804.1 270.8 L806.3 217.3 L808.8 216.8 L811.6 186.8 L813.8 203.8 L816.0 166.2 L819.7 164.6 L821.0 162.9 L823.2 223.8 L825.4 157.3 L825.8 156.8 L827.4 166.4 L828.2 164.2 L830.4 226.1 L832.6 152.7 L833.1 151.3 L833.4 79.8 L835.6 74.1 L840.0 74.1 L842.2 79.8 L842.5 151.3 L843.0 152.7 L845.2 260.6 L847.4 164.2 L848.2 166.4 L848.8 166.7 L851.0 430.4 L853.2 169.2 L854.6 170.0 L858.5 205.6 L859.4 207.7 L861.6 257.1 L863.8 218.1 L863.9 218.3 L868.1 217.7 L870.3 253.2 L872.5 217.1 L874.2 216.9 L877.2 216.0 L879.4 255.1 L881.6 214.7 L885.1 213.7 L886.6 206.6 L888.8 225.1 L891.0 194.8 L893.8 191.2 L896.3 181.4 L898.5 212.6 L900.7 164.9 L901.0 164.2 L903.2 219.0 L905.4 152.7 L905.9 151.3 L906.2 84.0 L908.4 78.2 L912.8 78.2 L915.0 84.0 L915.3 151.3 L915.8 152.7 L918.0 246.3 L920.2 164.2 L921.0 166.4 L924.5 187.3 L926.7 242.4 L928.9 189.6 L934.0 192.2 L934.2 192.2 L936.4 236.3 L938.6 191.7 L944.1 191.0 L946.3 402.9 L948.5 189.2 L949.5 188.8 L954.4 213.4 L956.6 258.9 L958.8 204.3 L961.8 186.8 L962.7 185.9 L964.9 219.3 L967.1 181.7 L968.6 180.2 L973.5 166.4 L974.3 172.2 L976.5 225.6 L978.7 154.6 L979.3 151.3 L979.6 86.7 L981.8 80.9 L986.2 80.9 L988.4 86.7 L988.6 151.3 L989.2 152.7 L991.4 234.4 L993.6 164.2 L994.4 166.4 L996.0 162.6 L1000.8 184.2 L1001.9 187.3 L1004.1 250.0 L1006.3 199.9 L1010.7 212.5 L1012.9 264.1 L1015.1 210.0 L1019.6 207.1 L1021.8 233.2 L1024.0 205.3 L1026.0 204.6 L1029.5 205.8 L1031.7 228.5 L1033.9 180.2 L1034.6 175.9 L1039.8 171.8 L1042.0 211.2 L1044.2 158.8 L1045.6 154.6 L1047.9 166.4 L1048.7 164.2 L1050.9 199.6 L1053.1 152.7 L1053.6 151.3 L1053.9 86.2 L1056.1 80.4 L1060.5 80.4 L1062.7 86.2 L1063.0 151.3 L1063.5 152.7 L1065.7 231.5 L1067.9 164.1 L1067.9 164.1 L1070.0 210.5 L1072.2 172.4 L1072.5 172.9 L1077.1 205.6 L1077.4 206.6 L1079.6 245.7 L1081.8 223.8 L1082.5 226.6 L1086.8 221.3 L1089.0 290.5 L1091.2 208.6 L1092.6 199.3 L1094.8 200.5 L1096.9 200.7 L1099.1 266.4 L1101.3 218.6 L1105.4 207.6 L1107.6 240.6 L1109.8 197.6 L1113.8 191.5 L1114.8 187.0 L1117.0 238.8 L1119.2 166.9 L1119.3 166.4 L1120.1 164.2 L1122.3 233.1 L1124.5 152.7 L1125.1 151.3 L1125.3 84.5 L1127.5 78.7 L1131.9 78.7 L1134.1 84.5 L1134.4 151.3 L1134.9 152.7 L1137.1 234.5 L1139.3 164.2 L1140.2 166.4 L1143.5 172.0 L1145.7 221.0 L1147.9 184.1 L1151.3 198.2 L1153.8 202.6 L1156.0 304.6 L1158.2 213.0 L1160.9 221.6 L1163.4 221.7 L1165.6 306.2 L1167.8 221.9 L1170.2 222.0 L1172.8 214.5 L1175.0 262.9 L1177.2 206.6 L1177.9 205.8 L1181.4 184.3 L1183.6 210.3 L1185.8 170.8 L1190.2 170.9 L1193.5 166.4 L1194.3 164.2 L1196.5 231.7 L1198.7 152.7 L1199.2 151.3 L1199.5 79.8 L1201.7 74.1 L1206.1 74.1 L1208.3 79.8 L1208.6 151.3 L1209.1 152.7 L1211.3 231.5 L1213.5 164.2 L1214.3 166.4 L1218.6 167.6 L1219.4 172.1 L1221.6 234.3 L1223.8 186.3 L1229.6 186.7 L1231.8 264.8 L1234.0 194.1 L1236.6 198.9 L1238.7 201.9 L1240.9 284.2 L1243.1 209.9 L1249.1 229.0 L1251.3 284.2 L1253.5 225.4 L1257.6 217.3 L1259.8 251.5 L1262.0 213.0 L1266.9 232.0 L1269.1 286.0 L1271.3 238.9 L1272.3 239.6 L1276.3 257.1 L1278.5 337.3 L1280.7 258.9 L1286.9 252.5 L1286.9 252.4 L1289.1 298.1 L1291.3 251.7 L1295.4 256.8 L1295.8 253.4 L1298.0 288.9 L1300.2 217.0 L1303.6 218.3 L1305.8 222.3 L1308.0 254.1 L1310.2 226.9 L1315.1 229.4 L1317.3 289.0 L1319.5 230.8 L1322.5 231.6 L1324.8 240.9 L1327.0 305.9 L1329.2 253.7 L1332.1 258.2 L1333.8 259.5 L1336.0 303.6 L1338.2 263.0 L1340.7 265.0 L1343.8 260.8 L1346.0 280.7 L1348.2 254.6 L1348.7 253.9 L1353.3 243.7 L1355.5 272.6 L1357.7 237.2 L1361.0 233.5 L1362.1 233.0 L1364.3 276.3 L1366.5 233.5 L1367.1 233.9 L1370.3 250.9 L1372.5 253.3 L1374.7 283.2 L1376.9 257.3 L1380.8 260.0 L1383.0 280.1 L1385.2 263.1 L1386.0 263.7 L1390.2 243.4 L1392.4 283.1 L1394.6 222.8 L1399.8 219.7 L1400.8 226.3 L1403.0 262.5 L1405.2 233.4 L1410.3 225.3 L1412.5 269.4 L1414.7 221.4 L1416.3 221.1 L1419.6 224.1 L1421.8 254.6 L1424.0 228.1 L1424.2 228.3 L1428.9 231.4 L1431.1 261.5 L1433.3 234.7 L1437.5 238.6 L1439.7 279.9 L1441.9 242.6 L1442.4 243.1 L1448.0 237.1 L1450.2 275.7 L1452.4 232.5 L1454.7 230.1 L1458.0 224.7 L1460.2 244.3 L1462.4 222.1 L1465.1 223.4 L1470.5 223.0 L1473.8 277.9"/>
<path fill="#000" stroke="#000" stroke-width="2.4" stroke-linejoin="miter" d="M267.2 217.6 L268.0 224.7 L276.0 223.8 L275.2 216.7ZM295.5 210.2 L296.6 231.1 L304.6 230.7 L303.6 209.7ZM323.3 151.3 L323.3 141.8 L315.2 141.8 L315.2 151.2ZM323.4 132.8 L323.6 92.8 L315.5 92.7 L315.3 132.8ZM324.2 92.8 L324.3 107.0 L332.4 106.9 L332.3 92.7ZM325.4 165.9 L325.9 186.9 L334.0 186.7 L333.5 165.7ZM332.1 173.1 L332.7 194.1 L340.8 193.9 L340.2 172.9ZM334.2 253.1 L334.3 258.0 L342.4 257.8 L342.3 252.9ZM338.7 195.7 L341.1 208.8 L349.1 207.4 L346.6 194.2ZM397.6 118.8 L397.7 97.8 L389.6 97.8 L389.5 118.8ZM398.4 94.4 L398.6 124.2 L406.7 124.2 L406.5 94.4ZM398.6 133.2 L398.7 151.3 L406.8 151.2 L406.7 133.2ZM399.4 163.2 L400.2 204.2 L408.3 204.1 L407.5 163.1ZM400.4 213.2 L400.8 234.2 L408.9 234.1 L408.5 213.1ZM406.0 176.7 L407.6 187.5 L415.6 186.3 L414.0 175.5ZM447.3 235.7 L448.1 245.3 L456.2 244.6 L455.3 235.0ZM456.4 186.0 L457.7 227.0 L465.8 226.7 L464.4 185.7ZM469.0 129.4 L469.2 97.7 L461.1 97.7 L460.9 129.4ZM470.0 129.3 L470.1 151.3 L478.2 151.2 L478.1 129.2ZM471.2 179.2 L471.6 200.2 L479.7 200.1 L479.3 179.1ZM471.8 209.2 L472.6 250.2 L480.7 250.1 L479.9 209.1ZM504.8 247.6 L506.2 269.7 L514.3 269.2 L512.9 247.1ZM530.0 164.3 L530.6 182.3 L538.7 182.0 L538.1 164.1ZM543.1 151.0 L543.2 130.0 L535.1 129.9 L535.0 150.9ZM543.2 121.0 L543.3 91.7 L535.2 91.6 L535.1 120.9ZM544.0 95.6 L544.1 116.6 L552.2 116.6 L552.1 95.6ZM553.1 234.0 L553.4 241.8 L561.5 241.5 L561.2 233.7ZM560.9 189.2 L561.3 197.1 L569.3 196.7 L568.9 188.8ZM561.7 206.1 L562.8 227.1 L570.9 226.7 L569.8 205.7ZM577.2 214.0 L579.5 224.7 L587.4 223.0 L585.2 212.4ZM579.4 224.1 L581.3 254.2 L589.3 253.7 L587.5 223.6ZM636.1 221.3 L638.3 240.4 L646.3 239.5 L644.1 220.4ZM646.7 221.8 L647.2 227.3 L655.3 226.5 L654.7 221.0ZM673.7 164.7 L675.7 178.4 L683.7 177.3 L681.7 163.6ZM691.8 148.7 L693.9 158.7 L701.9 157.1 L699.7 147.0ZM695.4 173.2 L696.1 180.3 L704.1 179.5 L703.4 172.4ZM759.3 253.5 L760.2 265.8 L768.3 265.2 L767.4 253.0ZM816.9 163.1 L817.3 171.7 L825.3 171.4 L825.0 162.8ZM838.3 132.4 L838.4 151.3 L846.5 151.2 L846.4 132.4ZM846.4 368.9 L846.8 409.9 L854.9 409.9 L854.5 368.9ZM917.0 167.0 L920.5 188.0 L928.5 186.7 L925.0 165.7ZM941.3 312.0 L941.5 333.0 L949.6 332.9 L949.4 311.9ZM970.3 172.4 L970.6 179.6 L978.7 179.2 L978.4 172.0ZM971.0 188.6 L971.8 209.5 L979.9 209.2 L979.1 188.2ZM983.5 103.0 L983.6 86.7 L975.5 86.7 L975.4 102.9ZM985.1 152.8 L985.2 154.7 L993.3 154.5 L993.2 152.6ZM992.1 163.5 L992.8 166.9 L1000.7 165.2 L1000.0 161.7ZM994.8 175.7 L996.8 185.1 L1004.7 183.4 L1002.7 174.0ZM1006.7 212.6 L1007.2 224.6 L1015.3 224.3 L1014.8 212.3ZM1046.3 191.6 L1046.8 199.9 L1054.9 199.4 L1054.4 191.1ZM1057.7 151.3 L1057.7 137.1 L1049.6 137.1 L1049.6 151.2ZM1057.8 128.1 L1057.9 107.1 L1049.8 107.1 L1049.7 128.1ZM1057.9 98.1 L1058.0 86.2 L1049.9 86.1 L1049.8 98.1ZM1058.6 86.2 L1058.7 98.5 L1066.8 98.5 L1066.7 86.1ZM1058.9 137.5 L1058.9 151.3 L1067.0 151.2 L1067.0 137.5ZM1059.5 152.8 L1060.2 178.5 L1068.3 178.2 L1067.6 152.6ZM1061.3 217.5 L1061.7 231.6 L1069.8 231.4 L1069.4 217.2ZM1101.4 207.9 L1103.6 240.9 L1111.7 240.3 L1109.5 207.3ZM1129.1 148.9 L1129.2 127.9 L1121.1 127.8 L1121.0 148.8ZM1129.2 118.9 L1129.4 84.5 L1121.3 84.5 L1121.1 118.8ZM1130.2 113.4 L1130.3 151.3 L1138.4 151.2 L1138.3 113.4ZM1130.9 152.8 L1130.9 154.4 L1139.0 154.2 L1139.0 152.6ZM1139.9 181.8 L1140.9 202.7 L1148.9 202.4 L1148.0 181.4ZM1203.3 151.3 L1203.4 114.3 L1195.3 114.3 L1195.2 151.2ZM1203.5 105.3 L1203.5 84.3 L1195.4 84.3 L1195.4 105.3ZM1204.2 79.9 L1204.4 108.7 L1212.5 108.6 L1212.3 79.8ZM1204.4 117.7 L1204.5 138.7 L1212.6 138.6 L1212.5 117.6ZM1217.1 219.7 L1217.6 234.5 L1225.7 234.2 L1225.2 219.4ZM1239.3 211.1 L1241.6 218.7 L1249.4 216.3 L1247.0 208.7ZM1264.9 283.6 L1265.0 286.2 L1273.1 285.8 L1273.0 283.3ZM1311.4 240.6 L1312.2 261.6 L1320.3 261.3 L1319.5 240.3ZM1331.0 285.4 L1331.9 303.8 L1340.0 303.4 L1339.1 285.0ZM1406.3 225.5 L1407.2 245.0 L1415.3 244.6 L1414.4 225.1ZM1444.4 244.0 L1445.6 265.0 L1453.7 264.5 L1452.5 243.5Z"/>
<path fill="none" stroke="#000" stroke-width="2.4" stroke-linejoin="miter" d="M236.7 191.5 L238.9 217.2 L247.0 216.5 L244.8 190.9ZM242.5 193.2 L245.4 203.7 L253.2 201.6 L250.4 191.1ZM246.5 211.8 L248.3 236.5 L256.4 236.0 L254.6 211.2ZM250.5 228.5 L251.5 236.2 L259.5 235.2 L258.5 227.5ZM252.6 245.1 L253.4 251.8 L261.4 250.8 L260.6 244.1ZM265.8 206.0 L266.1 208.7 L274.2 207.8 L273.8 205.0ZM275.2 186.8 L277.0 211.8 L285.1 211.2 L283.2 186.2ZM284.1 190.5 L285.6 224.8 L293.7 224.5 L292.2 190.1ZM285.9 233.8 L286.3 242.3 L294.4 241.9 L294.0 233.5ZM294.8 196.7 L295.0 201.2 L303.1 200.7 L302.9 196.3ZM303.3 172.5 L303.5 177.0 L311.6 176.6 L311.4 172.2ZM303.8 186.0 L305.4 226.9 L313.5 226.6 L311.9 185.6ZM310.4 170.5 L311.0 191.5 L319.1 191.2 L318.5 170.3ZM311.2 200.5 L312.3 241.4 L320.4 241.2 L319.3 200.2ZM324.4 116.0 L324.5 151.3 L332.6 151.2 L332.5 115.9ZM325.1 152.8 L325.2 156.9 L333.3 156.7 L333.2 152.6ZM326.2 195.9 L327.2 236.9 L335.3 236.7 L334.2 195.7ZM332.9 203.1 L333.9 244.1 L342.0 243.9 L341.0 202.9ZM341.0 208.2 L341.1 210.6 L349.2 210.4 L349.1 208.0ZM341.3 219.6 L342.4 260.6 L350.5 260.4 L349.4 219.4ZM342.6 269.6 L343.2 290.6 L351.3 290.4 L350.7 269.4ZM351.4 231.4 L353.1 255.1 L361.2 254.5 L359.5 230.8ZM360.2 214.7 L360.6 219.5 L368.7 218.8 L368.2 214.0ZM361.5 228.5 L362.4 238.1 L370.4 237.4 L369.5 227.7ZM370.8 200.8 L371.7 221.3 L379.8 220.9 L378.9 200.4ZM372.1 230.3 L373.0 249.3 L381.1 248.9 L380.2 229.9ZM379.9 187.9 L381.3 225.2 L389.4 224.9 L388.0 187.6ZM381.7 234.2 L382.1 244.1 L390.2 243.8 L389.8 233.9ZM384.4 164.3 L384.7 175.6 L392.8 175.4 L392.5 164.1ZM384.9 184.6 L385.9 225.6 L394.0 225.4 L393.0 184.4ZM386.1 234.6 L386.6 255.6 L394.7 255.4 L394.2 234.4ZM397.5 151.3 L397.6 127.8 L389.5 127.8 L389.4 151.2ZM400.9 243.2 L401.4 269.5 L409.5 269.3 L409.0 243.1ZM404.6 167.6 L406.0 176.7 L414.0 175.5 L412.6 166.4ZM408.0 196.9 L409.8 232.7 L417.8 232.3 L416.1 196.5ZM417.5 204.4 L419.0 245.4 L427.1 245.1 L425.6 204.1ZM419.3 254.4 L419.5 259.6 L427.6 259.3 L427.4 254.1ZM427.6 217.3 L428.5 238.3 L436.6 237.9 L435.6 217.0ZM428.9 247.3 L429.3 256.4 L437.4 256.1 L437.0 246.9ZM431.7 213.6 L436.1 231.3 L444.0 229.3 L439.5 211.7ZM437.2 239.3 L439.0 280.3 L447.1 279.9 L445.3 238.9ZM445.9 221.0 L446.5 226.7 L454.5 226.0 L454.0 220.2ZM455.8 170.2 L456.1 177.0 L464.2 176.7 L463.9 170.0ZM458.0 235.9 L458.0 237.7 L466.1 237.4 L466.1 235.7ZM468.9 151.3 L469.0 138.4 L460.9 138.4 L460.8 151.2ZM469.9 99.3 L470.0 120.3 L478.1 120.2 L478.0 99.2ZM470.7 153.4 L471.0 170.2 L479.1 170.1 L478.8 153.2ZM472.7 259.2 L472.9 266.8 L481.0 266.7 L480.8 259.1ZM475.9 166.8 L478.7 192.2 L486.8 191.3 L484.0 165.9ZM484.3 198.7 L484.3 200.4 L492.4 200.2 L492.4 198.4ZM484.6 209.4 L485.2 230.4 L493.3 230.2 L492.7 209.2ZM485.4 239.4 L486.5 276.5 L494.6 276.3 L493.5 239.2ZM494.1 208.1 L494.8 220.8 L502.9 220.4 L502.2 207.7ZM495.2 229.8 L496.3 250.8 L504.4 250.3 L503.3 229.4ZM500.1 206.5 L500.5 209.5 L508.5 208.4 L508.1 205.5ZM501.7 218.4 L504.0 235.3 L512.0 234.3 L509.7 217.3ZM504.0 234.9 L504.3 238.6 L512.3 238.1 L512.1 234.4ZM513.1 232.8 L514.8 268.1 L522.9 267.7 L521.2 232.4ZM521.7 206.8 L523.1 230.1 L531.2 229.6 L529.8 206.3ZM523.7 239.0 L523.9 243.1 L532.0 242.6 L531.7 238.5ZM530.8 191.3 L532.1 232.2 L540.2 232.0 L538.9 191.0ZM544.2 125.6 L544.3 151.3 L552.4 151.2 L552.3 125.6ZM544.8 153.4 L545.1 166.6 L553.2 166.4 L552.9 153.2ZM545.3 175.6 L545.8 196.6 L553.9 196.4 L553.4 175.4ZM546.0 205.6 L546.9 246.6 L555.0 246.4 L554.1 205.4ZM551.2 172.9 L551.2 175.0 L559.3 174.8 L559.3 172.7ZM551.5 184.0 L552.8 225.0 L560.9 224.7 L559.6 183.7ZM570.1 195.2 L570.7 210.0 L578.7 209.7 L578.2 194.8ZM571.0 219.0 L572.3 250.6 L580.4 250.3 L579.1 218.7ZM587.9 240.8 L589.5 245.2 L597.2 242.4 L595.6 238.0ZM589.3 244.0 L591.2 280.3 L599.3 279.8 L597.4 243.6ZM598.2 255.4 L600.4 285.0 L608.5 284.4 L606.3 254.8ZM607.1 236.4 L608.7 266.8 L616.8 266.3 L615.1 235.9ZM617.5 220.2 L618.2 231.0 L626.3 230.5 L625.6 219.7ZM618.8 240.0 L619.7 254.2 L627.8 253.6 L626.9 239.5ZM627.3 220.8 L629.3 239.1 L637.3 238.2 L635.3 219.9ZM635.9 215.2 L636.0 221.1 L644.0 221.0 L644.0 215.0ZM645.0 204.7 L645.8 212.8 L653.9 212.1 L653.1 203.9ZM654.7 209.6 L655.5 216.1 L663.5 215.2 L662.8 208.7ZM656.5 225.1 L656.9 229.1 L665.0 228.2 L664.5 224.1ZM686.2 71.0 L691.6 81.6 L698.8 77.9 L693.4 67.3ZM691.2 79.7 L691.2 84.1 L699.3 84.0 L699.3 79.7ZM691.3 93.1 L691.4 114.1 L699.5 114.0 L699.4 93.0ZM691.5 123.1 L691.7 147.9 L699.8 147.8 L699.6 123.0ZM693.9 158.3 L694.5 164.2 L702.5 163.4 L701.9 157.5ZM702.7 179.7 L704.9 210.2 L713.0 209.6 L710.8 179.2ZM712.9 194.3 L713.7 208.6 L721.8 208.2 L721.0 193.8ZM714.2 217.6 L715.1 232.2 L723.2 231.7 L722.3 217.2ZM717.4 210.6 L718.2 214.5 L726.1 212.8 L725.3 208.8ZM722.4 219.5 L724.3 238.6 L732.3 237.8 L730.4 218.7ZM731.1 214.6 L732.1 231.6 L740.2 231.1 L739.2 214.1ZM732.6 240.6 L733.3 252.1 L741.4 251.7 L740.7 240.1ZM741.4 232.0 L742.5 259.5 L750.6 259.1 L749.5 231.6ZM742.9 268.4 L743.6 285.0 L751.7 284.7 L751.0 268.1ZM749.9 230.3 L751.0 251.3 L759.1 250.9 L758.0 229.9ZM751.5 260.3 L751.9 268.3 L760.0 267.9 L759.6 259.9ZM756.5 246.0 L757.1 248.3 L764.9 246.3 L764.4 244.0ZM760.8 274.7 L761.5 284.9 L769.6 284.4 L768.9 274.2ZM778.4 209.4 L779.7 222.9 L787.8 222.1 L786.5 208.6ZM788.1 199.5 L790.3 228.5 L798.4 227.9 L796.2 198.9ZM792.7 206.2 L796.2 219.6 L804.0 217.5 L800.5 204.1ZM798.2 225.8 L799.9 266.7 L808.0 266.4 L806.3 225.4ZM807.6 187.3 L809.8 204.3 L817.8 203.3 L815.6 186.3ZM817.6 180.7 L818.3 201.7 L826.4 201.4 L825.7 180.4ZM818.7 210.6 L819.1 224.0 L827.2 223.7 L826.8 210.4ZM821.8 157.5 L823.4 167.0 L831.4 165.7 L829.8 156.2ZM824.1 164.4 L825.2 192.9 L833.2 192.6 L832.2 164.1ZM825.5 201.9 L826.2 222.8 L834.3 222.5 L833.6 201.6ZM837.2 151.3 L837.2 149.6 L829.1 149.5 L829.1 151.2ZM837.2 140.6 L837.4 99.6 L829.3 99.5 L829.1 140.5ZM837.4 90.6 L837.5 79.9 L829.4 79.8 L829.3 90.5ZM838.2 82.4 L838.3 123.4 L846.4 123.4 L846.3 82.4ZM839.2 162.4 L840.0 203.3 L848.1 203.2 L847.3 162.2ZM840.2 212.3 L840.6 233.3 L848.7 233.2 L848.3 212.2ZM840.8 242.3 L841.2 260.7 L849.3 260.6 L848.9 242.2ZM844.7 166.7 L844.8 170.0 L852.9 169.9 L852.8 166.7ZM844.8 179.0 L845.0 200.0 L853.1 199.9 L852.9 178.9ZM845.1 209.0 L845.4 250.0 L853.5 249.9 L853.2 208.9ZM845.5 259.0 L845.7 279.9 L853.8 279.9 L853.6 258.9ZM845.8 288.9 L846.1 329.9 L854.2 329.9 L853.9 288.9ZM846.2 338.9 L846.4 359.9 L854.5 359.9 L854.3 338.9ZM846.8 418.9 L846.9 430.4 L855.0 430.3 L854.9 418.9ZM850.5 170.4 L854.5 206.1 L862.6 205.2 L858.6 169.5ZM855.7 215.6 L856.6 236.6 L864.7 236.2 L863.8 215.2ZM857.0 245.5 L857.6 257.3 L865.6 257.0 L865.1 245.2ZM864.1 218.0 L865.0 233.5 L873.1 233.0 L872.2 217.5ZM865.6 242.5 L866.3 253.5 L874.4 253.0 L873.7 242.0ZM873.1 216.3 L874.2 235.3 L882.3 234.8 L881.2 215.8ZM874.7 244.3 L875.3 255.3 L883.4 254.9 L882.8 243.8ZM882.6 207.1 L883.6 215.7 L891.6 214.7 L890.6 206.1ZM892.6 185.6 L894.0 206.5 L902.1 206.0 L900.6 185.0ZM897.1 168.6 L898.0 189.5 L906.0 189.2 L905.2 168.2ZM898.3 198.5 L899.1 219.2 L907.2 218.8 L906.4 198.2ZM910.0 151.3 L910.1 118.8 L902.0 118.8 L901.9 151.2ZM910.2 109.8 L910.2 88.8 L902.1 88.8 L902.1 109.8ZM911.0 84.0 L911.1 112.4 L919.2 112.4 L919.0 83.9ZM911.1 121.4 L911.2 142.4 L919.3 142.4 L919.2 121.4ZM911.8 152.8 L912.7 192.4 L920.8 192.2 L919.9 152.6ZM912.9 201.4 L913.4 222.4 L921.5 222.2 L921.0 201.2ZM913.6 231.4 L914.0 246.4 L922.1 246.2 L921.7 231.2ZM920.8 196.8 L921.7 217.7 L929.8 217.4 L928.9 196.4ZM922.0 226.7 L922.7 242.5 L930.7 242.2 L930.1 226.4ZM930.4 197.9 L932.3 236.5 L940.4 236.1 L938.5 197.5ZM940.1 191.0 L940.4 223.0 L948.5 222.9 L948.2 190.9ZM940.5 232.0 L940.7 253.0 L948.8 252.9 L948.6 231.9ZM940.8 262.0 L941.2 303.0 L949.3 302.9 L948.9 261.9ZM941.6 342.0 L942.1 383.0 L950.2 382.9 L949.7 341.9ZM942.2 392.0 L942.3 402.9 L950.4 402.8 L950.3 391.9ZM945.5 189.6 L946.6 194.8 L954.5 193.2 L953.4 188.0ZM948.3 203.6 L950.4 214.2 L958.4 212.6 L956.3 202.0ZM950.4 213.6 L950.8 223.8 L958.9 223.4 L958.4 213.2ZM951.3 232.8 L952.6 259.1 L960.6 258.7 L959.4 232.4ZM958.7 186.2 L960.1 207.1 L968.2 206.5 L966.8 185.6ZM960.7 216.0 L960.9 219.5 L969.0 219.0 L968.7 215.5ZM972.2 218.5 L972.5 225.8 L980.6 225.5 L980.3 218.2ZM983.3 151.3 L983.5 112.0 L975.4 111.9 L975.2 151.2ZM984.3 86.7 L984.5 124.7 L992.6 124.7 L992.4 86.7ZM984.5 133.7 L984.6 151.3 L992.7 151.2 L992.6 133.7ZM985.4 163.7 L986.5 204.7 L994.6 204.5 L993.5 163.5ZM986.8 213.7 L987.3 234.5 L995.4 234.3 L994.9 213.5ZM997.8 187.5 L998.8 215.5 L1006.9 215.3 L1005.9 187.2ZM999.1 224.5 L999.9 245.5 L1007.9 245.2 L1007.2 224.3ZM1003.9 205.4 L1006.9 213.8 L1014.6 211.1 L1011.5 202.6ZM1007.6 233.6 L1008.9 264.3 L1017.0 263.9 L1015.7 233.3ZM1015.6 207.4 L1017.8 233.5 L1025.9 232.8 L1023.7 206.8ZM1026.5 216.1 L1027.7 228.9 L1035.8 228.1 L1034.5 215.3ZM1036.2 179.8 L1038.0 211.4 L1046.1 211.0 L1044.3 179.3ZM1041.6 155.4 L1043.9 167.1 L1051.8 165.6 L1049.5 153.8ZM1044.6 164.5 L1045.8 182.6 L1053.8 182.1 L1052.7 164.0ZM1058.7 107.5 L1058.8 128.5 L1066.9 128.5 L1066.8 107.5ZM1060.4 187.5 L1061.0 208.5 L1069.1 208.2 L1068.5 187.2ZM1063.8 164.3 L1065.7 203.7 L1073.8 203.3 L1071.9 163.9ZM1068.5 173.4 L1073.1 206.1 L1081.1 205.0 L1076.5 172.3ZM1073.8 215.9 L1075.0 236.9 L1083.1 236.5 L1081.9 215.5ZM1082.8 221.4 L1083.1 230.7 L1091.2 230.5 L1090.9 221.2ZM1083.4 239.7 L1084.0 260.7 L1092.1 260.4 L1091.5 239.4ZM1084.3 269.7 L1085.0 290.6 L1093.1 290.4 L1092.4 269.4ZM1092.8 200.8 L1093.0 204.9 L1101.1 204.7 L1100.9 200.5ZM1093.3 213.9 L1094.0 234.9 L1102.1 234.7 L1101.4 213.7ZM1094.3 243.9 L1095.0 266.5 L1103.1 266.3 L1102.4 243.6ZM1110.7 187.2 L1112.0 217.9 L1120.1 217.6 L1118.8 186.8ZM1112.4 226.9 L1112.9 238.9 L1121.0 238.6 L1120.5 226.6ZM1116.1 164.4 L1116.5 178.6 L1124.6 178.3 L1124.2 164.1ZM1116.8 187.5 L1118.1 228.5 L1126.2 228.3 L1124.9 187.3ZM1130.1 84.5 L1130.2 104.4 L1138.3 104.4 L1138.2 84.5ZM1131.2 163.4 L1131.7 184.4 L1139.8 184.2 L1139.3 163.2ZM1132.0 193.4 L1133.1 234.4 L1141.2 234.2 L1140.1 193.2ZM1141.3 211.7 L1141.7 221.2 L1149.8 220.9 L1149.3 211.4ZM1144.8 188.4 L1147.4 199.1 L1155.2 197.2 L1152.7 186.6ZM1149.7 202.7 L1149.9 207.6 L1158.0 207.4 L1157.8 202.5ZM1150.1 216.6 L1150.9 257.6 L1159.0 257.4 L1158.1 216.4ZM1151.1 266.6 L1151.6 287.6 L1159.7 287.4 L1159.2 266.4ZM1151.8 296.6 L1151.9 304.7 L1160.0 304.5 L1159.9 296.4ZM1154.3 214.2 L1157.0 222.8 L1164.8 220.4 L1162.1 211.8ZM1159.3 221.8 L1159.6 231.6 L1167.7 231.3 L1167.4 221.6ZM1159.8 240.6 L1160.4 261.5 L1168.4 261.3 L1167.9 240.3ZM1160.6 270.5 L1161.5 306.3 L1169.6 306.1 L1168.7 270.3ZM1168.8 214.7 L1169.7 235.2 L1177.8 234.8 L1176.9 214.3ZM1170.1 244.1 L1171.0 263.1 L1179.1 262.7 L1178.2 243.8ZM1177.3 184.7 L1179.3 207.6 L1187.3 206.9 L1185.4 184.0ZM1190.2 164.4 L1191.1 189.5 L1199.1 189.2 L1198.3 164.1ZM1191.3 198.5 L1192.0 219.4 L1200.1 219.2 L1199.4 198.2ZM1192.3 228.4 L1192.4 231.9 L1200.5 231.6 L1200.4 228.2ZM1202.7 155.3 L1202.7 152.8 L1194.6 152.6 L1194.6 155.1ZM1204.5 147.7 L1204.5 151.3 L1212.6 151.2 L1212.6 147.6ZM1205.1 152.8 L1206.1 188.6 L1214.2 188.4 L1213.2 152.6ZM1206.3 197.6 L1206.9 218.6 L1215.0 218.4 L1214.4 197.4ZM1207.2 227.6 L1207.3 231.6 L1215.4 231.3 L1215.3 227.4ZM1215.4 172.3 L1216.8 210.7 L1224.9 210.4 L1223.5 172.0ZM1225.6 186.8 L1225.6 189.3 L1233.7 189.0 L1233.7 186.6ZM1225.9 198.2 L1226.5 219.2 L1234.6 219.0 L1234.0 198.0ZM1226.7 228.2 L1227.8 264.9 L1235.9 264.7 L1234.8 228.0ZM1234.7 202.0 L1234.8 206.6 L1242.9 206.4 L1242.8 201.8ZM1235.0 215.6 L1235.6 236.6 L1243.7 236.3 L1243.1 215.4ZM1235.8 245.6 L1236.9 284.3 L1245.0 284.1 L1243.9 245.3ZM1244.3 227.3 L1245.2 230.2 L1252.9 227.7 L1252.1 224.9ZM1245.0 229.1 L1245.8 247.1 L1253.8 246.8 L1253.1 228.8ZM1246.1 256.1 L1247.2 284.4 L1255.3 284.0 L1254.2 255.8ZM1253.5 217.6 L1255.1 242.3 L1263.2 241.8 L1261.6 217.1ZM1258.1 214.0 L1262.9 233.0 L1270.8 230.9 L1265.9 212.0ZM1262.8 232.1 L1263.3 244.7 L1271.4 244.3 L1270.9 231.8ZM1263.7 253.6 L1264.5 274.6 L1272.6 274.3 L1271.8 253.3ZM1268.4 240.6 L1272.4 258.0 L1280.3 256.2 L1276.3 238.7ZM1272.3 257.2 L1272.3 259.3 L1280.4 259.1 L1280.4 257.0ZM1272.6 268.3 L1273.7 309.3 L1281.8 309.1 L1280.7 268.1ZM1274.0 318.3 L1274.5 337.4 L1282.6 337.2 L1282.1 318.1ZM1283.1 256.1 L1285.0 297.0 L1293.1 296.6 L1291.2 255.7ZM1291.7 253.6 L1293.1 276.0 L1301.2 275.5 L1299.8 253.1ZM1293.7 284.9 L1293.9 289.1 L1302.0 288.6 L1301.7 284.4ZM1301.7 222.6 L1302.9 239.2 L1311.0 238.7 L1309.8 222.1ZM1303.5 248.2 L1303.9 254.3 L1312.0 253.8 L1311.6 247.7ZM1311.0 229.6 L1311.1 231.6 L1319.2 231.3 L1319.1 229.3ZM1312.5 270.6 L1313.2 289.1 L1321.3 288.8 L1320.6 270.3ZM1318.6 232.6 L1320.8 241.8 L1328.7 239.9 L1326.5 230.7ZM1320.7 241.0 L1321.8 272.5 L1329.9 272.3 L1328.8 240.7ZM1322.1 281.5 L1322.8 302.5 L1330.9 302.3 L1330.2 281.3ZM1329.7 259.7 L1330.6 276.4 L1338.6 276.0 L1337.8 259.3ZM1339.7 261.2 L1340.1 264.7 L1348.2 263.8 L1347.8 260.3ZM1341.1 273.6 L1341.9 281.1 L1350.0 280.2 L1349.2 272.7ZM1349.6 248.3 L1351.2 269.2 L1359.2 268.6 L1357.6 247.7ZM1358.1 233.2 L1358.3 237.7 L1366.4 237.3 L1366.2 232.8ZM1358.8 246.7 L1359.8 267.7 L1367.9 267.3 L1366.9 246.3ZM1364.4 241.2 L1366.3 251.6 L1374.3 250.1 L1372.3 239.7ZM1368.5 253.6 L1369.0 260.7 L1377.1 260.1 L1376.6 253.0ZM1369.7 269.7 L1370.7 283.5 L1378.8 282.9 L1377.7 269.1ZM1377.3 265.9 L1378.9 280.6 L1387.0 279.7 L1385.4 265.0ZM1386.2 243.6 L1387.2 260.8 L1395.2 260.4 L1394.3 243.2ZM1387.6 269.8 L1388.4 283.3 L1396.5 282.9 L1395.7 269.4ZM1396.7 226.5 L1397.6 241.0 L1405.7 240.5 L1404.8 226.0ZM1398.2 249.9 L1398.9 262.7 L1407.0 262.2 L1406.3 249.4ZM1407.7 254.0 L1408.5 269.6 L1416.6 269.2 L1415.8 253.6ZM1416.2 234.6 L1417.7 254.9 L1425.8 254.3 L1424.3 234.0ZM1424.8 231.7 L1426.2 249.7 L1434.2 249.1 L1432.9 231.1ZM1426.8 258.7 L1427.0 261.8 L1435.1 261.2 L1434.9 258.1ZM1433.5 238.8 L1433.8 244.1 L1441.8 243.6 L1441.6 238.4ZM1434.2 253.0 L1435.4 274.0 L1443.4 273.6 L1442.3 252.6ZM1446.1 274.0 L1446.2 275.9 L1454.3 275.4 L1454.2 273.5ZM1454.0 225.2 L1455.8 241.3 L1463.8 240.4 L1462.0 224.3ZM1466.5 223.2 L1467.4 239.0 L1475.5 238.5 L1474.5 222.7ZM1467.9 248.0 L1469.2 268.9 L1477.3 268.4 L1476.0 247.5Z"/>
<path fill="none" stroke="#000" stroke-width="6" stroke-linejoin="round" d="M318.4 99.8 L318.4 90.8 C318.4 86.3 320.9 84.8 323.9 84.8 C326.9 84.8 329.4 86.3 329.4 90.8 L329.4 99.8M392.6 101.4 L392.6 92.4 C392.6 87.9 395.1 86.4 398.1 86.4 C401.1 86.4 403.6 87.9 403.6 92.4 L403.6 101.4M464.0 104.7 L464.0 95.7 C464.0 91.2 466.5 89.7 469.5 89.7 C472.5 89.7 475.0 91.2 475.0 95.7 L475.0 104.7M538.2 98.7 L538.2 89.7 C538.2 85.2 540.7 83.7 543.7 83.7 C546.7 83.7 549.2 85.2 549.2 89.7 L549.2 98.7M832.3 86.8 L832.3 77.8 C832.3 73.3 834.8 71.8 837.8 71.8 C840.8 71.8 843.3 73.3 843.3 77.8 L843.3 86.8M905.1 91.0 L905.1 82.0 C905.1 77.5 907.6 76.0 910.6 76.0 C913.6 76.0 916.1 77.5 916.1 82.0 L916.1 91.0M978.5 93.7 L978.5 84.7 C978.5 80.2 981.0 78.7 984.0 78.7 C987.0 78.7 989.5 80.2 989.5 84.7 L989.5 93.7M1052.8 93.2 L1052.8 84.2 C1052.8 79.7 1055.3 78.2 1058.3 78.2 C1061.3 78.2 1063.8 79.7 1063.8 84.2 L1063.8 93.2M1124.2 91.5 L1124.2 82.5 C1124.2 78.0 1126.7 76.5 1129.7 76.5 C1132.7 76.5 1135.2 78.0 1135.2 82.5 L1135.2 91.5M1198.4 86.8 L1198.4 77.8 C1198.4 73.3 1200.9 71.8 1203.9 71.8 C1206.9 71.8 1209.4 73.3 1209.4 77.8 L1209.4 86.8"/>
<path class="c" stroke="#000" stroke-width="10.2" d="M1470.5 223.0 L1473.8 277.9 L1474.3 267.9 L1474.8 260.3 L1475.3 254.7 L1475.8 251.0 L1476.3 248.9 L1476.9 247.9 L1477.4 247.7 L1481.5 286.2 L1486.4 342.5 L1491.1 258.7 L1496.6 206.5 L1497.2 206.7 L1497.8 207.9 L1498.4 210.4 L1499.0 214.8 L1499.5 221.4 L1500.1 230.4 L1500.7 242.2 L1501.4 227.2 L1502.1 215.8 L1502.8 207.4 L1503.5 201.9 L1504.3 198.6 L1505.0 197.2 L1505.7 196.9 L1509.5 231.2 L1511.7 368.6 L1512.0 364.0 L1512.3 360.6 L1512.7 358.0 L1513.0 356.4 L1513.3 355.4 L1513.6 354.9 L1513.9 354.8 L1514.2 354.9 L1514.5 355.5 L1514.8 356.8 L1515.2 359.0 L1515.5 362.3 L1515.8 366.8 L1516.1 372.7 L1516.3 353.2 L1516.6 338.3 L1516.8 327.4 L1517.0 320.2 L1517.3 315.9 L1517.5 314.0 L1517.8 313.6 L1518.1 314.3 L1518.5 317.9 L1518.9 325.8 L1519.3 339.3 L1519.7 359.4 L1520.1 387.2 L1520.5 423.5 L1524.1 231.2 L1526.0 188.6 L1529.6 231.2 L1533.7 294.4 L1534.5 271.7 L1535.3 254.3 L1536.0 241.7 L1536.8 233.3 L1537.6 228.4 L1538.4 226.1 L1539.2 225.7 L1540.0 226.2 L1540.9 228.6 L1541.8 233.9 L1542.6 243.0 L1543.5 256.6 L1544.4 275.4 L1545.2 299.9 L1546.1 271.8 L1547.0 250.2 L1547.9 234.6 L1548.8 224.1 L1549.7 218.0 L1550.6 215.3 L1551.5 214.7 L1552.7 215.0 L1553.9 216.1 L1555.1 218.7 L1556.3 223.1 L1557.4 229.6 L1558.6 238.6 L1559.8 250.4 L1560.6 239.6 L1561.4 231.2 L1562.1 225.2 L1562.9 221.1 L1563.7 218.7 L1564.5 217.7 L1565.3 217.5 L1566.3 217.7 L1567.2 219.1 L1568.2 222.0 L1569.2 227.1 L1570.2 234.7 L1571.2 245.1 L1572.1 258.7 L1572.9 242.4 L1573.7 229.8 L1574.5 220.8 L1575.3 214.7 L1576.1 211.1 L1576.9 209.5 L1577.6 209.2 L1580.4 258.7 L1582.6 423.5 L1585.3 258.7 L1589.2 187.3 L1590.1 187.5 L1591.0 188.7 L1591.9 191.5 L1592.8 196.2 L1593.7 203.3 L1594.6 213.0 L1595.5 225.7 L1596.5 217.5 L1597.5 211.3 L1598.4 206.8 L1599.4 203.7 L1600.4 201.9 L1601.4 201.1 L1602.4 201.0 L1603.3 201.6 L1604.3 204.5 L1605.3 211.0 L1606.3 222.1 L1607.3 238.8 L1608.3 261.7 L1609.2 291.6 L1610.0 268.1 L1610.8 250.0 L1611.6 236.9 L1612.4 228.1 L1613.2 223.0 L1613.9 220.7 L1614.7 220.2 L1615.5 220.6 L1616.3 222.4 L1617.1 226.6 L1617.9 233.7 L1618.7 244.3 L1619.4 258.9 L1620.2 277.9 L1621.2 262.5 L1622.2 250.7 L1623.2 242.1 L1624.1 236.4 L1625.1 233.0 L1626.1 231.5 L1627.1 231.2 L1627.9 231.4 L1628.7 232.4 L1629.4 234.5 L1630.2 238.3 L1631.0 243.8 L1631.8 251.4 L1632.6 261.4 L1633.2 237.8 L1633.8 219.8 L1634.4 206.7 L1634.9 197.9 L1635.5 192.7 L1636.1 190.5 L1636.7 190.0 L1640.8 258.7 L1644.1 385.1 L1647.7 286.2 L1650.4 253.2 L1651.3 253.5 L1652.3 255.3 L1653.2 259.3 L1654.1 266.0 L1655.0 276.1 L1655.9 290.0 L1656.8 308.1 L1661.4 247.7 L1665.6 214.7 L1666.5 214.9 L1667.5 215.9 L1668.5 218.1 L1669.5 221.8 L1670.5 227.3 L1671.4 235.0 L1672.4 244.9 L1673.3 230.4 L1674.2 219.3 L1675.1 211.2 L1676.0 205.8 L1676.9 202.7 L1677.8 201.3 L1678.7 201.0 L1680.0 201.3 L1681.3 202.9 L1682.5 206.5 L1683.8 212.5 L1685.0 221.6 L1686.3 234.1 L1687.5 250.4 L1688.5 239.6 L1689.5 231.2 L1690.5 225.2 L1691.5 221.1 L1692.4 218.7 L1693.4 217.7 L1694.4 217.5 L1695.2 217.7 L1696.0 219.1 L1696.8 222.0 L1697.5 227.1 L1698.3 234.7 L1699.1 245.1 L1699.9 258.7 L1700.9 246.0 L1701.9 236.3 L1702.8 229.2 L1703.8 224.5 L1704.8 221.7 L1705.8 220.5 L1706.8 220.2 L1707.7 220.8 L1708.7 223.7 L1709.7 230.2 L1710.7 241.4 L1711.7 258.0 L1712.7 280.9 L1713.6 310.9 L1714.4 273.7 L1715.2 245.2 L1716.0 224.5 L1716.8 210.7 L1717.6 202.6 L1718.3 199.0 L1719.1 198.2 L1724.6 209.2 L1725.4 202.9 L1726.2 198.0 L1727.0 194.5 L1727.8 192.1 L1728.5 190.7 L1729.3 190.1 L1730.1 190.0 L1730.9 190.9 L1731.7 195.5 L1732.5 205.8 L1733.3 223.3 L1734.0 249.6 L1734.8 285.7 L1735.6 332.9 L1741.1 258.7 L1748.0 203.7 L1754.8 225.7 L1760.9 338.4 L1762.0 289.8 L1763.1 252.7 L1764.2 225.7 L1765.3 207.6 L1766.4 197.0 L1767.5 192.3 L1768.6 191.4 L1775.4 231.2 L1783.7 327.4 L1790.6 247.7 L1796.0 217.5 L1796.9 218.4 L1797.8 223.1 L1798.6 233.6 L1799.5 251.5 L1800.4 278.2 L1801.2 315.0 L1802.1 363.1 L1803.2 307.3 L1804.3 264.6 L1805.4 233.6 L1806.5 212.8 L1807.6 200.6 L1808.7 195.2 L1809.8 194.1 L1810.6 194.3 L1811.4 195.0 L1812.1 196.7 L1812.9 199.6 L1813.7 203.9 L1814.5 209.8 L1815.3 217.5 L1816.1 212.0 L1816.9 207.9 L1817.6 204.8 L1818.4 202.8 L1819.2 201.6 L1820.0 201.1 L1820.8 201.0 L1824.9 258.7 L1827.6 423.5 L1830.9 286.2 L1833.7 231.2 L1837.3 286.2 L1841.4 433.1 L1841.9 375.5 L1842.3 331.4 L1842.8 299.4 L1843.3 278.0 L1843.7 265.4 L1844.2 259.8 L1844.7 258.7 L1845.2 259.9 L1845.7 266.0 L1846.2 279.6 L1846.7 302.9 L1847.2 337.7 L1847.7 385.6 L1848.2 448.2 L1851.8 231.2 L1855.1 225.7 L1856.5 228.5"/>
<path class="c" stroke="#00ff00" stroke-width="8.8" d="M230.5 255.1 L231.8 230.1 L234.1 230.5 L236.4 195.2 L236.5 194.7 L238.7 192.2 L240.6 192.5 L242.9 412.8 L245.2 193.4 L245.7 193.5 L248.0 356.9 L250.3 205.4 L250.3 205.4 L252.5 426.5 L254.8 230.8 L257.4 253.2 L258.4 247.8 L260.7 315.3 L263.0 223.1 L263.2 222.2 L264.1 219.7 L266.4 248.6 L268.7 208.6 L269.2 208.8 L271.5 248.4 L273.4 210.8 L273.4 210.8 L275.3 253.6 L277.6 210.4 L277.9 210.1 L280.2 245.3 L282.3 206.3 L282.3 206.3 L284.3 258.8 L286.4 219.1 L286.4 219.1 L288.5 271.2 L290.8 230.1 L291.2 231.2 L295.5 239.4 L297.8 429.3 L300.1 238.2 L301.8 236.1 L304.1 448.5 L306.4 227.9 L308.7 216.9 L311.0 460.9 L313.3 201.9 L313.5 201.5 L314.8 206.5 L317.1 350.6 L319.4 219.9 L320.8 223.4 L323.1 388.1 L325.4 212.5 L327.1 206.2 L329.4 201.5 L330.4 204.0 L332.7 421.0 L335.0 217.7 L337.9 227.4 L338.1 228.8 L340.4 405.9 L342.6 263.3 L342.6 263.3 L344.8 356.5 L347.1 269.7 L348.2 266.0 L350.5 427.9 L352.8 252.0 L359.2 239.7 L361.5 432.0 L363.8 224.0 L364.8 220.5 L365.6 220.5 L367.9 425.2 L370.2 229.4 L373.8 244.0 L376.1 415.5 L378.4 240.8 L381.2 235.5 L383.5 509.0 L385.8 227.7 L388.9 224.5 L391.2 373.0 L393.5 221.1 L396.1 220.2 L397.2 219.6 L399.5 412.8 L401.8 223.8 L405.9 236.8 L408.2 452.6 L410.5 232.9 L412.3 227.4 L414.6 408.7 L416.9 228.3 L417.9 229.4 L421.1 235.5 L423.4 448.5 L425.7 243.5 L426.5 243.6 L428.8 454.0 L431.1 244.0 L431.3 244.0 L434.2 247.8 L436.5 364.7 L438.8 254.6 L442.5 264.4 L444.8 422.4 L447.1 276.7 L447.5 277.9 L450.2 245.8 L452.5 526.8 L454.8 205.5 L458.0 205.9 L459.5 205.0 L461.8 379.8 L464.1 201.9 L466.8 196.9 L469.4 211.1 L471.7 416.9 L474.0 225.7 L476.8 232.5 L479.1 389.4 L481.4 242.7 L485.1 250.7 L487.4 410.1 L489.7 255.3 L490.6 252.0 L492.9 458.1 L495.2 235.1 L497.0 228.5 L500.0 238.8 L502.4 249.9 L504.7 456.8 L507.0 268.9 L508.4 266.0 L510.7 451.3 L513.0 256.8 L516.1 250.6 L518.4 561.2 L520.7 241.2 L522.1 238.3 L524.4 383.5 L526.7 229.0 L527.1 228.2 L529.4 423.8 L531.7 218.9 L532.4 217.4 L534.5 209.0 L536.8 362.0 L539.1 193.2 L540.9 190.0 L541.9 192.8 L544.2 467.7 L546.5 206.3 L551.0 220.0 L553.3 411.4 L555.6 229.2 L561.5 216.1 L562.0 216.3 L564.3 422.4 L566.6 220.8 L571.6 231.7 L573.9 569.4 L576.2 231.2 L577.3 228.5 L579.6 411.9 L581.9 225.3 L583.8 233.9 L584.8 236.5 L587.1 412.8 L589.4 249.0 L590.0 250.8 L592.2 253.7 L594.5 449.9 L596.8 259.9 L598.5 262.2 L600.8 609.2 L603.1 262.9 L607.3 261.1 L609.6 466.4 L611.9 259.2 L612.1 259.2 L613.8 251.0 L616.1 292.1 L618.1 231.4 L618.1 231.4 L620.1 290.4 L622.4 224.1 L623.2 225.3 L625.5 504.8 L627.8 230.6 L628.0 230.3 L630.3 286.3 L632.2 223.3 L632.2 223.3 L634.1 278.5 L636.4 217.9 L637.2 218.4 L639.5 279.5 L641.8 216.7 L643.2 213.8 L645.5 381.2 L647.8 205.7 L649.6 203.7 L650.3 204.5 L652.6 336.5 L654.9 212.7 L657.5 219.3 L659.8 362.0 L662.1 209.7 L663.7 205.8 L666.0 302.7 L668.3 196.3 L669.3 185.1 L671.6 360.6 L673.9 163.5 L674.6 162.3 L680.7 158.1 L681.7 153.4 L684.0 371.6 L686.3 71.8 L688.9 66.6 L689.7 65.0 L692.4 70.3 L694.7 191.3 L697.0 149.8 L698.1 155.1 L700.4 340.0 L702.7 165.6 L704.8 169.1 L707.8 182.7 L710.1 301.5 L712.4 193.3 L713.6 195.5 L716.0 200.2 L718.3 311.2 L720.6 214.3 L723.8 231.2 L727.8 224.0 L730.1 447.1 L732.4 216.9 L734.8 214.7 L736.6 229.7 L738.9 445.8 L741.2 250.7 L741.7 252.8 L744.0 302.1 L746.3 256.9 L747.6 257.8 L749.9 308.4 L752.2 261.1 L752.6 261.4 L754.5 260.8 L756.8 309.8 L759.1 259.3 L760.9 258.7 L761.3 259.6 L763.6 415.5 L765.9 268.8 L769.1 275.2 L771.8 249.4 L774.1 482.9 L776.4 211.2 L778.7 212.0 L779.5 214.0 L781.8 364.7 L784.1 220.6 L786.1 216.7 L788.4 381.2 L790.7 207.6 L790.8 207.3 L793.5 206.6 L795.8 449.9 L798.1 226.9 L802.0 242.0 L804.3 487.0 L806.6 229.0 L809.4 212.2 L811.7 405.9 L814.0 183.3 L814.5 180.4 L815.6 186.2 L817.9 332.9 L820.2 200.2 L820.4 200.5 L822.7 515.8 L824.9 208.3 L824.9 208.3 L827.1 328.8 L829.4 195.3 L830.0 193.4 L832.3 341.4 L834.6 180.0 L836.4 177.6 L836.9 180.2 L839.2 353.7 L841.5 205.9 L844.3 221.5 L846.6 436.2 L848.9 221.6 L852.1 210.9 L854.4 355.3 L856.7 213.7 L856.7 213.7 L859.0 536.4 L861.3 232.8 L864.3 234.8 L866.6 416.9 L868.9 236.6 L871.0 236.5 L873.3 373.2 L875.6 236.4 L876.2 236.4 L878.5 441.6 L880.8 232.7 L884.8 229.0 L885.8 225.2 L888.1 440.3 L890.4 214.4 L891.8 215.3 L894.1 416.9 L896.4 213.6 L900.9 194.7 L903.2 514.4 L905.5 177.3 L907.9 170.8 L911.6 178.6 L912.4 182.8 L914.7 441.6 L917.0 207.2 L917.7 211.1 L920.7 224.5 L923.0 415.5 L925.3 245.6 L925.7 247.7 L928.4 232.7 L930.7 399.1 L933.0 206.5 L933.1 205.9 L933.5 205.9 L937.7 231.6 L940.0 546.0 L942.3 235.5 L945.4 228.2 L947.7 378.5 L950.0 221.9 L950.4 221.6 L953.1 231.5 L955.4 396.3 L957.7 232.6 L959.1 224.7 L961.4 349.6 L963.7 206.2 L963.9 206.2 L966.2 342.7 L968.5 210.0 L968.7 210.3 L971.0 385.3 L973.3 209.5 L975.1 199.9 L977.4 388.1 L979.7 174.1 L980.4 170.1 L980.8 169.3 L983.1 309.2 L985.3 169.6 L985.3 169.6 L987.5 454.0 L989.8 191.8 L991.9 203.5 L993.5 204.6 L995.8 344.1 L998.1 208.7 L1002.3 215.8 L1004.6 410.1 L1006.9 234.9 L1010.9 253.2 L1011.3 252.5 L1013.6 340.0 L1015.9 244.8 L1018.2 241.1 L1020.5 279.6 L1022.8 212.8 L1023.2 209.2 L1024.2 210.8 L1026.5 471.9 L1028.8 218.2 L1030.1 220.2 L1031.9 213.9 L1034.2 367.5 L1036.5 201.7 L1038.8 203.5 L1041.1 438.9 L1043.4 202.0 L1049.0 174.9 L1051.3 460.9 L1053.6 160.5 L1054.9 158.2 L1054.9 159.3 L1058.0 159.3 L1058.2 160.5 L1060.5 434.8 L1062.8 190.3 L1063.5 195.0 L1064.6 196.2 L1066.9 367.3 L1069.2 201.8 L1070.6 205.7 L1072.9 393.6 L1075.2 219.6 L1080.0 238.9 L1081.5 243.8 L1083.8 441.6 L1086.1 258.4 L1088.0 264.2 L1088.4 263.7 L1090.7 419.7 L1093.0 259.3 L1095.3 257.1 L1097.6 374.3 L1099.9 242.6 L1102.7 231.4 L1105.0 400.4 L1107.3 226.0 L1110.1 224.1 L1112.4 344.2 L1114.7 214.2 L1115.9 215.6 L1118.2 404.6 L1120.5 213.1 L1122.8 195.6 L1125.1 392.2 L1127.4 160.2 L1127.5 158.9 L1128.1 158.1 L1130.4 293.8 L1132.5 164.3 L1132.5 164.3 L1134.7 373.0 L1137.0 199.0 L1138.8 214.7 L1139.2 214.4 L1141.5 355.1 L1143.8 210.9 L1144.3 210.6 L1147.3 216.6 L1147.5 218.2 L1149.8 315.3 L1152.1 260.5 L1153.0 264.3 L1155.3 482.9 L1157.6 283.9 L1158.5 287.7 L1160.8 488.3 L1163.1 287.8 L1164.8 286.1 L1167.1 493.8 L1169.4 274.9 L1170.1 271.7 L1172.4 370.6 L1174.7 243.4 L1177.7 216.9 L1180.0 390.8 L1182.3 190.6 L1182.7 188.6 L1187.9 207.8 L1190.2 444.4 L1192.5 204.4 L1195.6 200.9 L1197.9 345.5 L1200.2 164.7 L1201.7 150.8 L1202.4 150.6 L1204.7 341.3 L1207.0 166.8 L1207.1 167.7 L1209.4 514.4 L1211.6 199.2 L1211.6 199.2 L1213.7 389.0 L1216.0 218.0 L1218.4 226.1 L1220.7 454.0 L1223.0 225.0 L1226.7 217.5 L1228.5 225.3 L1230.8 504.8 L1233.1 242.4 L1237.3 256.4 L1238.1 256.8 L1240.4 430.7 L1242.7 259.1 L1245.0 260.3 L1247.3 345.5 L1249.6 259.0 L1255.2 253.1 L1257.5 384.0 L1259.8 240.6 L1261.0 235.3 L1263.7 249.2 L1266.0 441.6 L1268.3 276.3 L1270.2 287.9 L1273.9 307.6 L1276.2 496.6 L1278.5 323.1 L1284.3 296.5 L1286.6 519.9 L1288.9 274.6 L1289.5 271.8 L1291.8 377.8 L1294.1 276.3 L1296.8 280.7 L1297.2 276.6 L1299.5 478.7 L1301.8 235.2 L1302.3 231.2 L1303.6 233.2 L1305.9 272.7 L1308.2 243.0 L1308.6 244.2 L1310.9 278.7 L1313.2 256.6 L1313.7 257.4 L1316.0 449.9 L1318.3 264.8 L1319.8 267.2 L1324.7 279.0 L1327.0 323.5 L1329.3 287.3 L1332.9 292.2 L1335.2 449.9 L1337.5 293.3 L1338.4 289.5 L1340.7 449.9 L1343.0 270.3 L1345.2 261.2 L1345.4 261.2 L1347.7 393.3 L1350.0 260.0 L1350.8 259.8 L1353.1 449.9 L1355.4 245.5 L1355.8 243.6 L1358.8 259.3 L1359.0 259.4 L1361.3 603.7 L1363.6 261.8 L1368.2 264.2 L1371.4 261.4 L1373.7 323.5 L1376.0 257.5 L1377.8 255.9 L1378.8 257.1 L1381.1 371.6 L1383.4 262.7 L1384.7 264.2 L1386.1 262.9 L1388.4 312.2 L1390.6 258.7 L1390.6 258.7 L1392.9 315.3 L1395.2 244.3 L1397.0 227.1 L1398.9 230.9 L1401.2 377.1 L1403.5 250.0 L1404.3 254.4 L1406.6 449.9 L1408.9 266.1 L1409.7 261.1 L1412.0 294.4 L1413.9 232.5 L1413.9 232.5 L1415.8 289.8 L1418.1 228.6 L1418.7 229.1 L1419.5 231.1 L1421.8 287.8 L1424.1 242.3 L1425.5 245.9 L1429.6 248.0 L1431.9 449.9 L1434.2 250.2 L1437.6 251.2 L1439.9 385.6 L1442.2 256.0 L1444.2 258.9 L1446.5 555.7 L1448.8 261.5 L1455.2 242.8 L1457.5 400.4 L1459.8 224.9 L1460.2 223.0 L1461.9 225.9 L1464.0 229.6 L1466.5 229.6 L1470.0 224.1 L1473.3 279.0 L1473.8 269.0 L1474.3 261.4 L1474.8 255.8 L1475.3 252.1 L1475.8 250.0 L1476.4 249.0 L1476.9 248.8 L1481.0 287.3 L1485.9 343.6 L1490.6 259.8 L1496.1 207.6 L1496.7 207.8 L1497.3 209.0 L1497.9 211.5 L1498.5 215.9 L1499.0 222.5 L1499.6 231.5 L1500.2 243.3 L1500.9 228.3 L1501.6 216.9 L1502.3 208.5 L1503.0 203.0 L1503.8 199.7 L1504.5 198.3 L1505.2 198.0 L1509.0 232.3 L1511.2 360.1 L1513.4 314.7 L1515.6 314.7 L1517.3 287.3 L1517.6 287.9 L1518.0 291.3 L1518.4 298.9 L1518.8 311.9 L1519.2 331.4 L1519.6 358.1 L1520.0 393.0 L1523.6 232.3 L1525.5 189.7 L1529.1 232.3 L1533.2 295.5 L1534.0 272.8 L1534.8 255.4 L1535.5 242.8 L1536.3 234.4 L1537.1 229.5 L1537.9 227.2 L1538.7 226.8 L1539.5 227.3 L1540.4 229.7 L1541.3 235.0 L1542.1 244.1 L1543.0 257.7 L1543.9 276.5 L1544.7 301.0 L1545.6 272.9 L1546.5 251.3 L1547.4 235.7 L1548.3 225.2 L1549.2 219.1 L1550.1 216.4 L1551.0 215.8 L1552.2 216.1 L1553.4 217.2 L1554.6 219.8 L1555.8 224.2 L1556.9 230.7 L1558.1 239.7 L1559.3 251.5 L1560.1 240.7 L1560.9 232.3 L1561.6 226.3 L1562.4 222.2 L1563.2 219.8 L1564.0 218.8 L1564.8 218.6 L1565.8 218.8 L1566.7 220.2 L1567.7 223.1 L1568.7 228.2 L1569.7 235.8 L1570.7 246.2 L1571.6 259.8 L1572.4 243.5 L1573.2 230.9 L1574.0 221.9 L1574.8 215.8 L1575.6 212.2 L1576.4 210.6 L1577.1 210.3 L1579.9 259.8 L1582.1 424.6 L1584.8 259.8 L1588.7 188.4 L1589.6 188.6 L1590.5 189.8 L1591.4 192.6 L1592.3 197.3 L1593.2 204.4 L1594.1 214.1 L1595.0 226.8 L1596.0 218.6 L1597.0 212.4 L1597.9 207.9 L1598.9 204.8 L1599.9 203.0 L1600.9 202.2 L1601.9 202.1 L1602.8 202.7 L1603.8 205.6 L1604.8 212.1 L1605.8 223.2 L1606.8 239.9 L1607.8 262.8 L1608.7 292.7 L1609.5 269.2 L1610.3 251.1 L1611.1 238.0 L1611.9 229.2 L1612.7 224.1 L1613.4 221.8 L1614.2 221.3 L1615.0 221.7 L1615.8 223.5 L1616.6 227.7 L1617.4 234.8 L1618.2 245.4 L1618.9 260.0 L1619.7 279.0 L1620.7 263.6 L1621.7 251.8 L1622.7 243.2 L1623.6 237.5 L1624.6 234.1 L1625.6 232.6 L1626.6 232.3 L1627.4 232.5 L1628.2 233.5 L1628.9 235.6 L1629.7 239.4 L1630.5 244.9 L1631.3 252.5 L1632.1 262.5 L1632.7 238.9 L1633.3 220.9 L1633.9 207.8 L1634.4 199.0 L1635.0 193.8 L1635.6 191.6 L1636.2 191.1 L1640.3 259.8 L1643.6 386.2 L1647.2 287.3 L1649.9 254.3 L1650.8 254.6 L1651.8 256.4 L1652.7 260.4 L1653.6 267.1 L1654.5 277.2 L1655.4 291.1 L1656.3 309.2 L1660.9 248.8 L1665.1 215.8 L1666.0 216.0 L1667.0 217.0 L1668.0 219.2 L1669.0 222.9 L1670.0 228.4 L1670.9 236.1 L1671.9 246.0 L1672.8 231.5 L1673.7 220.4 L1674.6 212.3 L1675.5 206.9 L1676.4 203.8 L1677.3 202.4 L1678.2 202.1 L1679.5 202.4 L1680.8 204.0 L1682.0 207.6 L1683.3 213.6 L1684.5 222.7 L1685.8 235.2 L1687.0 251.5 L1688.0 240.7 L1689.0 232.3 L1690.0 226.3 L1691.0 222.2 L1691.9 219.8 L1692.9 218.8 L1693.9 218.6 L1694.7 218.8 L1695.5 220.2 L1696.3 223.1 L1697.0 228.2 L1697.8 235.8 L1698.6 246.2 L1699.4 259.8 L1700.4 247.1 L1701.4 237.4 L1702.3 230.3 L1703.3 225.6 L1704.3 222.8 L1705.3 221.6 L1706.3 221.3 L1707.2 221.9 L1708.2 224.8 L1709.2 231.3 L1710.2 242.5 L1711.2 259.1 L1712.2 282.0 L1713.1 312.0 L1713.9 274.8 L1714.7 246.3 L1715.5 225.6 L1716.3 211.8 L1717.1 203.7 L1717.8 200.1 L1718.6 199.3 L1724.1 210.3 L1724.9 204.0 L1725.7 199.1 L1726.5 195.6 L1727.3 193.2 L1728.0 191.8 L1728.8 191.2 L1729.6 191.1 L1730.4 192.0 L1731.2 196.6 L1732.0 206.9 L1732.8 224.4 L1733.5 250.7 L1734.3 286.8 L1735.1 334.0 L1740.6 259.8 L1747.5 204.8 L1754.3 226.8 L1760.4 339.5 L1761.5 290.9 L1762.6 253.8 L1763.7 226.8 L1764.8 208.7 L1765.9 198.1 L1767.0 193.4 L1768.1 192.5 L1774.9 232.3 L1783.2 328.5 L1790.1 248.8 L1795.5 218.6 L1796.4 219.5 L1797.3 224.2 L1798.1 234.7 L1799.0 252.6 L1799.9 279.3 L1800.7 316.1 L1801.6 364.2 L1802.7 308.4 L1803.8 265.7 L1804.9 234.7 L1806.0 213.9 L1807.1 201.7 L1808.2 196.3 L1809.3 195.2 L1810.1 195.4 L1810.9 196.1 L1811.6 197.8 L1812.4 200.7 L1813.2 205.0 L1814.0 210.9 L1814.8 218.6 L1815.6 213.1 L1816.4 209.0 L1817.1 205.9 L1817.9 203.9 L1818.7 202.7 L1819.5 202.2 L1820.3 202.1 L1824.4 259.8 L1827.1 424.6 L1830.4 287.3 L1833.2 232.3 L1836.8 287.3 L1840.9 452.1 L1841.4 397.7 L1841.8 356.0 L1842.3 325.7 L1842.8 305.5 L1843.2 293.6 L1843.7 288.3 L1844.2 287.3 L1844.7 288.5 L1845.2 294.9 L1845.7 309.1 L1846.2 333.4 L1846.7 369.7 L1847.2 419.7 L1847.7 485.1 L1851.3 232.3 L1854.6 226.8 L1856.0 229.6"/>
</g></g>
<text transform="translate(233.0 2388.6) scale(0.965 1.025)" text-anchor="middle" class="tk">0</text>
<text transform="translate(507.8 2388.6) scale(0.965 1.025)" text-anchor="middle" class="tk">5</text>
<text transform="translate(782.7 2388.6) scale(0.965 1.025)" text-anchor="middle" class="tk">10</text>
<text transform="translate(1057.5 2388.6) scale(0.965 1.025)" text-anchor="middle" class="tk">15</text>
<text transform="translate(1332.3 2388.6) scale(0.965 1.025)" text-anchor="middle" class="tk">20</text>
<text transform="translate(1607.2 2388.6) scale(0.965 1.025)" text-anchor="middle" class="tk">25</text>
<text transform="translate(1882.0 2388.6) scale(0.965 1.025)" text-anchor="middle" class="tk">30</text>
<text transform="translate(210.6 2332.8) scale(0.965 1.025)" text-anchor="end" class="tk">0</text>
<text transform="translate(210.6 2040.2) scale(0.965 1.025)" text-anchor="end" class="tk">50</text>
<text transform="translate(210.6 1747.7) scale(0.965 1.025)" text-anchor="end" class="tk">100</text>
<text x="1055.8" y="2466.0" text-anchor="middle" class="lb">Time/us</text>
<text transform="translate(89.5 2021.5) rotate(-90)" text-anchor="middle" class="lb">Amplitude/dB</text>
<rect x="1316.5" y="2079.8" width="528.1" height="145.2" fill="#fff" stroke="#262626" stroke-width="8"/>
<rect x="1331.1" y="2113.9" width="41.0" height="11.8" fill="#000"/>
<rect x="1381.1" y="2113.9" width="21.0" height="11.8" fill="#000"/>
<rect x="1411.1" y="2113.9" width="34.5" height="11.8" fill="#000"/>
<rect x="1331.1" y="2182.4" width="114.5" height="8.8" fill="#00ff00"/>
<text x="1455.0" y="2138.3" class="lg">Received</text>
<text x="1455.0" y="2205.3" class="lg">Sparse Recovery</text>
</g>
</svg>
</body></html>
